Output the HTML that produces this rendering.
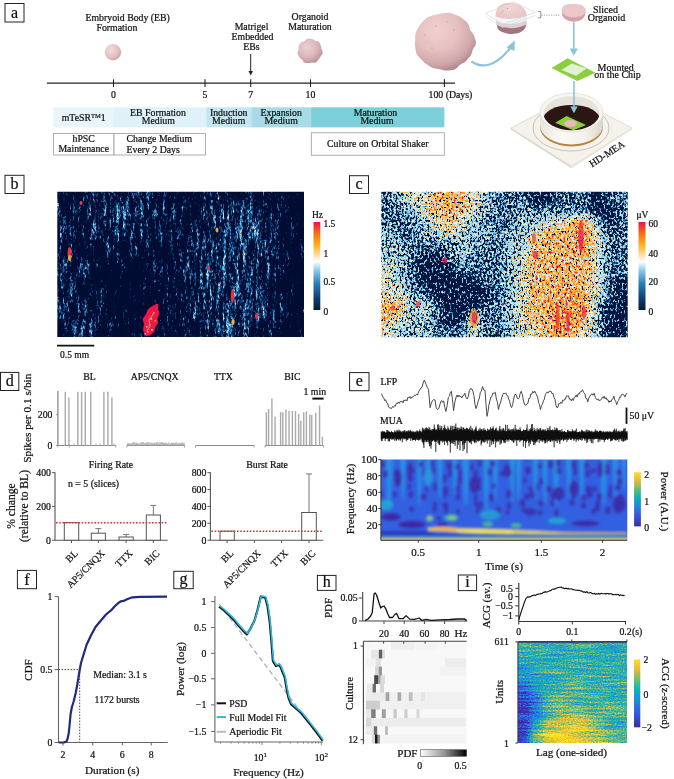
<!DOCTYPE html>
<html><head><meta charset="utf-8"><title>Figure</title>
<style>
html,body{margin:0;padding:0;background:#fff;}
body{width:674px;height:779px;overflow:hidden;}
svg{display:block;}
text{font-family:'Liberation Serif', 'Times New Roman', serif;stroke:#111;stroke-width:0.22px;}
</style></head><body>
<svg width="674" height="779" viewBox="0 0 674 779">
<defs>

<radialGradient id="eb" cx="0.38" cy="0.35" r="0.7">
<stop offset="0" stop-color="#f3dcdc"/><stop offset="0.6" stop-color="#e6c2c2"/><stop offset="1" stop-color="#cda2a6"/></radialGradient>
<radialGradient id="org" cx="0.38" cy="0.35" r="0.75">
<stop offset="0" stop-color="#ecd0d0"/><stop offset="0.55" stop-color="#dbb6b8"/><stop offset="1" stop-color="#b08a90"/></radialGradient>
<filter id="fB" x="37.3" y="171.7" width="286.7" height="185.3" filterUnits="userSpaceOnUse" primitiveUnits="userSpaceOnUse" color-interpolation-filters="sRGB">
<feGaussianBlur in="SourceGraphic" stdDeviation="4" result="fld"/>
<feTurbulence type="fractalNoise" baseFrequency="0.6 0.3" numOctaves="2" seed="7" result="tn"/>
<feColorMatrix in="tn" type="matrix" values="1 0 0 0 0  1 0 0 0 0  1 0 0 0 0  0 0 0 0 1" result="ng"/>
<feTurbulence type="fractalNoise" baseFrequency="0.3 0.05" numOctaves="2" seed="12" result="tn2"/>
<feColorMatrix in="tn2" type="matrix" values="1 0 0 0 0  1 0 0 0 0  1 0 0 0 0  0 0 0 0 1" result="ng2"/>
<feComposite in="fld" in2="ng" operator="arithmetic" k1="0" k2="1" k3="1.0" k4="-0.5" result="s1"/>
<feComposite in="s1" in2="ng2" operator="arithmetic" k1="0" k2="1" k3="1.1" k4="-0.55" result="sum"/>
<feComponentTransfer in="sum"><feFuncR type="table" tableValues="0.008 0.008 0.008 0.009 0.009 0.009 0.009 0.010 0.010 0.010 0.011 0.011 0.011 0.011 0.012 0.017 0.026 0.035 0.044 0.056 0.071 0.086 0.102 0.122 0.163 0.204 0.244 0.285 0.339 0.411 0.483 0.555 0.627 0.731 0.834 0.938 0.998 0.992 0.979 0.956 0.933"/><feFuncG type="table" tableValues="0.047 0.048 0.049 0.050 0.050 0.051 0.052 0.053 0.054 0.054 0.055 0.056 0.057 0.058 0.058 0.081 0.117 0.153 0.189 0.227 0.265 0.304 0.342 0.383 0.435 0.488 0.540 0.592 0.642 0.690 0.737 0.784 0.831 0.862 0.892 0.923 0.891 0.765 0.596 0.361 0.125"/><feFuncB type="table" tableValues="0.196 0.197 0.198 0.199 0.200 0.202 0.203 0.204 0.205 0.206 0.207 0.208 0.209 0.210 0.211 0.241 0.290 0.339 0.388 0.434 0.476 0.519 0.562 0.605 0.651 0.697 0.742 0.788 0.826 0.851 0.876 0.901 0.925 0.878 0.830 0.782 0.640 0.358 0.199 0.225 0.251"/><feFuncA type="linear" slope="0" intercept="1"/></feComponentTransfer>
</filter><filter id="fC" x="361.3" y="171.7" width="286.40000000000003" height="185.5" filterUnits="userSpaceOnUse" primitiveUnits="userSpaceOnUse" color-interpolation-filters="sRGB">
<feGaussianBlur in="SourceGraphic" stdDeviation="5" result="fld"/>
<feTurbulence type="fractalNoise" baseFrequency="0.5 0.35" numOctaves="2" seed="3" result="tn"/>
<feColorMatrix in="tn" type="matrix" values="1 0 0 0 0  1 0 0 0 0  1 0 0 0 0  0 0 0 0 1" result="ng"/>
<feTurbulence type="fractalNoise" baseFrequency="0.55 0.45" numOctaves="1" seed="9" result="td"/>
<feColorMatrix in="td" type="matrix" values="0 1 0 0 0  0 1 0 0 0  0 1 0 0 0  0 0 0 0 1" result="dg"/>
<feComponentTransfer in="dg" result="dm"><feFuncR type="table" tableValues="0 0 0 0 0 0 0 0 0 0 0 0 1 1 1 1 1 1 1 1 1 1 1 1 1 1 1 1 1 1 1 1 1 1"/><feFuncG type="table" tableValues="0 0 0 0 0 0 0 0 0 0 0 0 1 1 1 1 1 1 1 1 1 1 1 1 1 1 1 1 1 1 1 1 1 1"/><feFuncB type="table" tableValues="0 0 0 0 0 0 0 0 0 0 0 0 1 1 1 1 1 1 1 1 1 1 1 1 1 1 1 1 1 1 1 1 1 1"/></feComponentTransfer>
<feComposite in="fld" in2="ng" operator="arithmetic" k1="0" k2="1" k3="1.15" k4="-0.575" result="s1"/>
<feComposite in="s1" in2="dm" operator="arithmetic" k1="1" k2="0" k3="0" k4="0" result="sum"/>
<feComponentTransfer in="sum"><feFuncR type="table" tableValues="0.016 0.017 0.018 0.019 0.020 0.021 0.022 0.023 0.067 0.122 0.176 0.332 0.487 0.565 0.592 0.619 0.645 0.683 0.767 0.850 0.933 0.958 0.982 0.992 0.992 0.992 0.991 0.990 0.989 0.988 0.984 0.980 0.976 0.968 0.960 0.950 0.935 0.921 0.918 0.918 0.918"/><feFuncG type="table" tableValues="0.067 0.072 0.076 0.081 0.086 0.091 0.096 0.101 0.207 0.339 0.471 0.606 0.742 0.805 0.820 0.835 0.851 0.870 0.904 0.938 0.973 0.938 0.904 0.848 0.778 0.717 0.696 0.674 0.653 0.627 0.585 0.544 0.502 0.426 0.351 0.273 0.184 0.096 0.078 0.078 0.078"/><feFuncB type="table" tableValues="0.227 0.232 0.236 0.241 0.245 0.249 0.254 0.258 0.382 0.536 0.690 0.778 0.867 0.906 0.913 0.920 0.928 0.937 0.952 0.968 0.984 0.849 0.713 0.561 0.397 0.260 0.227 0.193 0.160 0.131 0.119 0.106 0.094 0.108 0.122 0.148 0.224 0.299 0.314 0.314 0.314"/><feFuncA type="linear" slope="0" intercept="1"/></feComponentTransfer>
</filter><clipPath id="cB"><rect x="57.3" y="191.7" width="246.7" height="145.3"/></clipPath><clipPath id="cC"><rect x="381.3" y="191.7" width="246.40000000000003" height="145.5"/></clipPath><linearGradient id="cbar" x1="0" y1="1" x2="0" y2="0">
<stop offset="0" stop-color="#061838"/><stop offset="0.12" stop-color="#0e3a6c"/><stop offset="0.3" stop-color="#2a7db5"/>
<stop offset="0.45" stop-color="#8ccbe5"/><stop offset="0.55" stop-color="#ffffff"/><stop offset="0.68" stop-color="#fdc860"/>
<stop offset="0.78" stop-color="#fca010"/><stop offset="0.9" stop-color="#f55a1e"/><stop offset="1" stop-color="#ee0f52"/></linearGradient><clipPath id="cS"><rect x="380.9" y="459.4" width="246.39999999999998" height="80.89999999999998"/></clipPath><filter id="bS" x="-5%" y="-5%" width="110%" height="110%"><feGaussianBlur stdDeviation="1.7"/></filter><filter id="bS2" x="-5%" y="-5%" width="110%" height="110%"><feGaussianBlur stdDeviation="0.8"/></filter><linearGradient id="parula" x1="0" y1="1" x2="0" y2="0">
<stop offset="0" stop-color="#3d2b9c"/><stop offset="0.2" stop-color="#3a55e0"/><stop offset="0.4" stop-color="#1e90d8"/>
<stop offset="0.55" stop-color="#12b0b8"/><stop offset="0.7" stop-color="#6cc070"/><stop offset="0.85" stop-color="#e8b840"/><stop offset="1" stop-color="#f8e420"/></linearGradient><filter id="bH" x="-5%" y="-5%" width="110%" height="110%"><feGaussianBlur stdDeviation="0.6"/></filter><linearGradient id="gray" x1="0" y1="0" x2="1" y2="0"><stop offset="0" stop-color="#fff"/><stop offset="0.5" stop-color="#9a9a9a"/><stop offset="1" stop-color="#000"/></linearGradient><filter id="fU" x="497.9" y="621.9" width="149.0" height="141.10000000000002" filterUnits="userSpaceOnUse" primitiveUnits="userSpaceOnUse" color-interpolation-filters="sRGB">
<feGaussianBlur in="SourceGraphic" stdDeviation="3.5" result="fld"/>
<feTurbulence type="fractalNoise" baseFrequency="0.6 0.9" numOctaves="1" seed="17" result="tn"/>
<feColorMatrix in="tn" type="matrix" values="1 0 0 0 0  1 0 0 0 0  1 0 0 0 0  0 0 0 0 1" result="ng"/>
<feTurbulence type="fractalNoise" baseFrequency="0.03 0.5" numOctaves="2" seed="23" result="tn2"/>
<feColorMatrix in="tn2" type="matrix" values="1 0 0 0 0  1 0 0 0 0  1 0 0 0 0  0 0 0 0 1" result="ng2"/>
<feComposite in="fld" in2="ng" operator="arithmetic" k1="0" k2="1" k3="0.75" k4="-0.375" result="s1"/>
<feComposite in="s1" in2="ng2" operator="arithmetic" k1="0" k2="1" k3="0.6" k4="-0.3" result="sum"/>
<feComponentTransfer in="sum"><feFuncR type="table" tableValues="0.239 0.238 0.236 0.234 0.233 0.230 0.221 0.211 0.202 0.193 0.184 0.170 0.156 0.141 0.127 0.113 0.106 0.101 0.096 0.091 0.104 0.121 0.138 0.189 0.263 0.336 0.410 0.482 0.552 0.623 0.693 0.755 0.809 0.864 0.919 0.945 0.950 0.956 0.961 0.967 0.973"/><feFuncG type="table" tableValues="0.169 0.185 0.201 0.218 0.234 0.254 0.288 0.322 0.356 0.390 0.424 0.453 0.482 0.512 0.541 0.571 0.594 0.615 0.637 0.658 0.675 0.689 0.704 0.716 0.725 0.735 0.745 0.748 0.746 0.744 0.742 0.744 0.749 0.754 0.759 0.777 0.803 0.830 0.857 0.883 0.910"/><feFuncB type="table" tableValues="0.612 0.659 0.707 0.754 0.801 0.842 0.856 0.869 0.883 0.896 0.910 0.901 0.892 0.883 0.874 0.865 0.845 0.824 0.802 0.781 0.749 0.715 0.680 0.637 0.588 0.539 0.490 0.452 0.420 0.389 0.358 0.326 0.295 0.264 0.232 0.210 0.193 0.176 0.159 0.142 0.125"/><feFuncA type="linear" slope="0" intercept="1"/></feComponentTransfer>
</filter><clipPath id="cU"><rect x="517.9" y="641.9" width="109.0" height="101.10000000000002"/></clipPath>
<radialGradient id="bigorg" cx="0.36" cy="0.3" r="0.8">
<stop offset="0" stop-color="#f0d2d1"/><stop offset="0.45" stop-color="#e5c0bf"/><stop offset="0.75" stop-color="#cfa6a8"/><stop offset="1" stop-color="#9c767c"/></radialGradient>
<radialGradient id="smorg" cx="0.45" cy="0.3" r="0.75">
<stop offset="0" stop-color="#efc9c8"/><stop offset="1" stop-color="#e0aeb0"/></radialGradient>
<linearGradient id="smbot" x1="0" y1="0" x2="0" y2="1"><stop offset="0" stop-color="#b58890"/><stop offset="1" stop-color="#8a5c66"/></linearGradient>
<linearGradient id="wall" x1="0" y1="0" x2="1" y2="0">
<stop offset="0" stop-color="#e8e6df"/><stop offset="0.35" stop-color="#fbfaf6"/><stop offset="0.75" stop-color="#f1efe8"/><stop offset="1" stop-color="#d8d5cc"/></linearGradient>
<filter id="soft" x="-10%" y="-10%" width="120%" height="120%"><feGaussianBlur stdDeviation="0.5"/></filter>
<clipPath id="cDish"><ellipse cx="571.5" cy="113.2" rx="28" ry="17"/></clipPath><filter id="fsp" x="-20%" y="-20%" width="140%" height="140%"><feGaussianBlur stdDeviation="0.5"/></filter>
</defs>
<rect x="0" y="0" width="674" height="779" fill="#fff"/>
<rect x="5.00" y="3.50" width="19.00" height="18.50" fill="#fff" stroke="#222" stroke-width="1"/>
<text x="14.50" y="17.50" font-size="16" text-anchor="middle" fill="#111">a</text>
<text x="85.50" y="20.50" font-size="9.8" fill="#111">Embryoid Body (EB)</text>
<text x="96.50" y="31.00" font-size="9.8" fill="#111">Formation</text>
<circle cx="113" cy="52.3" r="8.2" fill="url(#eb)"/>
<text x="251.50" y="29.80" font-size="9.8" text-anchor="middle" fill="#111">Matrigel</text>
<text x="252.50" y="40.40" font-size="9.8" text-anchor="middle" fill="#111">Embedded</text>
<text x="251.50" y="50.40" font-size="9.8" text-anchor="middle" fill="#111">EBs</text>
<line x1="250.70" y1="54.00" x2="250.70" y2="72.00" stroke="#222" stroke-width="1"/>
<path d="M248.5,71 L252.9,71 L250.7,75.5 Z" fill="#222"/>
<text x="310.00" y="20.20" font-size="9.8" text-anchor="middle" fill="#111">Organoid</text>
<text x="310.00" y="29.80" font-size="9.8" text-anchor="middle" fill="#111">Maturation</text>
<path d="M322.46,51.10 L322.78,53.35 L321.29,55.21 L320.29,57.04 L319.10,58.73 L317.77,60.36 L316.50,62.37 L314.22,62.70 L312.01,62.52 L310.00,63.12 L307.90,63.01 L305.66,63.02 L303.63,62.14 L302.56,59.97 L300.97,58.67 L299.32,57.27 L298.33,55.35 L297.40,53.32 L298.06,51.10 L298.75,49.12 L298.36,46.86 L299.16,44.84 L300.40,43.05 L302.09,41.67 L304.30,41.24 L305.88,39.77 L307.78,38.49 L310.00,38.72 L312.14,38.98 L314.01,40.09 L315.83,41.01 L318.24,41.28 L319.67,42.99 L320.45,45.07 L321.26,47.00 L321.43,49.08 Z" fill="url(#org)" filter="url(#soft)"/>
<line x1="46.90" y1="83.10" x2="455.00" y2="83.10" stroke="#222" stroke-width="1.1"/>
<line x1="113.50" y1="79.30" x2="113.50" y2="87.00" stroke="#222" stroke-width="1.1"/>
<line x1="205.00" y1="79.30" x2="205.00" y2="87.00" stroke="#222" stroke-width="1.1"/>
<line x1="250.70" y1="79.30" x2="250.70" y2="87.00" stroke="#222" stroke-width="1.1"/>
<line x1="310.50" y1="79.30" x2="310.50" y2="87.00" stroke="#222" stroke-width="1.1"/>
<line x1="444.40" y1="79.30" x2="444.40" y2="87.00" stroke="#222" stroke-width="1.1"/>
<text x="113.50" y="98.30" font-size="9.8" text-anchor="middle" fill="#111">0</text>
<text x="205.00" y="98.30" font-size="9.8" text-anchor="middle" fill="#111">5</text>
<text x="250.70" y="98.30" font-size="9.8" text-anchor="middle" fill="#111">7</text>
<text x="310.50" y="98.30" font-size="9.8" text-anchor="middle" fill="#111">10</text>
<text x="428.50" y="98.30" font-size="9.8" fill="#111">100 (Days)</text>
<rect x="53.40" y="107.30" width="60.60" height="20.10" fill="#e8f5fb"/>
<rect x="114.00" y="107.30" width="92.20" height="20.10" fill="#dff2fa"/>
<rect x="206.20" y="107.30" width="45.10" height="20.10" fill="#c3e6f0"/>
<rect x="251.30" y="107.30" width="59.80" height="20.10" fill="#a7dbe5"/>
<rect x="311.10" y="107.30" width="133.30" height="20.10" fill="#7dcfd9"/>
<text x="83.70" y="121.00" font-size="9.8" text-anchor="middle" fill="#111">mTeSR<tspan font-size="6.5" dy="-3.5">TM</tspan><tspan dy="3.5">1</tspan></text>
<text x="158.00" y="115.60" font-size="9.8" text-anchor="middle" fill="#111">EB Formation</text>
<text x="158.30" y="124.30" font-size="9.8" text-anchor="middle" fill="#111">Medium</text>
<text x="228.70" y="115.60" font-size="9.8" text-anchor="middle" fill="#111">Induction</text>
<text x="228.70" y="124.30" font-size="9.8" text-anchor="middle" fill="#111">Medium</text>
<text x="281.20" y="115.60" font-size="9.8" text-anchor="middle" fill="#111">Expansion</text>
<text x="281.20" y="124.30" font-size="9.8" text-anchor="middle" fill="#111">Medium</text>
<text x="375.50" y="115.60" font-size="9.8" text-anchor="middle" fill="#111">Maturation</text>
<text x="377.00" y="124.30" font-size="9.8" text-anchor="middle" fill="#111">Medium</text>
<rect x="53.40" y="133.40" width="60.60" height="21.60" fill="#fff" stroke="#9a9a9a" stroke-width="0.8"/>
<rect x="114.00" y="133.40" width="91.50" height="21.60" fill="#fff" stroke="#9a9a9a" stroke-width="0.8"/>
<rect x="311.30" y="132.80" width="133.00" height="22.40" fill="#fff" stroke="#9a9a9a" stroke-width="0.8"/>
<text x="83.70" y="142.30" font-size="9.8" text-anchor="middle" fill="#111">hPSC</text>
<text x="83.70" y="151.80" font-size="9.8" text-anchor="middle" fill="#111">Maintenance</text>
<text x="126.50" y="141.80" font-size="9.8" fill="#111">Change Medium</text>
<text x="126.50" y="153.30" font-size="9.8" fill="#111">Every 2 Days</text>
<text x="377.80" y="147.20" font-size="9.8" text-anchor="middle" fill="#111">Culture on Orbital Shaker</text>
<g clip-path="url(#cB)"><g filter="url(#fB)"><rect x="45.0" y="179.6" width="12.9" height="12.7" fill="rgb(51,51,51)"/><rect x="57.3" y="179.6" width="12.9" height="12.7" fill="rgb(51,51,51)"/><rect x="69.6" y="179.6" width="12.9" height="12.7" fill="rgb(51,51,51)"/><rect x="82.0" y="179.6" width="12.9" height="12.7" fill="rgb(79,79,79)"/><rect x="94.3" y="179.6" width="12.9" height="12.7" fill="rgb(79,79,79)"/><rect x="106.6" y="179.6" width="12.9" height="12.7" fill="rgb(79,79,79)"/><rect x="119.0" y="179.6" width="12.9" height="12.7" fill="rgb(79,79,79)"/><rect x="131.3" y="179.6" width="12.9" height="12.7" fill="rgb(79,79,79)"/><rect x="143.6" y="179.6" width="12.9" height="12.7" fill="rgb(79,79,79)"/><rect x="156.0" y="179.6" width="12.9" height="12.7" fill="rgb(51,51,51)"/><rect x="168.3" y="179.6" width="12.9" height="12.7" fill="rgb(51,51,51)"/><rect x="180.6" y="179.6" width="12.9" height="12.7" fill="rgb(51,51,51)"/><rect x="193.0" y="179.6" width="12.9" height="12.7" fill="rgb(51,51,51)"/><rect x="205.3" y="179.6" width="12.9" height="12.7" fill="rgb(79,79,79)"/><rect x="217.7" y="179.6" width="12.9" height="12.7" fill="rgb(79,79,79)"/><rect x="230.0" y="179.6" width="12.9" height="12.7" fill="rgb(79,79,79)"/><rect x="242.3" y="179.6" width="12.9" height="12.7" fill="rgb(79,79,79)"/><rect x="254.7" y="179.6" width="12.9" height="12.7" fill="rgb(51,51,51)"/><rect x="267.0" y="179.6" width="12.9" height="12.7" fill="rgb(51,51,51)"/><rect x="279.3" y="179.6" width="12.9" height="12.7" fill="rgb(51,51,51)"/><rect x="291.7" y="179.6" width="12.9" height="12.7" fill="rgb(15,15,15)"/><rect x="304.0" y="179.6" width="12.9" height="12.7" fill="rgb(15,15,15)"/><rect x="45.0" y="191.7" width="12.9" height="12.7" fill="rgb(51,51,51)"/><rect x="57.3" y="191.7" width="12.9" height="12.7" fill="rgb(51,51,51)"/><rect x="69.6" y="191.7" width="12.9" height="12.7" fill="rgb(51,51,51)"/><rect x="82.0" y="191.7" width="12.9" height="12.7" fill="rgb(79,79,79)"/><rect x="94.3" y="191.7" width="12.9" height="12.7" fill="rgb(79,79,79)"/><rect x="106.6" y="191.7" width="12.9" height="12.7" fill="rgb(79,79,79)"/><rect x="119.0" y="191.7" width="12.9" height="12.7" fill="rgb(79,79,79)"/><rect x="131.3" y="191.7" width="12.9" height="12.7" fill="rgb(79,79,79)"/><rect x="143.6" y="191.7" width="12.9" height="12.7" fill="rgb(79,79,79)"/><rect x="156.0" y="191.7" width="12.9" height="12.7" fill="rgb(51,51,51)"/><rect x="168.3" y="191.7" width="12.9" height="12.7" fill="rgb(51,51,51)"/><rect x="180.6" y="191.7" width="12.9" height="12.7" fill="rgb(51,51,51)"/><rect x="193.0" y="191.7" width="12.9" height="12.7" fill="rgb(51,51,51)"/><rect x="205.3" y="191.7" width="12.9" height="12.7" fill="rgb(79,79,79)"/><rect x="217.7" y="191.7" width="12.9" height="12.7" fill="rgb(79,79,79)"/><rect x="230.0" y="191.7" width="12.9" height="12.7" fill="rgb(79,79,79)"/><rect x="242.3" y="191.7" width="12.9" height="12.7" fill="rgb(79,79,79)"/><rect x="254.7" y="191.7" width="12.9" height="12.7" fill="rgb(51,51,51)"/><rect x="267.0" y="191.7" width="12.9" height="12.7" fill="rgb(51,51,51)"/><rect x="279.3" y="191.7" width="12.9" height="12.7" fill="rgb(51,51,51)"/><rect x="291.7" y="191.7" width="12.9" height="12.7" fill="rgb(15,15,15)"/><rect x="304.0" y="191.7" width="12.9" height="12.7" fill="rgb(15,15,15)"/><rect x="45.0" y="203.8" width="12.9" height="12.7" fill="rgb(79,79,79)"/><rect x="57.3" y="203.8" width="12.9" height="12.7" fill="rgb(79,79,79)"/><rect x="69.6" y="203.8" width="12.9" height="12.7" fill="rgb(51,51,51)"/><rect x="82.0" y="203.8" width="12.9" height="12.7" fill="rgb(79,79,79)"/><rect x="94.3" y="203.8" width="12.9" height="12.7" fill="rgb(79,79,79)"/><rect x="106.6" y="203.8" width="12.9" height="12.7" fill="rgb(105,105,105)"/><rect x="119.0" y="203.8" width="12.9" height="12.7" fill="rgb(105,105,105)"/><rect x="131.3" y="203.8" width="12.9" height="12.7" fill="rgb(105,105,105)"/><rect x="143.6" y="203.8" width="12.9" height="12.7" fill="rgb(79,79,79)"/><rect x="156.0" y="203.8" width="12.9" height="12.7" fill="rgb(79,79,79)"/><rect x="168.3" y="203.8" width="12.9" height="12.7" fill="rgb(51,51,51)"/><rect x="180.6" y="203.8" width="12.9" height="12.7" fill="rgb(51,51,51)"/><rect x="193.0" y="203.8" width="12.9" height="12.7" fill="rgb(79,79,79)"/><rect x="205.3" y="203.8" width="12.9" height="12.7" fill="rgb(79,79,79)"/><rect x="217.7" y="203.8" width="12.9" height="12.7" fill="rgb(79,79,79)"/><rect x="230.0" y="203.8" width="12.9" height="12.7" fill="rgb(79,79,79)"/><rect x="242.3" y="203.8" width="12.9" height="12.7" fill="rgb(105,105,105)"/><rect x="254.7" y="203.8" width="12.9" height="12.7" fill="rgb(79,79,79)"/><rect x="267.0" y="203.8" width="12.9" height="12.7" fill="rgb(51,51,51)"/><rect x="279.3" y="203.8" width="12.9" height="12.7" fill="rgb(51,51,51)"/><rect x="291.7" y="203.8" width="12.9" height="12.7" fill="rgb(15,15,15)"/><rect x="304.0" y="203.8" width="12.9" height="12.7" fill="rgb(15,15,15)"/><rect x="45.0" y="215.9" width="12.9" height="12.7" fill="rgb(79,79,79)"/><rect x="57.3" y="215.9" width="12.9" height="12.7" fill="rgb(79,79,79)"/><rect x="69.6" y="215.9" width="12.9" height="12.7" fill="rgb(51,51,51)"/><rect x="82.0" y="215.9" width="12.9" height="12.7" fill="rgb(79,79,79)"/><rect x="94.3" y="215.9" width="12.9" height="12.7" fill="rgb(79,79,79)"/><rect x="106.6" y="215.9" width="12.9" height="12.7" fill="rgb(105,105,105)"/><rect x="119.0" y="215.9" width="12.9" height="12.7" fill="rgb(105,105,105)"/><rect x="131.3" y="215.9" width="12.9" height="12.7" fill="rgb(79,79,79)"/><rect x="143.6" y="215.9" width="12.9" height="12.7" fill="rgb(79,79,79)"/><rect x="156.0" y="215.9" width="12.9" height="12.7" fill="rgb(79,79,79)"/><rect x="168.3" y="215.9" width="12.9" height="12.7" fill="rgb(79,79,79)"/><rect x="180.6" y="215.9" width="12.9" height="12.7" fill="rgb(51,51,51)"/><rect x="193.0" y="215.9" width="12.9" height="12.7" fill="rgb(79,79,79)"/><rect x="205.3" y="215.9" width="12.9" height="12.7" fill="rgb(105,105,105)"/><rect x="217.7" y="215.9" width="12.9" height="12.7" fill="rgb(105,105,105)"/><rect x="230.0" y="215.9" width="12.9" height="12.7" fill="rgb(105,105,105)"/><rect x="242.3" y="215.9" width="12.9" height="12.7" fill="rgb(125,125,125)"/><rect x="254.7" y="215.9" width="12.9" height="12.7" fill="rgb(105,105,105)"/><rect x="267.0" y="215.9" width="12.9" height="12.7" fill="rgb(79,79,79)"/><rect x="279.3" y="215.9" width="12.9" height="12.7" fill="rgb(51,51,51)"/><rect x="291.7" y="215.9" width="12.9" height="12.7" fill="rgb(15,15,15)"/><rect x="304.0" y="215.9" width="12.9" height="12.7" fill="rgb(15,15,15)"/><rect x="45.0" y="228.0" width="12.9" height="12.7" fill="rgb(79,79,79)"/><rect x="57.3" y="228.0" width="12.9" height="12.7" fill="rgb(79,79,79)"/><rect x="69.6" y="228.0" width="12.9" height="12.7" fill="rgb(51,51,51)"/><rect x="82.0" y="228.0" width="12.9" height="12.7" fill="rgb(79,79,79)"/><rect x="94.3" y="228.0" width="12.9" height="12.7" fill="rgb(79,79,79)"/><rect x="106.6" y="228.0" width="12.9" height="12.7" fill="rgb(79,79,79)"/><rect x="119.0" y="228.0" width="12.9" height="12.7" fill="rgb(79,79,79)"/><rect x="131.3" y="228.0" width="12.9" height="12.7" fill="rgb(79,79,79)"/><rect x="143.6" y="228.0" width="12.9" height="12.7" fill="rgb(79,79,79)"/><rect x="156.0" y="228.0" width="12.9" height="12.7" fill="rgb(79,79,79)"/><rect x="168.3" y="228.0" width="12.9" height="12.7" fill="rgb(79,79,79)"/><rect x="180.6" y="228.0" width="12.9" height="12.7" fill="rgb(79,79,79)"/><rect x="193.0" y="228.0" width="12.9" height="12.7" fill="rgb(79,79,79)"/><rect x="205.3" y="228.0" width="12.9" height="12.7" fill="rgb(105,105,105)"/><rect x="217.7" y="228.0" width="12.9" height="12.7" fill="rgb(105,105,105)"/><rect x="230.0" y="228.0" width="12.9" height="12.7" fill="rgb(105,105,105)"/><rect x="242.3" y="228.0" width="12.9" height="12.7" fill="rgb(125,125,125)"/><rect x="254.7" y="228.0" width="12.9" height="12.7" fill="rgb(105,105,105)"/><rect x="267.0" y="228.0" width="12.9" height="12.7" fill="rgb(79,79,79)"/><rect x="279.3" y="228.0" width="12.9" height="12.7" fill="rgb(51,51,51)"/><rect x="291.7" y="228.0" width="12.9" height="12.7" fill="rgb(15,15,15)"/><rect x="304.0" y="228.0" width="12.9" height="12.7" fill="rgb(15,15,15)"/><rect x="45.0" y="240.1" width="12.9" height="12.7" fill="rgb(79,79,79)"/><rect x="57.3" y="240.1" width="12.9" height="12.7" fill="rgb(79,79,79)"/><rect x="69.6" y="240.1" width="12.9" height="12.7" fill="rgb(79,79,79)"/><rect x="82.0" y="240.1" width="12.9" height="12.7" fill="rgb(51,51,51)"/><rect x="94.3" y="240.1" width="12.9" height="12.7" fill="rgb(79,79,79)"/><rect x="106.6" y="240.1" width="12.9" height="12.7" fill="rgb(79,79,79)"/><rect x="119.0" y="240.1" width="12.9" height="12.7" fill="rgb(51,51,51)"/><rect x="131.3" y="240.1" width="12.9" height="12.7" fill="rgb(79,79,79)"/><rect x="143.6" y="240.1" width="12.9" height="12.7" fill="rgb(79,79,79)"/><rect x="156.0" y="240.1" width="12.9" height="12.7" fill="rgb(51,51,51)"/><rect x="168.3" y="240.1" width="12.9" height="12.7" fill="rgb(51,51,51)"/><rect x="180.6" y="240.1" width="12.9" height="12.7" fill="rgb(79,79,79)"/><rect x="193.0" y="240.1" width="12.9" height="12.7" fill="rgb(79,79,79)"/><rect x="205.3" y="240.1" width="12.9" height="12.7" fill="rgb(105,105,105)"/><rect x="217.7" y="240.1" width="12.9" height="12.7" fill="rgb(105,105,105)"/><rect x="230.0" y="240.1" width="12.9" height="12.7" fill="rgb(105,105,105)"/><rect x="242.3" y="240.1" width="12.9" height="12.7" fill="rgb(125,125,125)"/><rect x="254.7" y="240.1" width="12.9" height="12.7" fill="rgb(105,105,105)"/><rect x="267.0" y="240.1" width="12.9" height="12.7" fill="rgb(79,79,79)"/><rect x="279.3" y="240.1" width="12.9" height="12.7" fill="rgb(51,51,51)"/><rect x="291.7" y="240.1" width="12.9" height="12.7" fill="rgb(51,51,51)"/><rect x="304.0" y="240.1" width="12.9" height="12.7" fill="rgb(51,51,51)"/><rect x="45.0" y="252.2" width="12.9" height="12.7" fill="rgb(105,105,105)"/><rect x="57.3" y="252.2" width="12.9" height="12.7" fill="rgb(105,105,105)"/><rect x="69.6" y="252.2" width="12.9" height="12.7" fill="rgb(79,79,79)"/><rect x="82.0" y="252.2" width="12.9" height="12.7" fill="rgb(51,51,51)"/><rect x="94.3" y="252.2" width="12.9" height="12.7" fill="rgb(51,51,51)"/><rect x="106.6" y="252.2" width="12.9" height="12.7" fill="rgb(51,51,51)"/><rect x="119.0" y="252.2" width="12.9" height="12.7" fill="rgb(79,79,79)"/><rect x="131.3" y="252.2" width="12.9" height="12.7" fill="rgb(51,51,51)"/><rect x="143.6" y="252.2" width="12.9" height="12.7" fill="rgb(51,51,51)"/><rect x="156.0" y="252.2" width="12.9" height="12.7" fill="rgb(51,51,51)"/><rect x="168.3" y="252.2" width="12.9" height="12.7" fill="rgb(51,51,51)"/><rect x="180.6" y="252.2" width="12.9" height="12.7" fill="rgb(79,79,79)"/><rect x="193.0" y="252.2" width="12.9" height="12.7" fill="rgb(79,79,79)"/><rect x="205.3" y="252.2" width="12.9" height="12.7" fill="rgb(105,105,105)"/><rect x="217.7" y="252.2" width="12.9" height="12.7" fill="rgb(105,105,105)"/><rect x="230.0" y="252.2" width="12.9" height="12.7" fill="rgb(105,105,105)"/><rect x="242.3" y="252.2" width="12.9" height="12.7" fill="rgb(105,105,105)"/><rect x="254.7" y="252.2" width="12.9" height="12.7" fill="rgb(79,79,79)"/><rect x="267.0" y="252.2" width="12.9" height="12.7" fill="rgb(79,79,79)"/><rect x="279.3" y="252.2" width="12.9" height="12.7" fill="rgb(51,51,51)"/><rect x="291.7" y="252.2" width="12.9" height="12.7" fill="rgb(15,15,15)"/><rect x="304.0" y="252.2" width="12.9" height="12.7" fill="rgb(15,15,15)"/><rect x="45.0" y="264.4" width="12.9" height="12.7" fill="rgb(79,79,79)"/><rect x="57.3" y="264.4" width="12.9" height="12.7" fill="rgb(79,79,79)"/><rect x="69.6" y="264.4" width="12.9" height="12.7" fill="rgb(79,79,79)"/><rect x="82.0" y="264.4" width="12.9" height="12.7" fill="rgb(51,51,51)"/><rect x="94.3" y="264.4" width="12.9" height="12.7" fill="rgb(51,51,51)"/><rect x="106.6" y="264.4" width="12.9" height="12.7" fill="rgb(15,15,15)"/><rect x="119.0" y="264.4" width="12.9" height="12.7" fill="rgb(15,15,15)"/><rect x="131.3" y="264.4" width="12.9" height="12.7" fill="rgb(15,15,15)"/><rect x="143.6" y="264.4" width="12.9" height="12.7" fill="rgb(51,51,51)"/><rect x="156.0" y="264.4" width="12.9" height="12.7" fill="rgb(51,51,51)"/><rect x="168.3" y="264.4" width="12.9" height="12.7" fill="rgb(51,51,51)"/><rect x="180.6" y="264.4" width="12.9" height="12.7" fill="rgb(79,79,79)"/><rect x="193.0" y="264.4" width="12.9" height="12.7" fill="rgb(79,79,79)"/><rect x="205.3" y="264.4" width="12.9" height="12.7" fill="rgb(105,105,105)"/><rect x="217.7" y="264.4" width="12.9" height="12.7" fill="rgb(105,105,105)"/><rect x="230.0" y="264.4" width="12.9" height="12.7" fill="rgb(105,105,105)"/><rect x="242.3" y="264.4" width="12.9" height="12.7" fill="rgb(105,105,105)"/><rect x="254.7" y="264.4" width="12.9" height="12.7" fill="rgb(79,79,79)"/><rect x="267.0" y="264.4" width="12.9" height="12.7" fill="rgb(79,79,79)"/><rect x="279.3" y="264.4" width="12.9" height="12.7" fill="rgb(51,51,51)"/><rect x="291.7" y="264.4" width="12.9" height="12.7" fill="rgb(15,15,15)"/><rect x="304.0" y="264.4" width="12.9" height="12.7" fill="rgb(15,15,15)"/><rect x="45.0" y="276.5" width="12.9" height="12.7" fill="rgb(79,79,79)"/><rect x="57.3" y="276.5" width="12.9" height="12.7" fill="rgb(79,79,79)"/><rect x="69.6" y="276.5" width="12.9" height="12.7" fill="rgb(79,79,79)"/><rect x="82.0" y="276.5" width="12.9" height="12.7" fill="rgb(51,51,51)"/><rect x="94.3" y="276.5" width="12.9" height="12.7" fill="rgb(15,15,15)"/><rect x="106.6" y="276.5" width="12.9" height="12.7" fill="rgb(15,15,15)"/><rect x="119.0" y="276.5" width="12.9" height="12.7" fill="rgb(15,15,15)"/><rect x="131.3" y="276.5" width="12.9" height="12.7" fill="rgb(15,15,15)"/><rect x="143.6" y="276.5" width="12.9" height="12.7" fill="rgb(15,15,15)"/><rect x="156.0" y="276.5" width="12.9" height="12.7" fill="rgb(51,51,51)"/><rect x="168.3" y="276.5" width="12.9" height="12.7" fill="rgb(51,51,51)"/><rect x="180.6" y="276.5" width="12.9" height="12.7" fill="rgb(79,79,79)"/><rect x="193.0" y="276.5" width="12.9" height="12.7" fill="rgb(105,105,105)"/><rect x="205.3" y="276.5" width="12.9" height="12.7" fill="rgb(105,105,105)"/><rect x="217.7" y="276.5" width="12.9" height="12.7" fill="rgb(105,105,105)"/><rect x="230.0" y="276.5" width="12.9" height="12.7" fill="rgb(105,105,105)"/><rect x="242.3" y="276.5" width="12.9" height="12.7" fill="rgb(105,105,105)"/><rect x="254.7" y="276.5" width="12.9" height="12.7" fill="rgb(79,79,79)"/><rect x="267.0" y="276.5" width="12.9" height="12.7" fill="rgb(51,51,51)"/><rect x="279.3" y="276.5" width="12.9" height="12.7" fill="rgb(51,51,51)"/><rect x="291.7" y="276.5" width="12.9" height="12.7" fill="rgb(15,15,15)"/><rect x="304.0" y="276.5" width="12.9" height="12.7" fill="rgb(15,15,15)"/><rect x="45.0" y="288.6" width="12.9" height="12.7" fill="rgb(79,79,79)"/><rect x="57.3" y="288.6" width="12.9" height="12.7" fill="rgb(79,79,79)"/><rect x="69.6" y="288.6" width="12.9" height="12.7" fill="rgb(79,79,79)"/><rect x="82.0" y="288.6" width="12.9" height="12.7" fill="rgb(51,51,51)"/><rect x="94.3" y="288.6" width="12.9" height="12.7" fill="rgb(51,51,51)"/><rect x="106.6" y="288.6" width="12.9" height="12.7" fill="rgb(15,15,15)"/><rect x="119.0" y="288.6" width="12.9" height="12.7" fill="rgb(15,15,15)"/><rect x="131.3" y="288.6" width="12.9" height="12.7" fill="rgb(15,15,15)"/><rect x="143.6" y="288.6" width="12.9" height="12.7" fill="rgb(15,15,15)"/><rect x="156.0" y="288.6" width="12.9" height="12.7" fill="rgb(51,51,51)"/><rect x="168.3" y="288.6" width="12.9" height="12.7" fill="rgb(51,51,51)"/><rect x="180.6" y="288.6" width="12.9" height="12.7" fill="rgb(79,79,79)"/><rect x="193.0" y="288.6" width="12.9" height="12.7" fill="rgb(79,79,79)"/><rect x="205.3" y="288.6" width="12.9" height="12.7" fill="rgb(105,105,105)"/><rect x="217.7" y="288.6" width="12.9" height="12.7" fill="rgb(105,105,105)"/><rect x="230.0" y="288.6" width="12.9" height="12.7" fill="rgb(105,105,105)"/><rect x="242.3" y="288.6" width="12.9" height="12.7" fill="rgb(105,105,105)"/><rect x="254.7" y="288.6" width="12.9" height="12.7" fill="rgb(105,105,105)"/><rect x="267.0" y="288.6" width="12.9" height="12.7" fill="rgb(79,79,79)"/><rect x="279.3" y="288.6" width="12.9" height="12.7" fill="rgb(51,51,51)"/><rect x="291.7" y="288.6" width="12.9" height="12.7" fill="rgb(15,15,15)"/><rect x="304.0" y="288.6" width="12.9" height="12.7" fill="rgb(15,15,15)"/><rect x="45.0" y="300.7" width="12.9" height="12.7" fill="rgb(79,79,79)"/><rect x="57.3" y="300.7" width="12.9" height="12.7" fill="rgb(79,79,79)"/><rect x="69.6" y="300.7" width="12.9" height="12.7" fill="rgb(79,79,79)"/><rect x="82.0" y="300.7" width="12.9" height="12.7" fill="rgb(79,79,79)"/><rect x="94.3" y="300.7" width="12.9" height="12.7" fill="rgb(105,105,105)"/><rect x="106.6" y="300.7" width="12.9" height="12.7" fill="rgb(51,51,51)"/><rect x="119.0" y="300.7" width="12.9" height="12.7" fill="rgb(15,15,15)"/><rect x="131.3" y="300.7" width="12.9" height="12.7" fill="rgb(15,15,15)"/><rect x="143.6" y="300.7" width="12.9" height="12.7" fill="rgb(15,15,15)"/><rect x="156.0" y="300.7" width="12.9" height="12.7" fill="rgb(51,51,51)"/><rect x="168.3" y="300.7" width="12.9" height="12.7" fill="rgb(51,51,51)"/><rect x="180.6" y="300.7" width="12.9" height="12.7" fill="rgb(79,79,79)"/><rect x="193.0" y="300.7" width="12.9" height="12.7" fill="rgb(79,79,79)"/><rect x="205.3" y="300.7" width="12.9" height="12.7" fill="rgb(105,105,105)"/><rect x="217.7" y="300.7" width="12.9" height="12.7" fill="rgb(105,105,105)"/><rect x="230.0" y="300.7" width="12.9" height="12.7" fill="rgb(105,105,105)"/><rect x="242.3" y="300.7" width="12.9" height="12.7" fill="rgb(105,105,105)"/><rect x="254.7" y="300.7" width="12.9" height="12.7" fill="rgb(105,105,105)"/><rect x="267.0" y="300.7" width="12.9" height="12.7" fill="rgb(79,79,79)"/><rect x="279.3" y="300.7" width="12.9" height="12.7" fill="rgb(51,51,51)"/><rect x="291.7" y="300.7" width="12.9" height="12.7" fill="rgb(15,15,15)"/><rect x="304.0" y="300.7" width="12.9" height="12.7" fill="rgb(15,15,15)"/><rect x="45.0" y="312.8" width="12.9" height="12.7" fill="rgb(79,79,79)"/><rect x="57.3" y="312.8" width="12.9" height="12.7" fill="rgb(79,79,79)"/><rect x="69.6" y="312.8" width="12.9" height="12.7" fill="rgb(79,79,79)"/><rect x="82.0" y="312.8" width="12.9" height="12.7" fill="rgb(79,79,79)"/><rect x="94.3" y="312.8" width="12.9" height="12.7" fill="rgb(79,79,79)"/><rect x="106.6" y="312.8" width="12.9" height="12.7" fill="rgb(51,51,51)"/><rect x="119.0" y="312.8" width="12.9" height="12.7" fill="rgb(15,15,15)"/><rect x="131.3" y="312.8" width="12.9" height="12.7" fill="rgb(15,15,15)"/><rect x="143.6" y="312.8" width="12.9" height="12.7" fill="rgb(15,15,15)"/><rect x="156.0" y="312.8" width="12.9" height="12.7" fill="rgb(51,51,51)"/><rect x="168.3" y="312.8" width="12.9" height="12.7" fill="rgb(51,51,51)"/><rect x="180.6" y="312.8" width="12.9" height="12.7" fill="rgb(79,79,79)"/><rect x="193.0" y="312.8" width="12.9" height="12.7" fill="rgb(79,79,79)"/><rect x="205.3" y="312.8" width="12.9" height="12.7" fill="rgb(105,105,105)"/><rect x="217.7" y="312.8" width="12.9" height="12.7" fill="rgb(105,105,105)"/><rect x="230.0" y="312.8" width="12.9" height="12.7" fill="rgb(105,105,105)"/><rect x="242.3" y="312.8" width="12.9" height="12.7" fill="rgb(105,105,105)"/><rect x="254.7" y="312.8" width="12.9" height="12.7" fill="rgb(105,105,105)"/><rect x="267.0" y="312.8" width="12.9" height="12.7" fill="rgb(79,79,79)"/><rect x="279.3" y="312.8" width="12.9" height="12.7" fill="rgb(51,51,51)"/><rect x="291.7" y="312.8" width="12.9" height="12.7" fill="rgb(15,15,15)"/><rect x="304.0" y="312.8" width="12.9" height="12.7" fill="rgb(15,15,15)"/><rect x="45.0" y="324.9" width="12.9" height="12.7" fill="rgb(51,51,51)"/><rect x="57.3" y="324.9" width="12.9" height="12.7" fill="rgb(51,51,51)"/><rect x="69.6" y="324.9" width="12.9" height="12.7" fill="rgb(79,79,79)"/><rect x="82.0" y="324.9" width="12.9" height="12.7" fill="rgb(79,79,79)"/><rect x="94.3" y="324.9" width="12.9" height="12.7" fill="rgb(51,51,51)"/><rect x="106.6" y="324.9" width="12.9" height="12.7" fill="rgb(51,51,51)"/><rect x="119.0" y="324.9" width="12.9" height="12.7" fill="rgb(15,15,15)"/><rect x="131.3" y="324.9" width="12.9" height="12.7" fill="rgb(51,51,51)"/><rect x="143.6" y="324.9" width="12.9" height="12.7" fill="rgb(51,51,51)"/><rect x="156.0" y="324.9" width="12.9" height="12.7" fill="rgb(51,51,51)"/><rect x="168.3" y="324.9" width="12.9" height="12.7" fill="rgb(51,51,51)"/><rect x="180.6" y="324.9" width="12.9" height="12.7" fill="rgb(51,51,51)"/><rect x="193.0" y="324.9" width="12.9" height="12.7" fill="rgb(79,79,79)"/><rect x="205.3" y="324.9" width="12.9" height="12.7" fill="rgb(79,79,79)"/><rect x="217.7" y="324.9" width="12.9" height="12.7" fill="rgb(105,105,105)"/><rect x="230.0" y="324.9" width="12.9" height="12.7" fill="rgb(105,105,105)"/><rect x="242.3" y="324.9" width="12.9" height="12.7" fill="rgb(79,79,79)"/><rect x="254.7" y="324.9" width="12.9" height="12.7" fill="rgb(79,79,79)"/><rect x="267.0" y="324.9" width="12.9" height="12.7" fill="rgb(51,51,51)"/><rect x="279.3" y="324.9" width="12.9" height="12.7" fill="rgb(15,15,15)"/><rect x="291.7" y="324.9" width="12.9" height="12.7" fill="rgb(15,15,15)"/><rect x="304.0" y="324.9" width="12.9" height="12.7" fill="rgb(15,15,15)"/><rect x="45.0" y="337.0" width="12.9" height="12.7" fill="rgb(51,51,51)"/><rect x="57.3" y="337.0" width="12.9" height="12.7" fill="rgb(51,51,51)"/><rect x="69.6" y="337.0" width="12.9" height="12.7" fill="rgb(79,79,79)"/><rect x="82.0" y="337.0" width="12.9" height="12.7" fill="rgb(79,79,79)"/><rect x="94.3" y="337.0" width="12.9" height="12.7" fill="rgb(51,51,51)"/><rect x="106.6" y="337.0" width="12.9" height="12.7" fill="rgb(51,51,51)"/><rect x="119.0" y="337.0" width="12.9" height="12.7" fill="rgb(15,15,15)"/><rect x="131.3" y="337.0" width="12.9" height="12.7" fill="rgb(51,51,51)"/><rect x="143.6" y="337.0" width="12.9" height="12.7" fill="rgb(51,51,51)"/><rect x="156.0" y="337.0" width="12.9" height="12.7" fill="rgb(51,51,51)"/><rect x="168.3" y="337.0" width="12.9" height="12.7" fill="rgb(51,51,51)"/><rect x="180.6" y="337.0" width="12.9" height="12.7" fill="rgb(51,51,51)"/><rect x="193.0" y="337.0" width="12.9" height="12.7" fill="rgb(79,79,79)"/><rect x="205.3" y="337.0" width="12.9" height="12.7" fill="rgb(79,79,79)"/><rect x="217.7" y="337.0" width="12.9" height="12.7" fill="rgb(105,105,105)"/><rect x="230.0" y="337.0" width="12.9" height="12.7" fill="rgb(105,105,105)"/><rect x="242.3" y="337.0" width="12.9" height="12.7" fill="rgb(79,79,79)"/><rect x="254.7" y="337.0" width="12.9" height="12.7" fill="rgb(79,79,79)"/><rect x="267.0" y="337.0" width="12.9" height="12.7" fill="rgb(51,51,51)"/><rect x="279.3" y="337.0" width="12.9" height="12.7" fill="rgb(15,15,15)"/><rect x="291.7" y="337.0" width="12.9" height="12.7" fill="rgb(15,15,15)"/><rect x="304.0" y="337.0" width="12.9" height="12.7" fill="rgb(15,15,15)"/></g></g>
<g clip-path="url(#cC)"><g filter="url(#fC)"><rect x="369.0" y="179.6" width="12.9" height="12.7" fill="rgb(64,64,64)"/><rect x="381.3" y="179.6" width="12.9" height="12.7" fill="rgb(64,64,64)"/><rect x="393.6" y="179.6" width="12.9" height="12.7" fill="rgb(92,92,92)"/><rect x="405.9" y="179.6" width="12.9" height="12.7" fill="rgb(128,128,128)"/><rect x="418.3" y="179.6" width="12.9" height="12.7" fill="rgb(128,128,128)"/><rect x="430.6" y="179.6" width="12.9" height="12.7" fill="rgb(163,163,163)"/><rect x="442.9" y="179.6" width="12.9" height="12.7" fill="rgb(163,163,163)"/><rect x="455.2" y="179.6" width="12.9" height="12.7" fill="rgb(163,163,163)"/><rect x="467.5" y="179.6" width="12.9" height="12.7" fill="rgb(128,128,128)"/><rect x="479.9" y="179.6" width="12.9" height="12.7" fill="rgb(92,92,92)"/><rect x="492.2" y="179.6" width="12.9" height="12.7" fill="rgb(64,64,64)"/><rect x="504.5" y="179.6" width="12.9" height="12.7" fill="rgb(64,64,64)"/><rect x="516.8" y="179.6" width="12.9" height="12.7" fill="rgb(64,64,64)"/><rect x="529.1" y="179.6" width="12.9" height="12.7" fill="rgb(26,26,26)"/><rect x="541.5" y="179.6" width="12.9" height="12.7" fill="rgb(26,26,26)"/><rect x="553.8" y="179.6" width="12.9" height="12.7" fill="rgb(64,64,64)"/><rect x="566.1" y="179.6" width="12.9" height="12.7" fill="rgb(64,64,64)"/><rect x="578.4" y="179.6" width="12.9" height="12.7" fill="rgb(64,64,64)"/><rect x="590.7" y="179.6" width="12.9" height="12.7" fill="rgb(26,26,26)"/><rect x="603.1" y="179.6" width="12.9" height="12.7" fill="rgb(64,64,64)"/><rect x="615.4" y="179.6" width="12.9" height="12.7" fill="rgb(64,64,64)"/><rect x="627.7" y="179.6" width="12.9" height="12.7" fill="rgb(64,64,64)"/><rect x="369.0" y="191.7" width="12.9" height="12.7" fill="rgb(64,64,64)"/><rect x="381.3" y="191.7" width="12.9" height="12.7" fill="rgb(64,64,64)"/><rect x="393.6" y="191.7" width="12.9" height="12.7" fill="rgb(92,92,92)"/><rect x="405.9" y="191.7" width="12.9" height="12.7" fill="rgb(128,128,128)"/><rect x="418.3" y="191.7" width="12.9" height="12.7" fill="rgb(128,128,128)"/><rect x="430.6" y="191.7" width="12.9" height="12.7" fill="rgb(163,163,163)"/><rect x="442.9" y="191.7" width="12.9" height="12.7" fill="rgb(163,163,163)"/><rect x="455.2" y="191.7" width="12.9" height="12.7" fill="rgb(163,163,163)"/><rect x="467.5" y="191.7" width="12.9" height="12.7" fill="rgb(128,128,128)"/><rect x="479.9" y="191.7" width="12.9" height="12.7" fill="rgb(92,92,92)"/><rect x="492.2" y="191.7" width="12.9" height="12.7" fill="rgb(64,64,64)"/><rect x="504.5" y="191.7" width="12.9" height="12.7" fill="rgb(64,64,64)"/><rect x="516.8" y="191.7" width="12.9" height="12.7" fill="rgb(64,64,64)"/><rect x="529.1" y="191.7" width="12.9" height="12.7" fill="rgb(26,26,26)"/><rect x="541.5" y="191.7" width="12.9" height="12.7" fill="rgb(26,26,26)"/><rect x="553.8" y="191.7" width="12.9" height="12.7" fill="rgb(64,64,64)"/><rect x="566.1" y="191.7" width="12.9" height="12.7" fill="rgb(64,64,64)"/><rect x="578.4" y="191.7" width="12.9" height="12.7" fill="rgb(64,64,64)"/><rect x="590.7" y="191.7" width="12.9" height="12.7" fill="rgb(26,26,26)"/><rect x="603.1" y="191.7" width="12.9" height="12.7" fill="rgb(64,64,64)"/><rect x="615.4" y="191.7" width="12.9" height="12.7" fill="rgb(64,64,64)"/><rect x="627.7" y="191.7" width="12.9" height="12.7" fill="rgb(64,64,64)"/><rect x="369.0" y="203.8" width="12.9" height="12.7" fill="rgb(64,64,64)"/><rect x="381.3" y="203.8" width="12.9" height="12.7" fill="rgb(64,64,64)"/><rect x="393.6" y="203.8" width="12.9" height="12.7" fill="rgb(64,64,64)"/><rect x="405.9" y="203.8" width="12.9" height="12.7" fill="rgb(92,92,92)"/><rect x="418.3" y="203.8" width="12.9" height="12.7" fill="rgb(128,128,128)"/><rect x="430.6" y="203.8" width="12.9" height="12.7" fill="rgb(163,163,163)"/><rect x="442.9" y="203.8" width="12.9" height="12.7" fill="rgb(163,163,163)"/><rect x="455.2" y="203.8" width="12.9" height="12.7" fill="rgb(163,163,163)"/><rect x="467.5" y="203.8" width="12.9" height="12.7" fill="rgb(128,128,128)"/><rect x="479.9" y="203.8" width="12.9" height="12.7" fill="rgb(92,92,92)"/><rect x="492.2" y="203.8" width="12.9" height="12.7" fill="rgb(64,64,64)"/><rect x="504.5" y="203.8" width="12.9" height="12.7" fill="rgb(64,64,64)"/><rect x="516.8" y="203.8" width="12.9" height="12.7" fill="rgb(92,92,92)"/><rect x="529.1" y="203.8" width="12.9" height="12.7" fill="rgb(64,64,64)"/><rect x="541.5" y="203.8" width="12.9" height="12.7" fill="rgb(64,64,64)"/><rect x="553.8" y="203.8" width="12.9" height="12.7" fill="rgb(64,64,64)"/><rect x="566.1" y="203.8" width="12.9" height="12.7" fill="rgb(64,64,64)"/><rect x="578.4" y="203.8" width="12.9" height="12.7" fill="rgb(64,64,64)"/><rect x="590.7" y="203.8" width="12.9" height="12.7" fill="rgb(26,26,26)"/><rect x="603.1" y="203.8" width="12.9" height="12.7" fill="rgb(26,26,26)"/><rect x="615.4" y="203.8" width="12.9" height="12.7" fill="rgb(64,64,64)"/><rect x="627.7" y="203.8" width="12.9" height="12.7" fill="rgb(64,64,64)"/><rect x="369.0" y="215.9" width="12.9" height="12.7" fill="rgb(64,64,64)"/><rect x="381.3" y="215.9" width="12.9" height="12.7" fill="rgb(64,64,64)"/><rect x="393.6" y="215.9" width="12.9" height="12.7" fill="rgb(64,64,64)"/><rect x="405.9" y="215.9" width="12.9" height="12.7" fill="rgb(64,64,64)"/><rect x="418.3" y="215.9" width="12.9" height="12.7" fill="rgb(92,92,92)"/><rect x="430.6" y="215.9" width="12.9" height="12.7" fill="rgb(128,128,128)"/><rect x="442.9" y="215.9" width="12.9" height="12.7" fill="rgb(163,163,163)"/><rect x="455.2" y="215.9" width="12.9" height="12.7" fill="rgb(128,128,128)"/><rect x="467.5" y="215.9" width="12.9" height="12.7" fill="rgb(92,92,92)"/><rect x="479.9" y="215.9" width="12.9" height="12.7" fill="rgb(64,64,64)"/><rect x="492.2" y="215.9" width="12.9" height="12.7" fill="rgb(64,64,64)"/><rect x="504.5" y="215.9" width="12.9" height="12.7" fill="rgb(64,64,64)"/><rect x="516.8" y="215.9" width="12.9" height="12.7" fill="rgb(92,92,92)"/><rect x="529.1" y="215.9" width="12.9" height="12.7" fill="rgb(92,92,92)"/><rect x="541.5" y="215.9" width="12.9" height="12.7" fill="rgb(128,128,128)"/><rect x="553.8" y="215.9" width="12.9" height="12.7" fill="rgb(128,128,128)"/><rect x="566.1" y="215.9" width="12.9" height="12.7" fill="rgb(163,163,163)"/><rect x="578.4" y="215.9" width="12.9" height="12.7" fill="rgb(184,184,184)"/><rect x="590.7" y="215.9" width="12.9" height="12.7" fill="rgb(92,92,92)"/><rect x="603.1" y="215.9" width="12.9" height="12.7" fill="rgb(26,26,26)"/><rect x="615.4" y="215.9" width="12.9" height="12.7" fill="rgb(64,64,64)"/><rect x="627.7" y="215.9" width="12.9" height="12.7" fill="rgb(64,64,64)"/><rect x="369.0" y="228.1" width="12.9" height="12.7" fill="rgb(92,92,92)"/><rect x="381.3" y="228.1" width="12.9" height="12.7" fill="rgb(92,92,92)"/><rect x="393.6" y="228.1" width="12.9" height="12.7" fill="rgb(64,64,64)"/><rect x="405.9" y="228.1" width="12.9" height="12.7" fill="rgb(64,64,64)"/><rect x="418.3" y="228.1" width="12.9" height="12.7" fill="rgb(92,92,92)"/><rect x="430.6" y="228.1" width="12.9" height="12.7" fill="rgb(92,92,92)"/><rect x="442.9" y="228.1" width="12.9" height="12.7" fill="rgb(128,128,128)"/><rect x="455.2" y="228.1" width="12.9" height="12.7" fill="rgb(92,92,92)"/><rect x="467.5" y="228.1" width="12.9" height="12.7" fill="rgb(92,92,92)"/><rect x="479.9" y="228.1" width="12.9" height="12.7" fill="rgb(92,92,92)"/><rect x="492.2" y="228.1" width="12.9" height="12.7" fill="rgb(64,64,64)"/><rect x="504.5" y="228.1" width="12.9" height="12.7" fill="rgb(92,92,92)"/><rect x="516.8" y="228.1" width="12.9" height="12.7" fill="rgb(92,92,92)"/><rect x="529.1" y="228.1" width="12.9" height="12.7" fill="rgb(128,128,128)"/><rect x="541.5" y="228.1" width="12.9" height="12.7" fill="rgb(163,163,163)"/><rect x="553.8" y="228.1" width="12.9" height="12.7" fill="rgb(163,163,163)"/><rect x="566.1" y="228.1" width="12.9" height="12.7" fill="rgb(163,163,163)"/><rect x="578.4" y="228.1" width="12.9" height="12.7" fill="rgb(184,184,184)"/><rect x="590.7" y="228.1" width="12.9" height="12.7" fill="rgb(128,128,128)"/><rect x="603.1" y="228.1" width="12.9" height="12.7" fill="rgb(64,64,64)"/><rect x="615.4" y="228.1" width="12.9" height="12.7" fill="rgb(64,64,64)"/><rect x="627.7" y="228.1" width="12.9" height="12.7" fill="rgb(64,64,64)"/><rect x="369.0" y="240.2" width="12.9" height="12.7" fill="rgb(92,92,92)"/><rect x="381.3" y="240.2" width="12.9" height="12.7" fill="rgb(92,92,92)"/><rect x="393.6" y="240.2" width="12.9" height="12.7" fill="rgb(92,92,92)"/><rect x="405.9" y="240.2" width="12.9" height="12.7" fill="rgb(64,64,64)"/><rect x="418.3" y="240.2" width="12.9" height="12.7" fill="rgb(64,64,64)"/><rect x="430.6" y="240.2" width="12.9" height="12.7" fill="rgb(64,64,64)"/><rect x="442.9" y="240.2" width="12.9" height="12.7" fill="rgb(64,64,64)"/><rect x="455.2" y="240.2" width="12.9" height="12.7" fill="rgb(92,92,92)"/><rect x="467.5" y="240.2" width="12.9" height="12.7" fill="rgb(92,92,92)"/><rect x="479.9" y="240.2" width="12.9" height="12.7" fill="rgb(64,64,64)"/><rect x="492.2" y="240.2" width="12.9" height="12.7" fill="rgb(64,64,64)"/><rect x="504.5" y="240.2" width="12.9" height="12.7" fill="rgb(92,92,92)"/><rect x="516.8" y="240.2" width="12.9" height="12.7" fill="rgb(92,92,92)"/><rect x="529.1" y="240.2" width="12.9" height="12.7" fill="rgb(163,163,163)"/><rect x="541.5" y="240.2" width="12.9" height="12.7" fill="rgb(163,163,163)"/><rect x="553.8" y="240.2" width="12.9" height="12.7" fill="rgb(163,163,163)"/><rect x="566.1" y="240.2" width="12.9" height="12.7" fill="rgb(163,163,163)"/><rect x="578.4" y="240.2" width="12.9" height="12.7" fill="rgb(184,184,184)"/><rect x="590.7" y="240.2" width="12.9" height="12.7" fill="rgb(128,128,128)"/><rect x="603.1" y="240.2" width="12.9" height="12.7" fill="rgb(64,64,64)"/><rect x="615.4" y="240.2" width="12.9" height="12.7" fill="rgb(64,64,64)"/><rect x="627.7" y="240.2" width="12.9" height="12.7" fill="rgb(64,64,64)"/><rect x="369.0" y="252.3" width="12.9" height="12.7" fill="rgb(92,92,92)"/><rect x="381.3" y="252.3" width="12.9" height="12.7" fill="rgb(92,92,92)"/><rect x="393.6" y="252.3" width="12.9" height="12.7" fill="rgb(92,92,92)"/><rect x="405.9" y="252.3" width="12.9" height="12.7" fill="rgb(64,64,64)"/><rect x="418.3" y="252.3" width="12.9" height="12.7" fill="rgb(26,26,26)"/><rect x="430.6" y="252.3" width="12.9" height="12.7" fill="rgb(26,26,26)"/><rect x="442.9" y="252.3" width="12.9" height="12.7" fill="rgb(64,64,64)"/><rect x="455.2" y="252.3" width="12.9" height="12.7" fill="rgb(92,92,92)"/><rect x="467.5" y="252.3" width="12.9" height="12.7" fill="rgb(64,64,64)"/><rect x="479.9" y="252.3" width="12.9" height="12.7" fill="rgb(64,64,64)"/><rect x="492.2" y="252.3" width="12.9" height="12.7" fill="rgb(64,64,64)"/><rect x="504.5" y="252.3" width="12.9" height="12.7" fill="rgb(92,92,92)"/><rect x="516.8" y="252.3" width="12.9" height="12.7" fill="rgb(128,128,128)"/><rect x="529.1" y="252.3" width="12.9" height="12.7" fill="rgb(163,163,163)"/><rect x="541.5" y="252.3" width="12.9" height="12.7" fill="rgb(163,163,163)"/><rect x="553.8" y="252.3" width="12.9" height="12.7" fill="rgb(163,163,163)"/><rect x="566.1" y="252.3" width="12.9" height="12.7" fill="rgb(163,163,163)"/><rect x="578.4" y="252.3" width="12.9" height="12.7" fill="rgb(163,163,163)"/><rect x="590.7" y="252.3" width="12.9" height="12.7" fill="rgb(128,128,128)"/><rect x="603.1" y="252.3" width="12.9" height="12.7" fill="rgb(64,64,64)"/><rect x="615.4" y="252.3" width="12.9" height="12.7" fill="rgb(64,64,64)"/><rect x="627.7" y="252.3" width="12.9" height="12.7" fill="rgb(64,64,64)"/><rect x="369.0" y="264.4" width="12.9" height="12.7" fill="rgb(128,128,128)"/><rect x="381.3" y="264.4" width="12.9" height="12.7" fill="rgb(128,128,128)"/><rect x="393.6" y="264.4" width="12.9" height="12.7" fill="rgb(92,92,92)"/><rect x="405.9" y="264.4" width="12.9" height="12.7" fill="rgb(64,64,64)"/><rect x="418.3" y="264.4" width="12.9" height="12.7" fill="rgb(26,26,26)"/><rect x="430.6" y="264.4" width="12.9" height="12.7" fill="rgb(26,26,26)"/><rect x="442.9" y="264.4" width="12.9" height="12.7" fill="rgb(26,26,26)"/><rect x="455.2" y="264.4" width="12.9" height="12.7" fill="rgb(64,64,64)"/><rect x="467.5" y="264.4" width="12.9" height="12.7" fill="rgb(64,64,64)"/><rect x="479.9" y="264.4" width="12.9" height="12.7" fill="rgb(64,64,64)"/><rect x="492.2" y="264.4" width="12.9" height="12.7" fill="rgb(64,64,64)"/><rect x="504.5" y="264.4" width="12.9" height="12.7" fill="rgb(92,92,92)"/><rect x="516.8" y="264.4" width="12.9" height="12.7" fill="rgb(128,128,128)"/><rect x="529.1" y="264.4" width="12.9" height="12.7" fill="rgb(163,163,163)"/><rect x="541.5" y="264.4" width="12.9" height="12.7" fill="rgb(163,163,163)"/><rect x="553.8" y="264.4" width="12.9" height="12.7" fill="rgb(163,163,163)"/><rect x="566.1" y="264.4" width="12.9" height="12.7" fill="rgb(163,163,163)"/><rect x="578.4" y="264.4" width="12.9" height="12.7" fill="rgb(163,163,163)"/><rect x="590.7" y="264.4" width="12.9" height="12.7" fill="rgb(128,128,128)"/><rect x="603.1" y="264.4" width="12.9" height="12.7" fill="rgb(64,64,64)"/><rect x="615.4" y="264.4" width="12.9" height="12.7" fill="rgb(64,64,64)"/><rect x="627.7" y="264.4" width="12.9" height="12.7" fill="rgb(64,64,64)"/><rect x="369.0" y="276.6" width="12.9" height="12.7" fill="rgb(128,128,128)"/><rect x="381.3" y="276.6" width="12.9" height="12.7" fill="rgb(128,128,128)"/><rect x="393.6" y="276.6" width="12.9" height="12.7" fill="rgb(92,92,92)"/><rect x="405.9" y="276.6" width="12.9" height="12.7" fill="rgb(64,64,64)"/><rect x="418.3" y="276.6" width="12.9" height="12.7" fill="rgb(26,26,26)"/><rect x="430.6" y="276.6" width="12.9" height="12.7" fill="rgb(26,26,26)"/><rect x="442.9" y="276.6" width="12.9" height="12.7" fill="rgb(26,26,26)"/><rect x="455.2" y="276.6" width="12.9" height="12.7" fill="rgb(26,26,26)"/><rect x="467.5" y="276.6" width="12.9" height="12.7" fill="rgb(26,26,26)"/><rect x="479.9" y="276.6" width="12.9" height="12.7" fill="rgb(64,64,64)"/><rect x="492.2" y="276.6" width="12.9" height="12.7" fill="rgb(64,64,64)"/><rect x="504.5" y="276.6" width="12.9" height="12.7" fill="rgb(92,92,92)"/><rect x="516.8" y="276.6" width="12.9" height="12.7" fill="rgb(128,128,128)"/><rect x="529.1" y="276.6" width="12.9" height="12.7" fill="rgb(163,163,163)"/><rect x="541.5" y="276.6" width="12.9" height="12.7" fill="rgb(163,163,163)"/><rect x="553.8" y="276.6" width="12.9" height="12.7" fill="rgb(163,163,163)"/><rect x="566.1" y="276.6" width="12.9" height="12.7" fill="rgb(163,163,163)"/><rect x="578.4" y="276.6" width="12.9" height="12.7" fill="rgb(163,163,163)"/><rect x="590.7" y="276.6" width="12.9" height="12.7" fill="rgb(128,128,128)"/><rect x="603.1" y="276.6" width="12.9" height="12.7" fill="rgb(64,64,64)"/><rect x="615.4" y="276.6" width="12.9" height="12.7" fill="rgb(26,26,26)"/><rect x="627.7" y="276.6" width="12.9" height="12.7" fill="rgb(26,26,26)"/><rect x="369.0" y="288.7" width="12.9" height="12.7" fill="rgb(128,128,128)"/><rect x="381.3" y="288.7" width="12.9" height="12.7" fill="rgb(128,128,128)"/><rect x="393.6" y="288.7" width="12.9" height="12.7" fill="rgb(128,128,128)"/><rect x="405.9" y="288.7" width="12.9" height="12.7" fill="rgb(92,92,92)"/><rect x="418.3" y="288.7" width="12.9" height="12.7" fill="rgb(64,64,64)"/><rect x="430.6" y="288.7" width="12.9" height="12.7" fill="rgb(26,26,26)"/><rect x="442.9" y="288.7" width="12.9" height="12.7" fill="rgb(26,26,26)"/><rect x="455.2" y="288.7" width="12.9" height="12.7" fill="rgb(26,26,26)"/><rect x="467.5" y="288.7" width="12.9" height="12.7" fill="rgb(26,26,26)"/><rect x="479.9" y="288.7" width="12.9" height="12.7" fill="rgb(26,26,26)"/><rect x="492.2" y="288.7" width="12.9" height="12.7" fill="rgb(64,64,64)"/><rect x="504.5" y="288.7" width="12.9" height="12.7" fill="rgb(92,92,92)"/><rect x="516.8" y="288.7" width="12.9" height="12.7" fill="rgb(128,128,128)"/><rect x="529.1" y="288.7" width="12.9" height="12.7" fill="rgb(163,163,163)"/><rect x="541.5" y="288.7" width="12.9" height="12.7" fill="rgb(163,163,163)"/><rect x="553.8" y="288.7" width="12.9" height="12.7" fill="rgb(163,163,163)"/><rect x="566.1" y="288.7" width="12.9" height="12.7" fill="rgb(184,184,184)"/><rect x="578.4" y="288.7" width="12.9" height="12.7" fill="rgb(163,163,163)"/><rect x="590.7" y="288.7" width="12.9" height="12.7" fill="rgb(128,128,128)"/><rect x="603.1" y="288.7" width="12.9" height="12.7" fill="rgb(64,64,64)"/><rect x="615.4" y="288.7" width="12.9" height="12.7" fill="rgb(26,26,26)"/><rect x="627.7" y="288.7" width="12.9" height="12.7" fill="rgb(26,26,26)"/><rect x="369.0" y="300.8" width="12.9" height="12.7" fill="rgb(163,163,163)"/><rect x="381.3" y="300.8" width="12.9" height="12.7" fill="rgb(163,163,163)"/><rect x="393.6" y="300.8" width="12.9" height="12.7" fill="rgb(163,163,163)"/><rect x="405.9" y="300.8" width="12.9" height="12.7" fill="rgb(92,92,92)"/><rect x="418.3" y="300.8" width="12.9" height="12.7" fill="rgb(128,128,128)"/><rect x="430.6" y="300.8" width="12.9" height="12.7" fill="rgb(64,64,64)"/><rect x="442.9" y="300.8" width="12.9" height="12.7" fill="rgb(26,26,26)"/><rect x="455.2" y="300.8" width="12.9" height="12.7" fill="rgb(26,26,26)"/><rect x="467.5" y="300.8" width="12.9" height="12.7" fill="rgb(26,26,26)"/><rect x="479.9" y="300.8" width="12.9" height="12.7" fill="rgb(64,64,64)"/><rect x="492.2" y="300.8" width="12.9" height="12.7" fill="rgb(64,64,64)"/><rect x="504.5" y="300.8" width="12.9" height="12.7" fill="rgb(92,92,92)"/><rect x="516.8" y="300.8" width="12.9" height="12.7" fill="rgb(128,128,128)"/><rect x="529.1" y="300.8" width="12.9" height="12.7" fill="rgb(163,163,163)"/><rect x="541.5" y="300.8" width="12.9" height="12.7" fill="rgb(163,163,163)"/><rect x="553.8" y="300.8" width="12.9" height="12.7" fill="rgb(184,184,184)"/><rect x="566.1" y="300.8" width="12.9" height="12.7" fill="rgb(184,184,184)"/><rect x="578.4" y="300.8" width="12.9" height="12.7" fill="rgb(184,184,184)"/><rect x="590.7" y="300.8" width="12.9" height="12.7" fill="rgb(92,92,92)"/><rect x="603.1" y="300.8" width="12.9" height="12.7" fill="rgb(26,26,26)"/><rect x="615.4" y="300.8" width="12.9" height="12.7" fill="rgb(26,26,26)"/><rect x="627.7" y="300.8" width="12.9" height="12.7" fill="rgb(26,26,26)"/><rect x="369.0" y="312.9" width="12.9" height="12.7" fill="rgb(163,163,163)"/><rect x="381.3" y="312.9" width="12.9" height="12.7" fill="rgb(163,163,163)"/><rect x="393.6" y="312.9" width="12.9" height="12.7" fill="rgb(128,128,128)"/><rect x="405.9" y="312.9" width="12.9" height="12.7" fill="rgb(92,92,92)"/><rect x="418.3" y="312.9" width="12.9" height="12.7" fill="rgb(92,92,92)"/><rect x="430.6" y="312.9" width="12.9" height="12.7" fill="rgb(64,64,64)"/><rect x="442.9" y="312.9" width="12.9" height="12.7" fill="rgb(26,26,26)"/><rect x="455.2" y="312.9" width="12.9" height="12.7" fill="rgb(26,26,26)"/><rect x="467.5" y="312.9" width="12.9" height="12.7" fill="rgb(128,128,128)"/><rect x="479.9" y="312.9" width="12.9" height="12.7" fill="rgb(64,64,64)"/><rect x="492.2" y="312.9" width="12.9" height="12.7" fill="rgb(64,64,64)"/><rect x="504.5" y="312.9" width="12.9" height="12.7" fill="rgb(92,92,92)"/><rect x="516.8" y="312.9" width="12.9" height="12.7" fill="rgb(128,128,128)"/><rect x="529.1" y="312.9" width="12.9" height="12.7" fill="rgb(163,163,163)"/><rect x="541.5" y="312.9" width="12.9" height="12.7" fill="rgb(163,163,163)"/><rect x="553.8" y="312.9" width="12.9" height="12.7" fill="rgb(184,184,184)"/><rect x="566.1" y="312.9" width="12.9" height="12.7" fill="rgb(184,184,184)"/><rect x="578.4" y="312.9" width="12.9" height="12.7" fill="rgb(163,163,163)"/><rect x="590.7" y="312.9" width="12.9" height="12.7" fill="rgb(92,92,92)"/><rect x="603.1" y="312.9" width="12.9" height="12.7" fill="rgb(26,26,26)"/><rect x="615.4" y="312.9" width="12.9" height="12.7" fill="rgb(26,26,26)"/><rect x="627.7" y="312.9" width="12.9" height="12.7" fill="rgb(26,26,26)"/><rect x="369.0" y="325.1" width="12.9" height="12.7" fill="rgb(128,128,128)"/><rect x="381.3" y="325.1" width="12.9" height="12.7" fill="rgb(128,128,128)"/><rect x="393.6" y="325.1" width="12.9" height="12.7" fill="rgb(92,92,92)"/><rect x="405.9" y="325.1" width="12.9" height="12.7" fill="rgb(92,92,92)"/><rect x="418.3" y="325.1" width="12.9" height="12.7" fill="rgb(92,92,92)"/><rect x="430.6" y="325.1" width="12.9" height="12.7" fill="rgb(64,64,64)"/><rect x="442.9" y="325.1" width="12.9" height="12.7" fill="rgb(64,64,64)"/><rect x="455.2" y="325.1" width="12.9" height="12.7" fill="rgb(64,64,64)"/><rect x="467.5" y="325.1" width="12.9" height="12.7" fill="rgb(128,128,128)"/><rect x="479.9" y="325.1" width="12.9" height="12.7" fill="rgb(64,64,64)"/><rect x="492.2" y="325.1" width="12.9" height="12.7" fill="rgb(64,64,64)"/><rect x="504.5" y="325.1" width="12.9" height="12.7" fill="rgb(92,92,92)"/><rect x="516.8" y="325.1" width="12.9" height="12.7" fill="rgb(128,128,128)"/><rect x="529.1" y="325.1" width="12.9" height="12.7" fill="rgb(128,128,128)"/><rect x="541.5" y="325.1" width="12.9" height="12.7" fill="rgb(163,163,163)"/><rect x="553.8" y="325.1" width="12.9" height="12.7" fill="rgb(184,184,184)"/><rect x="566.1" y="325.1" width="12.9" height="12.7" fill="rgb(163,163,163)"/><rect x="578.4" y="325.1" width="12.9" height="12.7" fill="rgb(128,128,128)"/><rect x="590.7" y="325.1" width="12.9" height="12.7" fill="rgb(92,92,92)"/><rect x="603.1" y="325.1" width="12.9" height="12.7" fill="rgb(26,26,26)"/><rect x="615.4" y="325.1" width="12.9" height="12.7" fill="rgb(26,26,26)"/><rect x="627.7" y="325.1" width="12.9" height="12.7" fill="rgb(26,26,26)"/><rect x="369.0" y="337.2" width="12.9" height="12.7" fill="rgb(128,128,128)"/><rect x="381.3" y="337.2" width="12.9" height="12.7" fill="rgb(128,128,128)"/><rect x="393.6" y="337.2" width="12.9" height="12.7" fill="rgb(92,92,92)"/><rect x="405.9" y="337.2" width="12.9" height="12.7" fill="rgb(92,92,92)"/><rect x="418.3" y="337.2" width="12.9" height="12.7" fill="rgb(92,92,92)"/><rect x="430.6" y="337.2" width="12.9" height="12.7" fill="rgb(64,64,64)"/><rect x="442.9" y="337.2" width="12.9" height="12.7" fill="rgb(64,64,64)"/><rect x="455.2" y="337.2" width="12.9" height="12.7" fill="rgb(64,64,64)"/><rect x="467.5" y="337.2" width="12.9" height="12.7" fill="rgb(128,128,128)"/><rect x="479.9" y="337.2" width="12.9" height="12.7" fill="rgb(64,64,64)"/><rect x="492.2" y="337.2" width="12.9" height="12.7" fill="rgb(64,64,64)"/><rect x="504.5" y="337.2" width="12.9" height="12.7" fill="rgb(92,92,92)"/><rect x="516.8" y="337.2" width="12.9" height="12.7" fill="rgb(128,128,128)"/><rect x="529.1" y="337.2" width="12.9" height="12.7" fill="rgb(128,128,128)"/><rect x="541.5" y="337.2" width="12.9" height="12.7" fill="rgb(163,163,163)"/><rect x="553.8" y="337.2" width="12.9" height="12.7" fill="rgb(184,184,184)"/><rect x="566.1" y="337.2" width="12.9" height="12.7" fill="rgb(163,163,163)"/><rect x="578.4" y="337.2" width="12.9" height="12.7" fill="rgb(128,128,128)"/><rect x="590.7" y="337.2" width="12.9" height="12.7" fill="rgb(92,92,92)"/><rect x="603.1" y="337.2" width="12.9" height="12.7" fill="rgb(26,26,26)"/><rect x="615.4" y="337.2" width="12.9" height="12.7" fill="rgb(26,26,26)"/><rect x="627.7" y="337.2" width="12.9" height="12.7" fill="rgb(26,26,26)"/></g></g>
<rect x="5.00" y="175.30" width="19.00" height="18.20" fill="#fff" stroke="#222" stroke-width="1"/>
<text x="14.50" y="189.00" font-size="16" text-anchor="middle" fill="#111">b</text>
<rect x="349.50" y="175.70" width="19.00" height="17.80" fill="#fff" stroke="#222" stroke-width="1"/>
<text x="359.00" y="188.50" font-size="16" text-anchor="middle" fill="#111">c</text>
<rect x="313.50" y="222.00" width="6.80" height="88.00" fill="url(#cbar)"/>
<rect x="638.50" y="222.00" width="7.00" height="88.00" fill="url(#cbar)"/>
<text x="312.00" y="218.00" font-size="9.5" fill="#111">Hz</text>
<text x="323.40" y="227.00" font-size="9.5" fill="#111">1.5</text>
<text x="323.40" y="256.50" font-size="9.5" fill="#111">1</text>
<text x="323.40" y="285.00" font-size="9.5" fill="#111">0.5</text>
<text x="323.40" y="314.50" font-size="9.5" fill="#111">0</text>
<text x="636.50" y="217.60" font-size="9.5" fill="#111">&#956;V</text>
<text x="648.60" y="227.00" font-size="9.5" fill="#111">60</text>
<text x="648.60" y="256.50" font-size="9.5" fill="#111">40</text>
<text x="648.60" y="285.00" font-size="9.5" fill="#111">20</text>
<text x="648.60" y="314.50" font-size="9.5" fill="#111">0</text>
<line x1="57.00" y1="345.60" x2="94.30" y2="345.60" stroke="#111" stroke-width="1.6"/>
<text x="60.00" y="357.70" font-size="9.5" fill="#111">0.5 mm</text>
<rect x="0.50" y="372.40" width="18.30" height="18.10" fill="#fff" stroke="#222" stroke-width="1"/>
<text x="9.65" y="386.00" font-size="16" text-anchor="middle" fill="#111">d</text>
<text x="31.00" y="418.20" font-size="11.3" text-anchor="middle" fill="#111" transform="rotate(-90 31.00 418.20)">Spikes per 0.1 s/bin</text>
<text x="52.50" y="418.30" font-size="9.8" text-anchor="end" fill="#111">200</text>
<text x="52.50" y="449.00" font-size="9.8" text-anchor="end" fill="#111">0</text>
<line x1="56.00" y1="414.70" x2="57.90" y2="414.70" stroke="#8a8a8a" stroke-width="0.9"/>
<line x1="56.00" y1="445.50" x2="57.90" y2="445.50" stroke="#8a8a8a" stroke-width="0.9"/>
<text x="89.60" y="380.00" font-size="9.8" text-anchor="middle" fill="#111">BL</text>
<text x="154.60" y="380.00" font-size="9.8" text-anchor="middle" fill="#111">AP5/CNQX</text>
<text x="223.40" y="380.00" font-size="9.8" text-anchor="middle" fill="#111">TTX</text>
<text x="292.40" y="380.00" font-size="9.8" text-anchor="middle" fill="#111">BIC</text>
<line x1="57.90" y1="390.90" x2="57.90" y2="445.50" stroke="#8a8a8a" stroke-width="1.3"/>
<line x1="57.90" y1="445.50" x2="115.80" y2="445.50" stroke="#8a8a8a" stroke-width="1"/>
<line x1="57.90" y1="445.50" x2="57.90" y2="447.50" stroke="#8a8a8a" stroke-width="0.8"/>
<line x1="115.80" y1="445.50" x2="115.80" y2="447.50" stroke="#8a8a8a" stroke-width="0.8"/>
<line x1="65.30" y1="391.70" x2="65.30" y2="445.50" stroke="#a9a9a9" stroke-width="1.4"/>
<line x1="68.90" y1="397.60" x2="68.90" y2="445.50" stroke="#a9a9a9" stroke-width="1.4"/>
<line x1="77.80" y1="391.70" x2="77.80" y2="445.50" stroke="#a9a9a9" stroke-width="1.4"/>
<line x1="81.60" y1="392.10" x2="81.60" y2="445.50" stroke="#a9a9a9" stroke-width="1.4"/>
<line x1="85.30" y1="391.70" x2="85.30" y2="445.50" stroke="#a9a9a9" stroke-width="1.4"/>
<line x1="90.80" y1="391.70" x2="90.80" y2="445.50" stroke="#a9a9a9" stroke-width="1.4"/>
<line x1="103.90" y1="391.70" x2="103.90" y2="445.50" stroke="#a9a9a9" stroke-width="1.4"/>
<line x1="107.90" y1="391.70" x2="107.90" y2="445.50" stroke="#a9a9a9" stroke-width="1.4"/>
<line x1="111.90" y1="397.60" x2="111.90" y2="445.50" stroke="#a9a9a9" stroke-width="1.4"/>
<line x1="69.30" y1="445.50" x2="69.30" y2="447.50" stroke="#8a8a8a" stroke-width="0.8"/>
<line x1="74.00" y1="443.50" x2="74.00" y2="445.50" stroke="#a9a9a9" stroke-width="1"/>
<line x1="96.00" y1="443.50" x2="96.00" y2="445.50" stroke="#a9a9a9" stroke-width="1"/>
<line x1="100.00" y1="443.50" x2="100.00" y2="445.50" stroke="#a9a9a9" stroke-width="1"/>
<line x1="114.00" y1="443.50" x2="114.00" y2="445.50" stroke="#a9a9a9" stroke-width="1"/>
<line x1="126.80" y1="445.50" x2="184.60" y2="445.50" stroke="#8a8a8a" stroke-width="1"/>
<line x1="126.80" y1="445.50" x2="126.80" y2="447.50" stroke="#8a8a8a" stroke-width="0.8"/>
<line x1="184.60" y1="445.50" x2="184.60" y2="447.50" stroke="#8a8a8a" stroke-width="0.8"/>
<path d="M127.5,445.5 V443.3 M128.4,445.5 V443.5 M129.3,445.5 V443.0 M130.2,445.5 V443.4 M131.1,445.5 V443.6 M132.0,445.5 V443.0 M132.9,445.5 V442.0 M133.8,445.5 V442.3 M134.7,445.5 V442.3 M135.6,445.5 V443.3 M136.5,445.5 V442.7 M137.4,445.5 V443.2 M138.3,445.5 V443.4 M139.2,445.5 V443.5 M140.1,445.5 V443.3 M141.0,445.5 V442.0 M141.9,445.5 V442.2 M142.8,445.5 V442.2 M143.7,445.5 V442.3 M144.6,445.5 V443.4 M145.5,445.5 V443.1 M146.4,445.5 V442.6 M147.3,445.5 V442.4 M148.2,445.5 V442.2 M149.1,445.5 V442.1 M150.0,445.5 V443.5 M150.9,445.5 V442.6 M151.8,445.5 V442.5 M152.7,445.5 V442.8 M153.6,445.5 V443.4 M154.5,445.5 V442.8 M155.4,445.5 V443.5 M156.3,445.5 V442.0 M157.2,445.5 V442.1 M158.1,445.5 V442.7 M159.0,445.5 V443.2 M159.9,445.5 V442.1 M160.8,445.5 V442.7 M161.7,445.5 V442.1 M162.6,445.5 V442.2 M163.5,445.5 V442.8 M164.4,445.5 V443.0 M165.3,445.5 V442.6 M166.2,445.5 V442.9 M167.1,445.5 V443.4 M168.0,445.5 V443.2 M168.9,445.5 V442.2 M169.8,445.5 V443.6 M170.7,445.5 V443.6 M171.6,445.5 V442.6 M172.5,445.5 V443.2 M173.4,445.5 V442.7 M174.3,445.5 V442.9 M175.2,445.5 V443.1 M176.1,445.5 V441.9 M177.0,445.5 V443.3 M177.9,445.5 V443.0 M178.8,445.5 V443.3 M179.7,445.5 V442.6 M180.6,445.5 V443.2 M181.5,445.5 V443.1 M182.4,445.5 V442.4 M183.3,445.5 V443.1 M184.2,445.5 V442.7" stroke="#a9a9a9" stroke-width="0.9" fill="none"/>
<line x1="195.60" y1="445.50" x2="254.10" y2="445.50" stroke="#8a8a8a" stroke-width="1"/>
<line x1="195.60" y1="445.50" x2="195.60" y2="447.50" stroke="#8a8a8a" stroke-width="0.8"/>
<line x1="254.10" y1="445.50" x2="254.10" y2="447.50" stroke="#8a8a8a" stroke-width="0.8"/>
<line x1="265.00" y1="445.50" x2="323.60" y2="445.50" stroke="#8a8a8a" stroke-width="1"/>
<line x1="265.00" y1="445.50" x2="265.00" y2="447.50" stroke="#8a8a8a" stroke-width="0.8"/>
<line x1="323.60" y1="445.50" x2="323.60" y2="447.50" stroke="#8a8a8a" stroke-width="0.8"/>
<line x1="266.36" y1="412.18" x2="266.36" y2="445.50" stroke="#a9a9a9" stroke-width="1.4"/>
<line x1="268.58" y1="408.85" x2="268.58" y2="445.50" stroke="#a9a9a9" stroke-width="1.4"/>
<line x1="271.92" y1="398.39" x2="271.92" y2="445.50" stroke="#a9a9a9" stroke-width="1.4"/>
<line x1="275.04" y1="416.86" x2="275.04" y2="445.50" stroke="#a9a9a9" stroke-width="1.4"/>
<line x1="280.60" y1="412.18" x2="280.60" y2="445.50" stroke="#a9a9a9" stroke-width="1.4"/>
<line x1="282.83" y1="412.18" x2="282.83" y2="445.50" stroke="#a9a9a9" stroke-width="1.4"/>
<line x1="285.94" y1="409.51" x2="285.94" y2="445.50" stroke="#a9a9a9" stroke-width="1.4"/>
<line x1="289.06" y1="410.63" x2="289.06" y2="445.50" stroke="#a9a9a9" stroke-width="1.4"/>
<line x1="292.40" y1="411.07" x2="292.40" y2="445.50" stroke="#a9a9a9" stroke-width="1.4"/>
<line x1="295.51" y1="411.07" x2="295.51" y2="445.50" stroke="#a9a9a9" stroke-width="1.4"/>
<line x1="298.63" y1="413.97" x2="298.63" y2="445.50" stroke="#a9a9a9" stroke-width="1.4"/>
<line x1="300.85" y1="420.64" x2="300.85" y2="445.50" stroke="#a9a9a9" stroke-width="1.4"/>
<line x1="303.75" y1="412.18" x2="303.75" y2="445.50" stroke="#a9a9a9" stroke-width="1.4"/>
<line x1="306.42" y1="411.29" x2="306.42" y2="445.50" stroke="#a9a9a9" stroke-width="1.4"/>
<line x1="309.76" y1="414.41" x2="309.76" y2="445.50" stroke="#a9a9a9" stroke-width="1.4"/>
<line x1="311.76" y1="415.08" x2="311.76" y2="445.50" stroke="#a9a9a9" stroke-width="1.4"/>
<line x1="315.77" y1="412.85" x2="315.77" y2="445.50" stroke="#a9a9a9" stroke-width="1.4"/>
<line x1="319.55" y1="405.51" x2="319.55" y2="445.50" stroke="#a9a9a9" stroke-width="1.4"/>
<line x1="322.44" y1="436.67" x2="322.44" y2="445.50" stroke="#a9a9a9" stroke-width="1.4"/>
<text x="303.50" y="395.00" font-size="9.8" fill="#111">1 min</text>
<line x1="312.40" y1="398.60" x2="323.60" y2="398.60" stroke="#111" stroke-width="2"/>
<line x1="55.00" y1="472.20" x2="55.00" y2="540.20" stroke="#555" stroke-width="1.1"/>
<line x1="55.00" y1="540.20" x2="167.70" y2="540.20" stroke="#555" stroke-width="1.1"/>
<line x1="52.00" y1="472.70" x2="55.00" y2="472.70" stroke="#555" stroke-width="1"/>
<text x="51.00" y="476.10" font-size="9.8" text-anchor="end" fill="#111">400</text>
<line x1="52.00" y1="506.40" x2="55.00" y2="506.40" stroke="#555" stroke-width="1"/>
<text x="51.00" y="509.80" font-size="9.8" text-anchor="end" fill="#111">200</text>
<line x1="52.00" y1="540.20" x2="55.00" y2="540.20" stroke="#555" stroke-width="1"/>
<text x="51.00" y="543.60" font-size="9.8" text-anchor="end" fill="#111">0</text>
<rect x="64.30" y="522.60" width="14.40" height="17.60" fill="#fff" stroke="#555" stroke-width="1"/>
<line x1="98.35" y1="528.60" x2="98.35" y2="533.20" stroke="#777" stroke-width="1"/>
<line x1="95.35" y1="528.60" x2="101.35" y2="528.60" stroke="#777" stroke-width="1"/>
<rect x="91.30" y="533.20" width="14.10" height="7.00" fill="#fff" stroke="#555" stroke-width="1"/>
<line x1="126.10" y1="534.40" x2="126.10" y2="537.00" stroke="#777" stroke-width="1"/>
<line x1="123.10" y1="534.40" x2="129.10" y2="534.40" stroke="#777" stroke-width="1"/>
<rect x="119.00" y="537.00" width="14.20" height="3.20" fill="#fff" stroke="#555" stroke-width="1"/>
<line x1="153.35" y1="505.40" x2="153.35" y2="515.00" stroke="#777" stroke-width="1"/>
<line x1="150.35" y1="505.40" x2="156.35" y2="505.40" stroke="#777" stroke-width="1"/>
<rect x="146.30" y="515.00" width="14.10" height="25.20" fill="#fff" stroke="#555" stroke-width="1"/>
<line x1="56.00" y1="522.80" x2="167.70" y2="522.80" stroke="#e53030" stroke-width="1.4" stroke-dasharray="1.6 1.6"/>
<text x="111.00" y="467.60" font-size="9.8" text-anchor="middle" fill="#111">Firing Rate</text>
<text x="68.00" y="486.50" font-size="9.8" fill="#111">n = 5 (slices)</text>
<line x1="210.40" y1="472.20" x2="210.40" y2="540.20" stroke="#555" stroke-width="1.1"/>
<line x1="210.40" y1="540.20" x2="323.30" y2="540.20" stroke="#555" stroke-width="1.1"/>
<line x1="207.40" y1="472.70" x2="210.40" y2="472.70" stroke="#555" stroke-width="1"/>
<text x="206.40" y="476.10" font-size="9.8" text-anchor="end" fill="#111">800</text>
<line x1="207.40" y1="489.60" x2="210.40" y2="489.60" stroke="#555" stroke-width="1"/>
<text x="206.40" y="493.00" font-size="9.8" text-anchor="end" fill="#111">600</text>
<line x1="207.40" y1="506.40" x2="210.40" y2="506.40" stroke="#555" stroke-width="1"/>
<text x="206.40" y="509.80" font-size="9.8" text-anchor="end" fill="#111">400</text>
<line x1="207.40" y1="523.30" x2="210.40" y2="523.30" stroke="#555" stroke-width="1"/>
<text x="206.40" y="526.70" font-size="9.8" text-anchor="end" fill="#111">200</text>
<line x1="207.40" y1="540.20" x2="210.40" y2="540.20" stroke="#555" stroke-width="1"/>
<text x="206.40" y="543.60" font-size="9.8" text-anchor="end" fill="#111">0</text>
<rect x="220.00" y="531.20" width="14.30" height="9.00" fill="#fff" stroke="#555" stroke-width="1"/>
<line x1="309.00" y1="473.90" x2="309.00" y2="512.50" stroke="#777" stroke-width="1"/>
<line x1="306.00" y1="473.90" x2="312.00" y2="473.90" stroke="#777" stroke-width="1"/>
<rect x="301.70" y="512.50" width="14.60" height="27.70" fill="#fff" stroke="#555" stroke-width="1"/>
<line x1="211.40" y1="531.20" x2="323.30" y2="531.20" stroke="#e53030" stroke-width="1.4" stroke-dasharray="1.6 1.6"/>
<text x="267.10" y="468.10" font-size="9.8" text-anchor="middle" fill="#111">Burst Rate</text>
<line x1="71.50" y1="540.20" x2="71.50" y2="543.00" stroke="#555" stroke-width="1"/>
<line x1="98.30" y1="540.20" x2="98.30" y2="543.00" stroke="#555" stroke-width="1"/>
<line x1="126.10" y1="540.20" x2="126.10" y2="543.00" stroke="#555" stroke-width="1"/>
<line x1="153.30" y1="540.20" x2="153.30" y2="543.00" stroke="#555" stroke-width="1"/>
<line x1="227.10" y1="540.20" x2="227.10" y2="543.00" stroke="#555" stroke-width="1"/>
<line x1="254.30" y1="540.20" x2="254.30" y2="543.00" stroke="#555" stroke-width="1"/>
<line x1="281.50" y1="540.20" x2="281.50" y2="543.00" stroke="#555" stroke-width="1"/>
<line x1="309.00" y1="540.20" x2="309.00" y2="543.00" stroke="#555" stroke-width="1"/>
<text x="15.00" y="506.00" font-size="11.6" text-anchor="middle" fill="#111" transform="rotate(-90 15.00 506.00)">% change</text>
<text x="28.00" y="506.00" font-size="11.6" text-anchor="middle" fill="#111" transform="rotate(-90 28.00 506.00)">(relative to BL)</text>
<text x="78.50" y="554.00" font-size="10" text-anchor="end" fill="#111" transform="rotate(-45 78.50 554.00)">BL</text>
<text x="105.30" y="554.00" font-size="10" text-anchor="end" fill="#111" transform="rotate(-45 105.30 554.00)">AP5/CNQX</text>
<text x="133.10" y="554.00" font-size="10" text-anchor="end" fill="#111" transform="rotate(-45 133.10 554.00)">TTX</text>
<text x="160.30" y="554.00" font-size="10" text-anchor="end" fill="#111" transform="rotate(-45 160.30 554.00)">BIC</text>
<text x="234.10" y="554.00" font-size="10" text-anchor="end" fill="#111" transform="rotate(-45 234.10 554.00)">BL</text>
<text x="261.30" y="554.00" font-size="10" text-anchor="end" fill="#111" transform="rotate(-45 261.30 554.00)">AP5/CNQX</text>
<text x="288.50" y="554.00" font-size="10" text-anchor="end" fill="#111" transform="rotate(-45 288.50 554.00)">TTX</text>
<text x="316.00" y="554.00" font-size="10" text-anchor="end" fill="#111" transform="rotate(-45 316.00 554.00)">BIC</text>
<rect x="349.60" y="372.60" width="19.40" height="18.10" fill="#fff" stroke="#222" stroke-width="1"/>
<text x="359.30" y="386.20" font-size="16" text-anchor="middle" fill="#111">e</text>
<text x="380.40" y="384.70" font-size="9.8" fill="#111">LFP</text>
<text x="380.00" y="423.50" font-size="9.8" fill="#111">MUA</text>
<path d="M381.50,393.60 L382.65,396.80 L383.80,398.00 L384.77,400.75 L385.73,399.75 L386.70,402.90 L387.67,403.49 L388.63,407.16 L389.60,407.70 L391.50,408.60 L392.47,406.52 L393.43,407.44 L394.40,405.80 L395.37,406.20 L396.33,403.27 L397.30,403.80 L398.25,401.95 L399.20,403.45 L400.15,401.54 L401.10,401.90 L402.08,401.05 L403.05,402.79 L404.02,399.89 L405.00,400.90 L405.98,399.63 L406.95,401.03 L407.92,397.16 L408.90,398.00 L409.87,396.48 L410.83,398.58 L411.80,397.10 L413.20,396.77 L414.60,395.10 L415.57,395.62 L416.53,394.02 L417.50,395.10 L418.50,392.13 L419.50,390.30 L420.75,388.14 L422.00,387.40 L423.15,382.98 L424.30,380.10 L426.20,384.50 L427.35,387.48 L428.50,389.40 L430.10,407.70 L431.25,403.29 L432.40,400.90 L433.70,399.47 L435.00,400.00 L436.20,407.70 L437.50,409.58 L438.80,408.60 L440.70,401.90 L441.67,400.50 L442.63,402.44 L443.60,400.90 L444.75,407.25 L445.90,411.50 L447.15,405.53 L448.40,397.10 L449.37,396.17 L450.33,392.43 L451.30,391.30 L452.45,399.35 L453.60,410.60 L454.85,402.25 L456.10,397.10 L457.07,395.01 L458.03,397.05 L459.00,395.10 L459.97,396.91 L460.93,396.28 L461.90,398.00 L462.87,395.58 L463.83,395.38 L464.80,393.20 L465.95,397.44 L467.10,399.00 L468.27,396.41 L469.43,390.50 L470.60,388.40 L471.75,388.92 L472.90,391.30 L473.93,395.51 L474.97,404.27 L476.00,408.60 L477.15,405.25 L478.30,400.90 L479.35,398.03 L480.40,392.20 L481.45,391.12 L482.50,386.50 L483.75,389.98 L485.00,390.30 L486.00,404.29 L487.00,416.40 L487.97,411.81 L488.93,404.87 L489.90,400.90 L490.87,396.98 L491.83,396.56 L492.80,393.20 L494.05,393.35 L495.30,392.30 L496.37,398.93 L497.43,402.27 L498.50,409.60 L499.50,404.92 L500.50,402.90 L501.70,397.92 L502.90,394.20 L503.87,392.96 L504.83,393.88 L505.80,392.80 L506.77,395.43 L507.73,395.56 L508.70,399.00 L509.67,401.20 L510.63,405.92 L511.60,407.70 L512.73,404.19 L513.87,397.99 L515.00,394.20 L516.10,394.49 L517.20,398.04 L518.30,399.00 L519.27,397.64 L520.23,393.24 L521.20,391.30 L522.37,394.84 L523.53,401.03 L524.70,404.80 L525.85,405.10 L527.00,403.80 L527.97,403.28 L528.93,398.25 L529.90,398.38 L530.87,393.99 L531.83,394.12 L532.80,391.30 L533.77,392.87 L534.73,391.13 L535.70,393.20 L537.60,397.10 L538.57,402.47 L539.53,404.82 L540.50,409.60 L541.47,405.11 L542.43,404.53 L543.40,400.90 L544.37,399.12 L545.33,394.42 L546.30,393.20 L547.25,391.86 L548.20,393.08 L549.15,391.19 L550.10,391.30 L551.07,391.33 L552.03,393.71 L553.00,393.20 L553.98,397.59 L554.95,399.29 L555.92,404.98 L556.90,407.70 L557.87,407.40 L558.83,403.54 L559.80,403.80 L560.75,402.04 L561.70,403.48 L562.65,400.17 L563.60,400.90 L564.58,399.00 L565.55,399.17 L566.52,395.80 L567.50,396.10 L568.48,395.90 L569.45,399.27 L570.42,398.99 L571.40,400.90 L572.35,398.64 L573.30,400.53 L574.25,397.33 L575.20,397.10 L576.18,394.83 L577.15,397.12 L578.12,393.76 L579.10,394.20 L580.23,391.74 L581.37,391.81 L582.50,389.70 L583.70,392.49 L584.90,394.20 L585.87,398.33 L586.83,398.57 L587.80,401.90 L589.20,397.22 L590.60,395.10 L591.77,393.68 L592.93,395.24 L594.10,393.20 L595.25,397.26 L596.40,399.00 L597.38,400.07 L598.35,398.81 L599.32,401.04 L600.30,400.00 L601.25,399.60 L602.20,397.30 L603.15,398.19 L604.10,396.10 L605.07,398.84 L606.03,397.52 L607.00,400.00 L607.98,399.67 L608.95,402.46 L609.92,400.70 L610.90,401.90 L611.87,399.45 L612.83,398.83 L613.80,396.10 L614.77,399.99 L615.73,401.33 L616.70,404.80 L617.67,401.54 L618.63,400.57 L619.60,397.10 L620.57,397.26 L621.53,394.52 L622.50,394.20 L623.75,394.75 L625.00,397.10 L626.15,393.87 L627.30,393.60" stroke="#4a4a4a" stroke-width="1.0" fill="none" stroke-linejoin="round"/>
<line x1="626.50" y1="407.60" x2="626.50" y2="423.90" stroke="#111" stroke-width="1.8"/>
<text x="629.60" y="418.70" font-size="9.8" fill="#111">50 &#956;V</text>
<path d="M381.00,431.2 L381.22,439.5 L381.44,431.9 L381.66,441.1 L381.88,432.7 L382.10,441.0 L382.32,431.4 L382.54,438.2 L382.76,431.0 L382.98,438.6 L383.20,432.3 L383.42,438.3 L383.64,431.9 L383.86,438.1 L384.08,431.1 L384.30,438.4 L384.52,431.9 L384.74,438.0 L384.96,432.3 L385.18,441.0 L385.40,432.8 L385.62,438.7 L385.84,432.6 L386.06,438.7 L386.28,432.3 L386.50,438.4 L386.72,430.1 L386.94,438.0 L387.16,432.6 L387.38,438.9 L387.60,430.1 L387.82,438.2 L388.04,432.0 L388.26,441.3 L388.48,430.9 L388.70,438.4 L388.92,431.9 L389.14,441.1 L389.36,431.6 L389.58,441.3 L389.80,432.0 L390.02,438.6 L390.24,432.3 L390.46,438.6 L390.68,432.6 L390.90,438.3 L391.12,432.3 L391.34,439.7 L391.56,430.8 L391.78,438.0 L392.00,432.2 L392.22,438.9 L392.44,432.2 L392.66,439.4 L392.88,432.2 L393.10,439.4 L393.32,432.7 L393.54,438.4 L393.76,432.6 L393.98,438.0 L394.20,432.9 L394.42,440.6 L394.64,430.5 L394.86,438.2 L395.08,431.7 L395.30,439.3 L395.52,432.4 L395.74,438.0 L395.96,431.4 L396.18,441.1 L396.40,432.1 L396.62,440.1 L396.84,429.9 L397.06,439.3 L397.28,432.1 L397.50,439.0 L397.72,430.5 L397.94,438.3 L398.16,431.1 L398.38,439.4 L398.60,432.1 L398.82,440.5 L399.04,429.6 L399.26,438.7 L399.48,431.8 L399.70,438.6 L399.92,430.5 L400.14,439.9 L400.36,431.2 L400.58,440.6 L400.80,431.7 L401.02,438.3 L401.24,432.5 L401.46,438.7 L401.68,432.2 L401.90,438.3 L402.12,431.1 L402.34,442.3 L402.56,432.6 L402.78,438.3 L403.00,431.2 L403.22,438.1 L403.44,432.0 L403.66,438.5 L403.88,430.7 L404.10,439.4 L404.32,431.5 L404.54,438.3 L404.76,430.0 L404.98,439.0 L405.20,431.3 L405.42,438.3 L405.64,432.5 L405.86,438.6 L406.08,432.5 L406.30,441.3 L406.52,431.2 L406.74,439.7 L406.96,431.7 L407.18,438.8 L407.40,431.3 L407.62,440.1 L407.84,432.4 L408.06,439.4 L408.28,430.2 L408.50,437.9 L408.72,431.4 L408.94,438.2 L409.16,430.6 L409.38,438.1 L409.60,431.7 L409.82,438.1 L410.04,432.2 L410.26,438.4 L410.48,429.9 L410.70,440.8 L410.92,431.0 L411.14,438.4 L411.36,431.6 L411.58,437.9 L411.80,431.9 L412.02,438.5 L412.24,432.3 L412.46,440.6 L412.68,431.3 L412.90,439.8 L413.12,432.5 L413.34,440.0 L413.56,431.7 L413.78,439.9 L414.00,431.5 L414.22,439.6 L414.44,432.6 L414.66,439.5 L414.88,432.6 L415.10,440.0 L415.32,432.0 L415.54,441.1 L415.76,431.8 L415.98,439.4 L416.20,431.1 L416.42,438.1 L416.64,432.9 L416.86,440.0 L417.08,430.4 L417.30,438.5 L417.52,431.4 L417.74,439.9 L417.96,431.7 L418.18,439.6 L418.40,432.7 L418.62,440.5 L418.84,431.3 L419.06,440.1 L419.28,431.4 L419.50,439.5 L419.72,429.5 L419.94,438.4 L420.16,431.2 L420.38,438.1 L420.60,431.5 L420.82,440.2 L421.04,431.4 L421.26,438.5 L421.48,432.8 L421.70,438.8 L421.92,432.1 L422.14,441.8 L422.36,427.6 L422.58,442.5 L422.80,430.1 L423.02,441.0 L423.24,428.6 L423.46,444.7 L423.68,430.5 L423.90,448.1 L424.12,428.8 L424.34,441.9 L424.56,431.0 L424.78,439.7 L425.00,430.1 L425.22,440.3 L425.44,428.0 L425.66,440.4 L425.88,429.5 L426.10,442.3 L426.32,427.4 L426.54,441.8 L426.76,429.1 L426.98,442.1 L427.20,428.0 L427.42,440.3 L427.64,430.0 L427.86,439.7 L428.08,429.0 L428.30,442.2 L428.52,429.6 L428.74,440.4 L428.96,426.8 L429.18,443.8 L429.40,430.7 L429.62,446.3 L429.84,428.3 L430.06,445.8 L430.28,429.9 L430.50,439.9 L430.72,430.0 L430.94,448.7 L431.16,430.3 L431.38,445.1 L431.60,431.0 L431.82,441.0 L432.04,429.0 L432.26,441.4 L432.48,431.1 L432.70,440.9 L432.92,429.0 L433.14,440.1 L433.36,429.0 L433.58,440.2 L433.80,429.4 L434.02,440.1 L434.24,424.5 L434.46,441.6 L434.68,427.8 L434.90,441.4 L435.12,429.1 L435.34,440.9 L435.56,430.5 L435.78,451.8 L436.00,430.3 L436.22,442.0 L436.44,430.0 L436.66,440.4 L436.88,429.0 L437.10,439.7 L437.32,430.8 L437.54,440.5 L437.76,424.8 L437.98,443.0 L438.20,424.2 L438.42,439.7 L438.64,427.6 L438.86,444.3 L439.08,429.7 L439.30,444.7 L439.52,429.9 L439.74,444.5 L439.96,425.5 L440.18,440.3 L440.40,430.2 L440.62,440.6 L440.84,428.9 L441.06,441.3 L441.28,427.7 L441.50,440.9 L441.72,426.0 L441.94,439.9 L442.16,430.9 L442.38,442.6 L442.60,429.9 L442.82,439.8 L443.04,431.0 L443.26,441.2 L443.48,428.1 L443.70,441.5 L443.92,429.7 L444.14,440.7 L444.36,424.8 L444.58,444.9 L444.80,427.7 L445.02,440.7 L445.24,427.7 L445.46,440.3 L445.68,429.6 L445.90,441.2 L446.12,429.5 L446.34,441.1 L446.56,429.5 L446.78,442.6 L447.00,429.4 L447.22,442.0 L447.44,431.0 L447.66,445.4 L447.88,426.4 L448.10,440.9 L448.32,428.5 L448.54,439.7 L448.76,428.7 L448.98,440.8 L449.20,429.9 L449.42,441.6 L449.64,430.1 L449.86,441.2 L450.08,430.7 L450.30,452.6 L450.52,427.4 L450.74,443.7 L450.96,425.6 L451.18,440.7 L451.40,430.2 L451.62,443.1 L451.84,431.0 L452.06,440.2 L452.28,426.0 L452.50,443.4 L452.72,429.2 L452.94,440.1 L453.16,430.2 L453.38,441.2 L453.60,429.6 L453.82,444.0 L454.04,425.7 L454.26,442.1 L454.48,429.0 L454.70,439.9 L454.92,428.9 L455.14,445.8 L455.36,427.1 L455.58,440.4 L455.80,423.5 L456.02,440.4 L456.24,428.7 L456.46,439.8 L456.68,430.7 L456.90,440.7 L457.12,427.3 L457.34,448.8 L457.56,428.1 L457.78,439.9 L458.00,430.3 L458.22,444.8 L458.44,430.3 L458.66,441.2 L458.88,427.7 L459.10,441.8 L459.32,430.4 L459.54,440.4 L459.76,428.3 L459.98,450.4 L460.20,429.6 L460.42,440.2 L460.64,429.1 L460.86,441.1 L461.08,426.4 L461.30,441.4 L461.52,428.9 L461.74,440.8 L461.96,427.5 L462.18,440.7 L462.40,430.2 L462.62,445.1 L462.84,430.8 L463.06,451.0 L463.28,427.7 L463.50,439.9 L463.72,427.5 L463.94,444.1 L464.16,429.1 L464.38,449.2 L464.60,429.4 L464.82,443.0 L465.04,429.4 L465.26,442.9 L465.48,430.8 L465.70,440.8 L465.92,428.7 L466.14,440.3 L466.36,428.5 L466.58,440.8 L466.80,427.7 L467.02,453.2 L467.24,428.1 L467.46,440.3 L467.68,429.8 L467.90,440.7 L468.12,429.1 L468.34,440.5 L468.56,430.1 L468.78,441.1 L469.00,429.2 L469.22,442.3 L469.44,427.6 L469.66,442.1 L469.88,430.1 L470.10,443.2 L470.32,430.4 L470.54,441.7 L470.76,425.8 L470.98,440.9 L471.20,431.0 L471.42,444.3 L471.64,430.1 L471.86,440.5 L472.08,428.2 L472.30,439.4 L472.52,430.6 L472.74,441.2 L472.96,429.3 L473.18,440.7 L473.40,431.0 L473.62,439.4 L473.84,431.6 L474.06,442.2 L474.28,431.3 L474.50,442.1 L474.72,429.4 L474.94,443.4 L475.16,430.1 L475.38,441.8 L475.60,427.6 L475.82,439.5 L476.04,426.4 L476.26,439.6 L476.48,429.3 L476.70,442.5 L476.92,431.1 L477.14,439.7 L477.36,431.4 L477.58,440.9 L477.80,431.2 L478.02,440.5 L478.24,430.4 L478.46,441.5 L478.68,429.4 L478.90,440.0 L479.12,431.5 L479.34,441.1 L479.56,430.4 L479.78,440.0 L480.00,427.8 L480.22,439.3 L480.44,430.8 L480.66,439.8 L480.88,429.9 L481.10,445.3 L481.32,429.2 L481.54,443.3 L481.76,429.0 L481.98,442.6 L482.20,430.6 L482.42,440.9 L482.64,431.3 L482.86,439.8 L483.08,429.1 L483.30,441.1 L483.52,430.7 L483.74,442.0 L483.96,428.1 L484.18,442.7 L484.40,430.5 L484.62,439.6 L484.84,430.4 L485.06,442.0 L485.28,429.9 L485.50,439.5 L485.72,429.7 L485.94,441.2 L486.16,431.0 L486.38,439.3 L486.60,431.5 L486.82,440.0 L487.04,431.4 L487.26,443.4 L487.48,428.7 L487.70,439.1 L487.92,431.3 L488.14,440.8 L488.36,429.8 L488.58,439.7 L488.80,430.4 L489.02,439.7 L489.24,429.3 L489.46,439.3 L489.68,430.2 L489.90,447.0 L490.12,431.5 L490.34,439.3 L490.56,427.3 L490.78,440.6 L491.00,429.7 L491.22,439.8 L491.44,428.9 L491.66,444.8 L491.88,431.4 L492.10,441.1 L492.32,428.3 L492.54,441.3 L492.76,428.3 L492.98,441.1 L493.20,426.4 L493.42,444.1 L493.64,429.7 L493.86,441.8 L494.08,430.4 L494.30,439.1 L494.52,430.2 L494.74,439.3 L494.96,430.7 L495.18,440.9 L495.40,428.5 L495.62,447.4 L495.84,429.2 L496.06,439.7 L496.28,427.5 L496.50,441.3 L496.72,431.4 L496.94,442.3 L497.16,430.4 L497.38,441.0 L497.60,431.0 L497.82,439.5 L498.04,430.2 L498.26,440.7 L498.48,431.6 L498.70,441.6 L498.92,431.6 L499.14,440.1 L499.36,428.4 L499.58,439.2 L499.80,425.9 L500.02,444.7 L500.24,431.5 L500.46,439.4 L500.68,429.2 L500.90,442.8 L501.12,430.7 L501.34,443.6 L501.56,431.4 L501.78,440.2 L502.00,428.7 L502.22,440.1 L502.44,430.3 L502.66,439.8 L502.88,430.6 L503.10,440.4 L503.32,428.0 L503.54,441.1 L503.76,428.6 L503.98,443.1 L504.20,431.1 L504.42,442.2 L504.64,430.4 L504.86,440.4 L505.08,431.4 L505.30,443.1 L505.52,424.7 L505.74,440.0 L505.96,431.2 L506.18,439.1 L506.40,431.4 L506.62,439.4 L506.84,431.3 L507.06,441.7 L507.28,425.0 L507.50,439.3 L507.72,429.8 L507.94,439.9 L508.16,431.6 L508.38,439.8 L508.60,429.4 L508.82,441.3 L509.04,428.4 L509.26,439.1 L509.48,430.6 L509.70,439.3 L509.92,430.5 L510.14,439.5 L510.36,429.9 L510.58,440.0 L510.80,431.3 L511.02,440.0 L511.24,429.3 L511.46,439.9 L511.68,431.5 L511.90,441.3 L512.12,429.0 L512.34,440.0 L512.56,430.9 L512.78,440.4 L513.00,429.2 L513.22,442.3 L513.44,428.6 L513.66,442.9 L513.88,431.3 L514.10,439.8 L514.32,431.2 L514.54,439.3 L514.76,429.7 L514.98,441.4 L515.20,424.8 L515.42,439.8 L515.64,431.3 L515.86,439.6 L516.08,428.5 L516.30,440.2 L516.52,430.1 L516.74,445.8 L516.96,431.5 L517.18,439.9 L517.40,429.7 L517.62,439.8 L517.84,429.9 L518.06,440.7 L518.28,429.7 L518.50,439.6 L518.72,429.7 L518.94,439.4 L519.16,430.1 L519.38,440.0 L519.60,430.1 L519.82,442.2 L520.04,427.4 L520.26,440.6 L520.48,429.5 L520.70,440.3 L520.92,431.7 L521.14,440.6 L521.36,430.9 L521.58,439.7 L521.80,431.6 L522.02,439.9 L522.24,431.3 L522.46,439.8 L522.68,431.0 L522.90,440.0 L523.12,430.4 L523.34,446.7 L523.56,429.4 L523.78,441.4 L524.00,430.3 L524.22,440.8 L524.44,431.4 L524.66,440.8 L524.88,430.0 L525.10,440.0 L525.32,429.9 L525.54,448.1 L525.76,430.3 L525.98,442.6 L526.20,430.2 L526.42,441.6 L526.64,428.6 L526.86,439.1 L527.08,424.4 L527.30,441.0 L527.52,431.5 L527.74,439.5 L527.96,430.8 L528.18,439.9 L528.40,431.5 L528.62,442.7 L528.84,430.9 L529.06,446.3 L529.28,428.9 L529.50,440.6 L529.72,430.6 L529.94,442.1 L530.16,431.7 L530.38,444.0 L530.60,428.3 L530.82,440.0 L531.04,430.0 L531.26,440.4 L531.48,424.4 L531.70,439.4 L531.92,429.1 L532.14,441.7 L532.36,424.0 L532.58,441.2 L532.80,431.5 L533.02,439.7 L533.24,431.2 L533.46,445.0 L533.68,430.8 L533.90,442.1 L534.12,427.7 L534.34,440.2 L534.56,430.0 L534.78,445.1 L535.00,431.4 L535.22,442.1 L535.44,431.4 L535.66,443.0 L535.88,429.3 L536.10,440.5 L536.32,431.3 L536.54,441.1 L536.76,431.8 L536.98,442.0 L537.20,428.1 L537.42,439.8 L537.64,430.3 L537.86,440.2 L538.08,430.6 L538.30,439.1 L538.52,429.3 L538.74,439.1 L538.96,429.7 L539.18,443.0 L539.40,431.1 L539.62,439.1 L539.84,428.2 L540.06,439.5 L540.28,429.9 L540.50,440.6 L540.72,428.3 L540.94,440.4 L541.16,431.5 L541.38,439.7 L541.60,430.4 L541.82,441.3 L542.04,430.3 L542.26,440.0 L542.48,430.7 L542.70,441.8 L542.92,429.3 L543.14,440.4 L543.36,429.5 L543.58,439.6 L543.80,430.8 L544.02,440.3 L544.24,431.1 L544.46,440.3 L544.68,430.3 L544.90,443.4 L545.12,429.1 L545.34,443.0 L545.56,431.0 L545.78,441.9 L546.00,430.6 L546.22,440.4 L546.44,431.3 L546.66,439.5 L546.88,431.4 L547.10,442.7 L547.32,427.9 L547.54,439.2 L547.76,430.3 L547.98,441.3 L548.20,430.3 L548.42,440.6 L548.64,430.0 L548.86,441.0 L549.08,427.9 L549.30,440.1 L549.52,431.2 L549.74,439.4 L549.96,426.1 L550.18,441.9 L550.40,430.3 L550.62,441.7 L550.84,430.3 L551.06,441.3 L551.28,430.1 L551.50,439.3 L551.72,430.3 L551.94,440.3 L552.16,429.9 L552.38,439.8 L552.60,429.5 L552.82,441.4 L553.04,431.6 L553.26,440.2 L553.48,430.5 L553.70,439.9 L553.92,430.1 L554.14,447.3 L554.36,431.0 L554.58,440.3 L554.80,427.5 L555.02,439.1 L555.24,430.3 L555.46,441.3 L555.68,429.5 L555.90,439.7 L556.12,430.4 L556.34,439.4 L556.56,427.8 L556.78,441.2 L557.00,430.1 L557.22,443.1 L557.44,428.5 L557.66,439.1 L557.88,431.5 L558.10,440.5 L558.32,430.6 L558.54,439.5 L558.76,430.1 L558.98,439.1 L559.20,431.4 L559.42,442.2 L559.64,429.9 L559.86,444.0 L560.08,432.1 L560.30,438.2 L560.52,430.3 L560.74,440.7 L560.96,432.7 L561.18,440.0 L561.40,431.9 L561.62,439.9 L561.84,429.2 L562.06,438.8 L562.28,431.5 L562.50,438.1 L562.72,431.8 L562.94,439.7 L563.16,431.9 L563.38,441.2 L563.60,432.1 L563.82,440.3 L564.04,431.2 L564.26,439.6 L564.48,431.0 L564.70,438.4 L564.92,431.8 L565.14,439.4 L565.36,432.2 L565.58,439.8 L565.80,432.3 L566.02,439.1 L566.24,432.3 L566.46,438.6 L566.68,432.5 L566.90,441.9 L567.12,432.7 L567.34,438.4 L567.56,430.2 L567.78,439.9 L568.00,429.9 L568.22,439.9 L568.44,431.5 L568.66,439.0 L568.88,431.9 L569.10,438.1 L569.32,431.0 L569.54,438.3 L569.76,432.4 L569.98,438.3 L570.20,431.7 L570.42,440.0 L570.64,431.1 L570.86,439.4 L571.08,432.2 L571.30,440.2 L571.52,432.4 L571.74,438.4 L571.96,431.0 L572.18,438.1 L572.40,429.4 L572.62,438.7 L572.84,431.5 L573.06,438.1 L573.28,430.6 L573.50,439.3 L573.72,432.1 L573.94,440.8 L574.16,431.1 L574.38,439.5 L574.60,432.5 L574.82,438.5 L575.04,430.5 L575.26,438.8 L575.48,430.7 L575.70,438.5 L575.92,431.9 L576.14,441.8 L576.36,428.5 L576.58,439.6 L576.80,432.3 L577.02,438.0 L577.24,432.6 L577.46,439.2 L577.68,431.8 L577.90,439.7 L578.12,432.2 L578.34,440.8 L578.56,432.0 L578.78,439.0 L579.00,432.1 L579.22,438.9 L579.44,432.0 L579.66,438.1 L579.88,431.2 L580.10,440.0 L580.32,432.6 L580.54,439.8 L580.76,432.4 L580.98,438.2 L581.20,431.6 L581.42,438.1 L581.64,429.8 L581.86,440.7 L582.08,430.1 L582.30,439.7 L582.52,431.6 L582.74,438.5 L582.96,431.2 L583.18,438.2 L583.40,431.5 L583.62,438.2 L583.84,432.2 L584.06,438.4 L584.28,431.5 L584.50,439.3 L584.72,431.4 L584.94,440.8 L585.16,432.6 L585.38,438.2 L585.60,432.6 L585.82,439.3 L586.04,430.2 L586.26,439.4 L586.48,431.7 L586.70,443.1 L586.92,429.5 L587.14,438.9 L587.36,431.9 L587.58,442.0 L587.80,432.1 L588.02,439.5 L588.24,430.2 L588.46,438.2 L588.68,431.7 L588.90,439.3 L589.12,431.5 L589.34,438.2 L589.56,430.6 L589.78,439.0 L590.00,431.0 L590.22,441.4 L590.44,432.3 L590.66,438.8 L590.88,432.0 L591.10,438.9 L591.32,430.8 L591.54,443.0 L591.76,432.0 L591.98,438.6 L592.20,431.5 L592.42,439.1 L592.64,432.4 L592.86,443.3 L593.08,431.5 L593.30,438.5 L593.52,432.4 L593.74,439.7 L593.96,432.4 L594.18,438.2 L594.40,431.9 L594.62,439.1 L594.84,431.4 L595.06,439.1 L595.28,429.3 L595.50,438.6 L595.72,430.9 L595.94,438.9 L596.16,432.5 L596.38,439.0 L596.60,430.6 L596.82,438.3 L597.04,432.5 L597.26,438.1 L597.48,430.8 L597.70,438.9 L597.92,431.9 L598.14,442.3 L598.36,432.0 L598.58,439.0 L598.80,432.6 L599.02,438.8 L599.24,431.0 L599.46,439.6 L599.68,430.8 L599.90,441.5 L600.12,430.8 L600.34,438.8 L600.56,431.3 L600.78,439.2 L601.00,430.7 L601.22,440.0 L601.44,431.3 L601.66,438.8 L601.88,432.1 L602.10,438.4 L602.32,432.7 L602.54,439.9 L602.76,432.2 L602.98,438.5 L603.20,430.9 L603.42,440.0 L603.64,432.2 L603.86,438.5 L604.08,431.7 L604.30,442.2 L604.52,432.3 L604.74,439.9 L604.96,432.6 L605.18,439.6 L605.40,432.5 L605.62,439.8 L605.84,431.4 L606.06,439.1 L606.28,431.8 L606.50,438.7 L606.72,431.9 L606.94,438.2 L607.16,431.8 L607.38,439.4 L607.60,431.3 L607.82,440.0 L608.04,432.5 L608.26,438.3 L608.48,432.1 L608.70,438.7 L608.92,431.6 L609.14,438.5 L609.36,431.5 L609.58,438.1 L609.80,432.5 L610.02,438.5 L610.24,431.5 L610.46,441.3 L610.68,432.2 L610.90,438.9 L611.12,431.6 L611.34,441.0 L611.56,432.5 L611.78,440.4 L612.00,432.4 L612.22,440.0 L612.44,432.2 L612.66,440.4 L612.88,432.0 L613.10,438.8 L613.32,430.7 L613.54,438.8 L613.76,430.3 L613.98,438.5 L614.20,430.3 L614.42,439.1 L614.64,428.6 L614.86,440.1 L615.08,431.4 L615.30,439.8 L615.52,432.6 L615.74,440.3 L615.96,430.5 L616.18,440.6 L616.40,428.8 L616.62,438.4 L616.84,432.6 L617.06,439.5 L617.28,432.5 L617.50,440.0 L617.72,431.3 L617.94,438.5 L618.16,431.8 L618.38,438.6 L618.60,431.1 L618.82,441.7 L619.04,430.6 L619.26,438.4 L619.48,432.2 L619.70,439.0 L619.92,432.0 L620.14,439.6 L620.36,432.3 L620.58,438.6 L620.80,431.7 L621.02,438.2 L621.24,430.6 L621.46,440.8 L621.68,431.3 L621.90,438.7 L622.12,431.7 L622.34,438.3 L622.56,431.1 L622.78,441.2 L623.00,431.6 L623.22,441.8 L623.44,430.0 L623.66,440.3 L623.88,428.4 L624.10,441.3 L624.32,429.4 L624.54,438.1 L624.76,432.0 L624.98,440.0 L625.20,428.0 L625.42,440.6 L625.64,431.3 L625.86,440.3 L626.08,431.9 L626.30,438.7 L626.52,432.7 L626.74,439.0 L626.96,430.9 L627.18,440.0 L627.40,432.4" stroke="#000" stroke-width="0.5" fill="none"/>
<g clip-path="url(#cS)"><g filter="url(#bS)"><rect x="375.9" y="454.4" width="256.4" height="90.89999999999998" fill="#3260e0"/><path d="M384,456.4 L394,456.4 L391.0,505.4 L387.0,505.4 Z" fill="#2a8ee8" opacity="0.75"/><path d="M387.8,456.4 L390.2,456.4 L389.4,496.2 L388.6,496.2 Z" fill="#22a8d8" opacity="0.6"/><path d="M400,456.4 L406,456.4 L404.2,499.4 L401.8,499.4 Z" fill="#2a8ee8" opacity="0.75"/><path d="M401.8,456.4 L404.2,456.4 L403.4,491.4 L402.6,491.4 Z" fill="#22a8d8" opacity="0.6"/><path d="M416.5,456.4 L422.5,456.4 L420.7,504.4 L418.3,504.4 Z" fill="#2a8ee8" opacity="0.75"/><path d="M418.3,456.4 L420.7,456.4 L419.9,495.4 L419.1,495.4 Z" fill="#22a8d8" opacity="0.6"/><path d="M424.5,456.4 L432.5,456.4 L430.1,487.4 L426.9,487.4 Z" fill="#2a8ee8" opacity="0.75"/><path d="M427.3,456.4 L429.7,456.4 L428.9,481.79999999999995 L428.1,481.79999999999995 Z" fill="#22a8d8" opacity="0.6"/><path d="M437,456.4 L443,456.4 L441.2,497.4 L438.8,497.4 Z" fill="#2a8ee8" opacity="0.75"/><path d="M438.8,456.4 L441.2,456.4 L440.4,489.79999999999995 L439.6,489.79999999999995 Z" fill="#22a8d8" opacity="0.6"/><path d="M452,456.4 L458,456.4 L456.2,494.4 L453.8,494.4 Z" fill="#2a8ee8" opacity="0.75"/><path d="M453.8,456.4 L456.2,456.4 L455.4,487.4 L454.6,487.4 Z" fill="#22a8d8" opacity="0.6"/><path d="M461.7,456.4 L469.7,456.4 L467.3,504.4 L464.09999999999997,504.4 Z" fill="#2a8ee8" opacity="0.75"/><path d="M464.5,456.4 L466.9,456.4 L466.09999999999997,495.4 L465.3,495.4 Z" fill="#22a8d8" opacity="0.6"/><path d="M482.4,456.4 L490.4,456.4 L488.0,509.4 L484.79999999999995,509.4 Z" fill="#2a8ee8" opacity="0.75"/><path d="M485.2,456.4 L487.59999999999997,456.4 L486.79999999999995,499.4 L486.0,499.4 Z" fill="#22a8d8" opacity="0.6"/><path d="M492.4,456.4 L498.4,456.4 L496.59999999999997,499.4 L494.2,499.4 Z" fill="#2a8ee8" opacity="0.75"/><path d="M494.2,456.4 L496.59999999999997,456.4 L495.79999999999995,491.4 L495.0,491.4 Z" fill="#22a8d8" opacity="0.6"/><path d="M509.20000000000005,456.4 L515.2,456.4 L513.4000000000001,501.4 L511.00000000000006,501.4 Z" fill="#2a8ee8" opacity="0.75"/><path d="M511.00000000000006,456.4 L513.4000000000001,456.4 L512.6,493.0 L511.80000000000007,493.0 Z" fill="#22a8d8" opacity="0.6"/><path d="M515.7,456.4 L521.7,456.4 L519.9000000000001,499.4 L517.5,499.4 Z" fill="#2a8ee8" opacity="0.75"/><path d="M517.5,456.4 L519.9000000000001,456.4 L519.1,491.4 L518.3000000000001,491.4 Z" fill="#22a8d8" opacity="0.6"/><path d="M532.5,456.4 L538.5,456.4 L536.7,499.4 L534.3,499.4 Z" fill="#2a8ee8" opacity="0.75"/><path d="M534.3,456.4 L536.7,456.4 L535.9,491.4 L535.1,491.4 Z" fill="#22a8d8" opacity="0.6"/><path d="M542,456.4 L548,456.4 L546.2,504.4 L543.8,504.4 Z" fill="#2a8ee8" opacity="0.75"/><path d="M543.8,456.4 L546.2,456.4 L545.4,495.4 L544.6,495.4 Z" fill="#22a8d8" opacity="0.6"/><path d="M552,456.4 L560,456.4 L557.6,504.4 L554.4,504.4 Z" fill="#2a8ee8" opacity="0.75"/><path d="M554.8,456.4 L557.2,456.4 L556.4,495.4 L555.6,495.4 Z" fill="#22a8d8" opacity="0.6"/><path d="M565.8,456.4 L571.8,456.4 L570.0,497.4 L567.5999999999999,497.4 Z" fill="#2a8ee8" opacity="0.75"/><path d="M567.5999999999999,456.4 L570.0,456.4 L569.1999999999999,489.79999999999995 L568.4,489.79999999999995 Z" fill="#22a8d8" opacity="0.6"/><path d="M578.7,456.4 L584.7,456.4 L582.9000000000001,499.4 L580.5,499.4 Z" fill="#2a8ee8" opacity="0.75"/><path d="M580.5,456.4 L582.9000000000001,456.4 L582.1,491.4 L581.3000000000001,491.4 Z" fill="#22a8d8" opacity="0.6"/><path d="M599.7,456.4 L607.7,456.4 L605.3000000000001,504.4 L602.1,504.4 Z" fill="#2a8ee8" opacity="0.75"/><path d="M602.5,456.4 L604.9000000000001,456.4 L604.1,495.4 L603.3000000000001,495.4 Z" fill="#22a8d8" opacity="0.6"/><path d="M612.3,456.4 L618.3,456.4 L616.5,499.4 L614.0999999999999,499.4 Z" fill="#2a8ee8" opacity="0.75"/><path d="M614.0999999999999,456.4 L616.5,456.4 L615.6999999999999,491.4 L614.9,491.4 Z" fill="#22a8d8" opacity="0.6"/><path d="M622,456.4 L626,456.4 L624.8,489.4 L623.2,489.4 Z" fill="#2a8ee8" opacity="0.75"/><path d="M622.8,456.4 L625.2,456.4 L624.4,483.4 L623.6,483.4 Z" fill="#22a8d8" opacity="0.6"/><ellipse cx="382.9" cy="463.9" rx="2.8" ry="3.8" fill="#3c2caa" opacity="0.85"/><ellipse cx="421.0" cy="464.5" rx="2.5" ry="3.0" fill="#3c2caa" opacity="0.85"/><ellipse cx="432.4" cy="463.9" rx="1.9" ry="4.1" fill="#3c2caa" opacity="0.85"/><ellipse cx="449.3" cy="465.5" rx="3.2" ry="4.0" fill="#3c2caa" opacity="0.85"/><ellipse cx="457.7" cy="466.8" rx="2.3" ry="3.5" fill="#3c2caa" opacity="0.85"/><ellipse cx="471.7" cy="466.7" rx="2.0" ry="4.1" fill="#3c2caa" opacity="0.85"/><ellipse cx="479.9" cy="463.7" rx="2.6" ry="3.2" fill="#3c2caa" opacity="0.85"/><ellipse cx="492.7" cy="463.8" rx="3.0" ry="3.0" fill="#3c2caa" opacity="0.85"/><ellipse cx="539.9" cy="466.3" rx="2.8" ry="2.7" fill="#3c2caa" opacity="0.85"/><ellipse cx="550.5" cy="464.5" rx="3.1" ry="4.3" fill="#3c2caa" opacity="0.85"/><ellipse cx="558.3" cy="463.1" rx="2.3" ry="4.5" fill="#3c2caa" opacity="0.85"/><ellipse cx="574.0" cy="465.0" rx="2.8" ry="4.5" fill="#3c2caa" opacity="0.85"/><ellipse cx="586.7" cy="465.2" rx="2.8" ry="2.9" fill="#3c2caa" opacity="0.85"/><ellipse cx="600.6" cy="464.4" rx="2.0" ry="3.2" fill="#3c2caa" opacity="0.85"/><ellipse cx="607.4" cy="466.3" rx="2.2" ry="2.7" fill="#3c2caa" opacity="0.85"/><ellipse cx="385.4" cy="473.8" rx="2.8" ry="3.9" fill="#3c2caa" opacity="0.85"/><ellipse cx="396.5" cy="473.5" rx="3.2" ry="4.4" fill="#3c2caa" opacity="0.85"/><ellipse cx="412.3" cy="470.6" rx="2.3" ry="3.0" fill="#3c2caa" opacity="0.85"/><ellipse cx="423.9" cy="473.3" rx="2.9" ry="4.0" fill="#3c2caa" opacity="0.85"/><ellipse cx="433.5" cy="470.7" rx="2.2" ry="3.1" fill="#3c2caa" opacity="0.85"/><ellipse cx="449.9" cy="473.0" rx="2.3" ry="4.3" fill="#3c2caa" opacity="0.85"/><ellipse cx="460.2" cy="472.9" rx="2.2" ry="4.4" fill="#3c2caa" opacity="0.85"/><ellipse cx="475.8" cy="473.5" rx="2.1" ry="4.2" fill="#3c2caa" opacity="0.85"/><ellipse cx="489.8" cy="472.1" rx="2.6" ry="4.2" fill="#3c2caa" opacity="0.85"/><ellipse cx="502.1" cy="473.8" rx="2.9" ry="2.5" fill="#3c2caa" opacity="0.85"/><ellipse cx="509.1" cy="472.3" rx="2.6" ry="3.8" fill="#3c2caa" opacity="0.85"/><ellipse cx="527.4" cy="470.5" rx="2.4" ry="4.4" fill="#3c2caa" opacity="0.85"/><ellipse cx="529.7" cy="470.6" rx="1.9" ry="2.6" fill="#3c2caa" opacity="0.85"/><ellipse cx="559.0" cy="470.9" rx="2.6" ry="3.1" fill="#3c2caa" opacity="0.85"/><ellipse cx="575.3" cy="472.2" rx="2.1" ry="3.3" fill="#3c2caa" opacity="0.85"/><ellipse cx="587.6" cy="473.2" rx="2.8" ry="4.2" fill="#3c2caa" opacity="0.85"/><ellipse cx="593.6" cy="470.7" rx="2.4" ry="2.6" fill="#3c2caa" opacity="0.85"/><ellipse cx="607.3" cy="471.6" rx="2.8" ry="3.1" fill="#3c2caa" opacity="0.85"/><ellipse cx="619.0" cy="472.2" rx="3.1" ry="3.1" fill="#3c2caa" opacity="0.85"/><ellipse cx="397.4" cy="481.9" rx="2.6" ry="3.5" fill="#3c2caa" opacity="0.85"/><ellipse cx="410.4" cy="478.3" rx="2.8" ry="3.6" fill="#3c2caa" opacity="0.85"/><ellipse cx="444.6" cy="478.3" rx="2.2" ry="4.5" fill="#3c2caa" opacity="0.85"/><ellipse cx="459.7" cy="480.5" rx="2.9" ry="4.0" fill="#3c2caa" opacity="0.85"/><ellipse cx="474.1" cy="479.6" rx="2.7" ry="3.4" fill="#3c2caa" opacity="0.85"/><ellipse cx="479.6" cy="479.0" rx="2.1" ry="2.6" fill="#3c2caa" opacity="0.85"/><ellipse cx="524.9" cy="480.5" rx="2.1" ry="3.3" fill="#3c2caa" opacity="0.85"/><ellipse cx="541.3" cy="481.6" rx="2.5" ry="3.5" fill="#3c2caa" opacity="0.85"/><ellipse cx="619.7" cy="481.3" rx="3.1" ry="3.3" fill="#3c2caa" opacity="0.85"/><ellipse cx="409.3" cy="486.6" rx="2.2" ry="3.1" fill="#3c2caa" opacity="0.85"/><ellipse cx="426.7" cy="489.0" rx="1.9" ry="3.1" fill="#3c2caa" opacity="0.85"/><ellipse cx="435.2" cy="486.8" rx="2.0" ry="4.4" fill="#3c2caa" opacity="0.85"/><ellipse cx="445.6" cy="489.8" rx="2.7" ry="3.9" fill="#3c2caa" opacity="0.85"/><ellipse cx="457.9" cy="488.7" rx="2.2" ry="4.2" fill="#3c2caa" opacity="0.85"/><ellipse cx="473.3" cy="489.8" rx="2.6" ry="3.1" fill="#3c2caa" opacity="0.85"/><ellipse cx="478.7" cy="486.7" rx="2.4" ry="3.7" fill="#3c2caa" opacity="0.85"/><ellipse cx="493.8" cy="486.1" rx="2.2" ry="2.9" fill="#3c2caa" opacity="0.85"/><ellipse cx="530.6" cy="488.8" rx="2.5" ry="2.6" fill="#3c2caa" opacity="0.85"/><ellipse cx="537.6" cy="487.2" rx="1.8" ry="3.6" fill="#3c2caa" opacity="0.85"/><ellipse cx="548.8" cy="489.2" rx="3.1" ry="3.2" fill="#3c2caa" opacity="0.85"/><ellipse cx="573.4" cy="488.2" rx="1.9" ry="2.9" fill="#3c2caa" opacity="0.85"/><ellipse cx="588.6" cy="489.5" rx="2.9" ry="4.2" fill="#3c2caa" opacity="0.85"/><ellipse cx="594.4" cy="489.0" rx="2.6" ry="2.7" fill="#3c2caa" opacity="0.85"/><ellipse cx="610.6" cy="488.5" rx="1.9" ry="4.1" fill="#3c2caa" opacity="0.85"/><ellipse cx="617.6" cy="487.4" rx="2.9" ry="3.2" fill="#3c2caa" opacity="0.85"/><ellipse cx="380.4" cy="494.3" rx="2.7" ry="4.3" fill="#3c2caa" opacity="0.85"/><ellipse cx="394.6" cy="494.2" rx="2.7" ry="2.9" fill="#3c2caa" opacity="0.85"/><ellipse cx="410.9" cy="494.6" rx="2.5" ry="3.9" fill="#3c2caa" opacity="0.85"/><ellipse cx="423.5" cy="496.8" rx="3.1" ry="3.6" fill="#3c2caa" opacity="0.85"/><ellipse cx="445.3" cy="494.2" rx="1.9" ry="4.2" fill="#3c2caa" opacity="0.85"/><ellipse cx="458.0" cy="496.8" rx="2.5" ry="3.8" fill="#3c2caa" opacity="0.85"/><ellipse cx="475.8" cy="497.6" rx="2.0" ry="4.2" fill="#3c2caa" opacity="0.85"/><ellipse cx="491.2" cy="497.6" rx="2.9" ry="4.3" fill="#3c2caa" opacity="0.85"/><ellipse cx="508.8" cy="494.0" rx="3.1" ry="4.4" fill="#3c2caa" opacity="0.85"/><ellipse cx="526.5" cy="496.6" rx="2.7" ry="3.7" fill="#3c2caa" opacity="0.85"/><ellipse cx="532.3" cy="494.8" rx="3.1" ry="3.6" fill="#3c2caa" opacity="0.85"/><ellipse cx="553.3" cy="495.4" rx="2.9" ry="4.0" fill="#3c2caa" opacity="0.85"/><ellipse cx="559.2" cy="497.3" rx="2.4" ry="2.9" fill="#3c2caa" opacity="0.85"/><ellipse cx="573.5" cy="496.3" rx="2.0" ry="2.6" fill="#3c2caa" opacity="0.85"/><ellipse cx="583.6" cy="497.7" rx="2.7" ry="2.9" fill="#3c2caa" opacity="0.85"/><ellipse cx="589.7" cy="495.0" rx="3.1" ry="3.5" fill="#3c2caa" opacity="0.85"/><ellipse cx="599.5" cy="496.6" rx="2.7" ry="4.0" fill="#3c2caa" opacity="0.85"/><ellipse cx="609.9" cy="495.1" rx="2.4" ry="3.3" fill="#3c2caa" opacity="0.85"/><ellipse cx="620.9" cy="496.3" rx="2.4" ry="2.6" fill="#3c2caa" opacity="0.85"/><ellipse cx="435.0" cy="504.3" rx="2.4" ry="2.5" fill="#3c2caa" opacity="0.85"/><ellipse cx="445.4" cy="504.9" rx="3.2" ry="2.9" fill="#3c2caa" opacity="0.85"/><ellipse cx="476.0" cy="504.0" rx="1.9" ry="3.2" fill="#3c2caa" opacity="0.85"/><ellipse cx="480.6" cy="504.8" rx="2.3" ry="3.8" fill="#3c2caa" opacity="0.85"/><ellipse cx="508.8" cy="505.7" rx="2.2" ry="4.1" fill="#3c2caa" opacity="0.85"/><ellipse cx="522.5" cy="503.2" rx="3.0" ry="4.3" fill="#3c2caa" opacity="0.85"/><ellipse cx="541.1" cy="503.2" rx="3.0" ry="3.0" fill="#3c2caa" opacity="0.85"/><ellipse cx="552.3" cy="502.9" rx="2.1" ry="3.5" fill="#3c2caa" opacity="0.85"/><ellipse cx="572.2" cy="502.6" rx="2.7" ry="3.2" fill="#3c2caa" opacity="0.85"/><ellipse cx="583.7" cy="505.5" rx="2.8" ry="3.3" fill="#3c2caa" opacity="0.85"/><ellipse cx="597.7" cy="504.0" rx="2.8" ry="3.7" fill="#3c2caa" opacity="0.85"/><ellipse cx="618.2" cy="503.4" rx="2.7" ry="3.8" fill="#3c2caa" opacity="0.85"/><ellipse cx="411.7" cy="509.1" rx="2.5" ry="2.9" fill="#3c2caa" opacity="0.85"/><ellipse cx="434.5" cy="509.3" rx="2.1" ry="3.7" fill="#3c2caa" opacity="0.85"/><ellipse cx="446.0" cy="510.3" rx="2.0" ry="4.1" fill="#3c2caa" opacity="0.85"/><ellipse cx="457.9" cy="511.5" rx="1.9" ry="2.9" fill="#3c2caa" opacity="0.85"/><ellipse cx="477.7" cy="510.6" rx="2.0" ry="3.6" fill="#3c2caa" opacity="0.85"/><ellipse cx="498.5" cy="510.0" rx="2.8" ry="3.6" fill="#3c2caa" opacity="0.85"/><ellipse cx="507.5" cy="512.3" rx="1.9" ry="2.9" fill="#3c2caa" opacity="0.85"/><ellipse cx="523.8" cy="510.3" rx="2.7" ry="2.5" fill="#3c2caa" opacity="0.85"/><ellipse cx="540.0" cy="512.6" rx="2.9" ry="2.6" fill="#3c2caa" opacity="0.85"/><ellipse cx="556.5" cy="512.9" rx="2.1" ry="4.4" fill="#3c2caa" opacity="0.85"/><ellipse cx="593.0" cy="511.6" rx="2.0" ry="3.2" fill="#3c2caa" opacity="0.85"/><ellipse cx="596.7" cy="509.4" rx="2.9" ry="2.6" fill="#3c2caa" opacity="0.85"/><ellipse cx="607.9" cy="510.2" rx="2.9" ry="4.0" fill="#3c2caa" opacity="0.85"/><ellipse cx="617.4" cy="510.5" rx="2.7" ry="3.4" fill="#3c2caa" opacity="0.85"/><ellipse cx="474.8" cy="484.7" rx="6" ry="8" fill="#3c2ca8" opacity="0.9"/><ellipse cx="507" cy="470.5" rx="4" ry="7" fill="#3c2ca8" opacity="0.9"/><ellipse cx="530.3" cy="511.8" rx="6" ry="4" fill="#3c2ca8" opacity="0.9"/><ellipse cx="574" cy="488.6" rx="5" ry="8" fill="#3c2ca8" opacity="0.9"/><ellipse cx="558.5" cy="493.7" rx="6" ry="7" fill="#3c2ca8" opacity="0.9"/><ellipse cx="619.2" cy="504" rx="7" ry="9" fill="#3c2ca8" opacity="0.9"/><ellipse cx="398" cy="478" rx="4" ry="9" fill="#3c2ca8" opacity="0.9"/><ellipse cx="410" cy="470" rx="3" ry="8" fill="#3c2ca8" opacity="0.9"/><ellipse cx="600" cy="470" rx="3" ry="8" fill="#3c2ca8" opacity="0.9"/><ellipse cx="428" cy="477" rx="5" ry="8" fill="#2a9ae0" opacity="0.8"/><ellipse cx="386" cy="505" rx="7" ry="5" fill="#22a8d0" opacity="0.9"/><ellipse cx="490" cy="515" rx="10" ry="5" fill="#22a8d0" opacity="0.8"/><ellipse cx="557" cy="520.8" rx="9" ry="3" fill="#22a8d0" opacity="0.9"/><ellipse cx="391" cy="517" rx="10" ry="4" fill="#3a2ca6"/><ellipse cx="412" cy="524.5" rx="14" ry="4" fill="#3a2ca6"/><ellipse cx="585.6" cy="523.4" rx="14" ry="3" fill="#3a2ca6"/><ellipse cx="442.5" cy="524.3" rx="6" ry="2" fill="#3a2ca6"/><ellipse cx="438.8" cy="518.3" rx="2.5" ry="2" fill="#3a2ca6"/><ellipse cx="429.7" cy="518.3" rx="3.2" ry="2.6" fill="#8cc860"/><ellipse cx="451" cy="517.7" rx="7" ry="3" fill="#2ab0b0"/><ellipse cx="452" cy="517.7" rx="4.5" ry="1.8" fill="#a0c850"/><ellipse cx="487.7" cy="524" rx="5" ry="2" fill="#50bc88"/><ellipse cx="516" cy="525.4" rx="5" ry="2" fill="#50bc88"/><rect x="376" y="531" width="256" height="3" fill="#3050e0"/><rect x="376" y="531" width="58" height="3" fill="#2a36b8"/><rect x="376" y="534" width="256" height="2.6" fill="#3046d0"/><rect x="376" y="536.6" width="256" height="1.9" fill="#22a4c8"/><rect x="376" y="538.5" width="256" height="4" fill="#e2d22c"/><path d="M428,528.2 Q442,526.2 456,528.6 Q480,529.2 505,529.8 Q535,531.2 565,532.4 L627,532.8 L627,534.2 L565,534.4 Q535,534.2 505,533.8 Q480,533.6 456,532 Q442,531.4 428,530.8 Z" fill="#e6d82c"/><path d="M433,527.4 Q446,526.2 457,528 L456,530.6 Q445,530.6 433,529.8 Z" fill="#f8b428"/><path d="M458,530 Q485,530.2 512,530.8 L512,533.2 Q485,533 458,532.2 Z" fill="#fcf014"/></g></g>
<line x1="380.90" y1="459.40" x2="380.90" y2="540.30" stroke="#333" stroke-width="1"/>
<line x1="380.90" y1="540.30" x2="627.30" y2="540.30" stroke="#333" stroke-width="1"/>
<line x1="378.40" y1="459.60" x2="380.90" y2="459.60" stroke="#333" stroke-width="1"/>
<text x="377.60" y="463.40" font-size="11" text-anchor="end" fill="#111">100</text>
<line x1="378.40" y1="475.70" x2="380.90" y2="475.70" stroke="#333" stroke-width="1"/>
<text x="377.60" y="479.50" font-size="11" text-anchor="end" fill="#111">80</text>
<line x1="378.40" y1="492.30" x2="380.90" y2="492.30" stroke="#333" stroke-width="1"/>
<text x="377.60" y="496.10" font-size="11" text-anchor="end" fill="#111">60</text>
<line x1="378.40" y1="508.50" x2="380.90" y2="508.50" stroke="#333" stroke-width="1"/>
<text x="377.60" y="512.30" font-size="11" text-anchor="end" fill="#111">40</text>
<line x1="378.40" y1="524.70" x2="380.90" y2="524.70" stroke="#333" stroke-width="1"/>
<text x="377.60" y="528.50" font-size="11" text-anchor="end" fill="#111">20</text>
<line x1="418.20" y1="540.30" x2="418.20" y2="542.80" stroke="#333" stroke-width="1"/>
<text x="418.20" y="556.00" font-size="11" text-anchor="middle" fill="#111">0.5</text>
<line x1="478.70" y1="540.30" x2="478.70" y2="542.80" stroke="#333" stroke-width="1"/>
<text x="478.70" y="556.00" font-size="11" text-anchor="middle" fill="#111">1</text>
<line x1="541.30" y1="540.30" x2="541.30" y2="542.80" stroke="#333" stroke-width="1"/>
<text x="541.30" y="556.00" font-size="11" text-anchor="middle" fill="#111">1.5</text>
<line x1="602.50" y1="540.30" x2="602.50" y2="542.80" stroke="#333" stroke-width="1"/>
<text x="602.50" y="556.00" font-size="11" text-anchor="middle" fill="#111">2</text>
<text x="504.00" y="569.80" font-size="11.2" text-anchor="middle" fill="#111">Time (s)</text>
<text x="353.50" y="499.00" font-size="11.2" text-anchor="middle" fill="#111" transform="rotate(-90 353.50 499.00)">Frequency (Hz)</text>
<rect x="634.10" y="472.20" width="6.80" height="54.20" fill="url(#parula)"/>
<text x="644.20" y="477.50" font-size="9.8" fill="#111">2</text>
<text x="644.20" y="505.40" font-size="9.8" fill="#111">1</text>
<text x="644.20" y="531.00" font-size="9.8" fill="#111">0</text>
<text x="661.00" y="501.40" font-size="11" text-anchor="middle" fill="#111" transform="rotate(90 661.00 501.40)">Power (A.U.)</text>
<rect x="17.40" y="570.40" width="19.10" height="18.30" fill="#fff" stroke="#222" stroke-width="1"/>
<text x="26.95" y="584.50" font-size="16" text-anchor="middle" fill="#111">f</text>
<line x1="58.50" y1="596.60" x2="58.50" y2="742.50" stroke="#666" stroke-width="1.1"/>
<line x1="58.50" y1="742.50" x2="167.70" y2="742.50" stroke="#666" stroke-width="1.1"/>
<line x1="54.50" y1="596.60" x2="58.50" y2="596.60" stroke="#666" stroke-width="1"/>
<text x="52.50" y="600.00" font-size="9.8" text-anchor="end" fill="#111">1</text>
<line x1="54.50" y1="669.60" x2="58.50" y2="669.60" stroke="#666" stroke-width="1"/>
<text x="52.50" y="673.00" font-size="9.8" text-anchor="end" fill="#111">0.5</text>
<line x1="54.50" y1="742.50" x2="58.50" y2="742.50" stroke="#666" stroke-width="1"/>
<text x="52.50" y="745.90" font-size="9.8" text-anchor="end" fill="#111">0</text>
<line x1="63.00" y1="742.50" x2="63.00" y2="745.50" stroke="#666" stroke-width="1"/>
<text x="63.00" y="758.40" font-size="9.8" text-anchor="middle" fill="#111">2</text>
<line x1="92.80" y1="742.50" x2="92.80" y2="745.50" stroke="#666" stroke-width="1"/>
<text x="92.80" y="758.40" font-size="9.8" text-anchor="middle" fill="#111">4</text>
<line x1="122.30" y1="742.50" x2="122.30" y2="745.50" stroke="#666" stroke-width="1"/>
<text x="122.30" y="758.40" font-size="9.8" text-anchor="middle" fill="#111">6</text>
<line x1="151.30" y1="742.50" x2="151.30" y2="745.50" stroke="#666" stroke-width="1"/>
<text x="151.30" y="758.40" font-size="9.8" text-anchor="middle" fill="#111">8</text>
<text x="112.20" y="773.50" font-size="11.2" text-anchor="middle" fill="#111">Duration (s)</text>
<text x="31.50" y="670.00" font-size="11" text-anchor="middle" fill="#111" transform="rotate(-90 31.50 670.00)">CDF</text>
<line x1="58.50" y1="669.60" x2="79.70" y2="669.60" stroke="#333" stroke-width="0.9" stroke-dasharray="1.5 1.5"/>
<line x1="79.70" y1="669.60" x2="79.70" y2="742.50" stroke="#333" stroke-width="0.9" stroke-dasharray="1.5 1.5"/>
<text x="93.30" y="678.20" font-size="9.8" fill="#111">Median: 3.1 s</text>
<text x="94.60" y="703.40" font-size="9.8" fill="#111">1172 bursts</text>
<path d="M58.5,742.5 L64.0,742.4 L66.3,741.8 L67.5,739.0 L68.6,734.0 L69.6,725.0 L70.6,714.0 L71.9,707.0 L73.5,702.0 L75.7,693.0 L77.2,685.0 L78.4,678.0 L79.6,670.5 L81.0,663.0 L83.2,655.8 L86.5,645.0 L90.8,635.7 L95.5,627.0 L100.9,620.5 L106.0,614.5 L111.0,610.4 L115.0,606.0 L118.5,602.9 L121.0,601.3 L123.6,600.9 L127.0,599.2 L132.4,597.3 L140.0,596.9 L167.0,596.6" stroke="#1f2a80" stroke-width="2.2" fill="none" stroke-linejoin="round"/>
<rect x="173.80" y="571.30" width="19.40" height="17.40" fill="#fff" stroke="#222" stroke-width="1"/>
<text x="183.50" y="583.50" font-size="16" text-anchor="middle" fill="#111">g</text>
<line x1="214.90" y1="596.00" x2="214.90" y2="742.00" stroke="#666" stroke-width="1.1"/>
<line x1="214.90" y1="742.00" x2="323.10" y2="742.00" stroke="#666" stroke-width="1.1"/>
<line x1="210.90" y1="601.60" x2="214.90" y2="601.60" stroke="#666" stroke-width="1"/>
<text x="206.30" y="605.00" font-size="9.8" text-anchor="end" fill="#111">1</text>
<line x1="210.90" y1="627.60" x2="214.90" y2="627.60" stroke="#666" stroke-width="1"/>
<text x="206.30" y="631.00" font-size="9.8" text-anchor="end" fill="#111">0.5</text>
<line x1="210.90" y1="653.30" x2="214.90" y2="653.30" stroke="#666" stroke-width="1"/>
<text x="206.30" y="656.70" font-size="9.8" text-anchor="end" fill="#111">0</text>
<line x1="210.90" y1="678.80" x2="214.90" y2="678.80" stroke="#666" stroke-width="1"/>
<text x="206.30" y="682.20" font-size="9.8" text-anchor="end" fill="#111">&#8722;0.5</text>
<line x1="210.90" y1="704.90" x2="214.90" y2="704.90" stroke="#666" stroke-width="1"/>
<text x="206.30" y="708.30" font-size="9.8" text-anchor="end" fill="#111">&#8722;1</text>
<line x1="210.90" y1="731.40" x2="214.90" y2="731.40" stroke="#666" stroke-width="1"/>
<text x="206.30" y="734.80" font-size="9.8" text-anchor="end" fill="#111">&#8722;1.5</text>
<line x1="220.55" y1="742.00" x2="220.55" y2="743.60" stroke="#666" stroke-width="0.8"/>
<line x1="230.99" y1="742.00" x2="230.99" y2="743.60" stroke="#666" stroke-width="0.8"/>
<line x1="238.40" y1="742.00" x2="238.40" y2="743.60" stroke="#666" stroke-width="0.8"/>
<line x1="244.15" y1="742.00" x2="244.15" y2="743.60" stroke="#666" stroke-width="0.8"/>
<line x1="248.84" y1="742.00" x2="248.84" y2="743.60" stroke="#666" stroke-width="0.8"/>
<line x1="252.81" y1="742.00" x2="252.81" y2="743.60" stroke="#666" stroke-width="0.8"/>
<line x1="256.25" y1="742.00" x2="256.25" y2="743.60" stroke="#666" stroke-width="0.8"/>
<line x1="259.29" y1="742.00" x2="259.29" y2="743.60" stroke="#666" stroke-width="0.8"/>
<line x1="262.00" y1="742.00" x2="262.00" y2="745.00" stroke="#666" stroke-width="0.8"/>
<line x1="279.85" y1="742.00" x2="279.85" y2="743.60" stroke="#666" stroke-width="0.8"/>
<line x1="290.29" y1="742.00" x2="290.29" y2="743.60" stroke="#666" stroke-width="0.8"/>
<line x1="297.70" y1="742.00" x2="297.70" y2="743.60" stroke="#666" stroke-width="0.8"/>
<line x1="303.45" y1="742.00" x2="303.45" y2="743.60" stroke="#666" stroke-width="0.8"/>
<line x1="308.14" y1="742.00" x2="308.14" y2="743.60" stroke="#666" stroke-width="0.8"/>
<line x1="312.11" y1="742.00" x2="312.11" y2="743.60" stroke="#666" stroke-width="0.8"/>
<line x1="315.55" y1="742.00" x2="315.55" y2="743.60" stroke="#666" stroke-width="0.8"/>
<line x1="318.59" y1="742.00" x2="318.59" y2="743.60" stroke="#666" stroke-width="0.8"/>
<line x1="321.30" y1="742.00" x2="321.30" y2="745.00" stroke="#666" stroke-width="0.8"/>
<text x="260.30" y="761.40" font-size="9.8" text-anchor="middle" fill="#111">10<tspan font-size="7" dy="-4">1</tspan></text>
<text x="321.30" y="761.40" font-size="9.8" text-anchor="middle" fill="#111">10<tspan font-size="7" dy="-4">2</tspan></text>
<text x="268.40" y="776.00" font-size="11.2" text-anchor="middle" fill="#111">Frequency (Hz)</text>
<text x="183.80" y="669.00" font-size="11.4" text-anchor="middle" fill="#111" transform="rotate(-90 183.80 669.00)">Power (log)</text>
<line x1="219.20" y1="604.10" x2="322.60" y2="740.70" stroke="#b0b0b0" stroke-width="1.3" stroke-dasharray="5 3.3"/>
<path d="M219.2,606.7 L224.0,610.5 L228.0,614.2 L233.0,619.0 L238.1,625.1 L242.0,629.5 L246.9,634.4 L250.5,628.5 L254.5,620.5 L257.5,610.0 L260.8,596.6 L265.3,597.8 L267.5,606.0 L269.6,620.5 L271.3,640.0 L272.9,660.9 L275.9,665.9 L279.0,664.7 L281.0,668.0 L284.8,677.7 L286.5,688.0 L288.5,697.8 L291.0,704.1 L296.0,708.5 L301.1,713.0 L306.0,719.0 L311.2,725.6 L317.0,733.0 L322.6,740.7" stroke="#111" stroke-width="2.2" fill="none" stroke-linejoin="round"/>
<path d="M219.7,605.8 L224.5,609.6 L228.5,613.3 L233.5,618.1 L238.6,624.2 L242.5,628.6 L247.4,633.5 L251.0,627.6 L255.0,619.6 L258.0,609.1 L261.3,595.7 L265.8,596.9 L268.0,605.1 L270.1,619.6 L271.8,639.1 L273.4,660.0 L276.4,665.0 L279.5,663.8 L281.5,667.1 L285.3,676.8 L287.0,687.1 L289.0,696.9 L291.5,703.2 L296.5,707.6 L301.6,712.1 L306.5,718.1 L311.7,724.7 L317.5,732.1 L323.1,739.8" stroke="#2eb8dc" stroke-width="1.6" fill="none" stroke-linejoin="round"/>
<line x1="216.70" y1="703.30" x2="226.00" y2="703.30" stroke="#111" stroke-width="2"/>
<text x="229.30" y="706.70" font-size="9.8" fill="#111">PSD</text>
<line x1="216.70" y1="717.10" x2="226.00" y2="717.10" stroke="#2eb8dc" stroke-width="2"/>
<text x="229.30" y="720.50" font-size="9.8" fill="#111">Full Model Fit</text>
<line x1="216.70" y1="731.80" x2="226.00" y2="731.80" stroke="#bbbbbb" stroke-width="2"/>
<text x="229.30" y="735.20" font-size="9.8" fill="#111">Aperiodic Fit</text>
<rect x="317.40" y="575.40" width="18.60" height="15.00" fill="#fff" stroke="#222" stroke-width="1"/>
<text x="326.70" y="586.50" font-size="16" text-anchor="middle" fill="#111">h</text>
<line x1="362.70" y1="592.00" x2="362.70" y2="621.00" stroke="#444" stroke-width="1.1"/>
<line x1="362.70" y1="621.00" x2="467.20" y2="621.00" stroke="#444" stroke-width="1.1"/>
<line x1="358.70" y1="598.00" x2="362.70" y2="598.00" stroke="#444" stroke-width="1"/>
<line x1="358.70" y1="621.00" x2="362.70" y2="621.00" stroke="#444" stroke-width="1"/>
<text x="357.60" y="601.40" font-size="9.8" text-anchor="end" fill="#111">0.05</text>
<text x="356.80" y="624.40" font-size="9.8" text-anchor="end" fill="#111">0</text>
<line x1="384.00" y1="621.00" x2="384.00" y2="624.00" stroke="#444" stroke-width="1"/>
<text x="384.00" y="636.50" font-size="9.8" text-anchor="middle" fill="#111">20</text>
<line x1="404.20" y1="621.00" x2="404.20" y2="624.00" stroke="#444" stroke-width="1"/>
<text x="404.20" y="636.50" font-size="9.8" text-anchor="middle" fill="#111">40</text>
<line x1="424.40" y1="621.00" x2="424.40" y2="624.00" stroke="#444" stroke-width="1"/>
<text x="424.40" y="636.50" font-size="9.8" text-anchor="middle" fill="#111">60</text>
<line x1="444.60" y1="621.00" x2="444.60" y2="624.00" stroke="#444" stroke-width="1"/>
<text x="444.60" y="636.50" font-size="9.8" text-anchor="middle" fill="#111">80</text>
<text x="454.50" y="636.50" font-size="11" fill="#111">Hz</text>
<text x="331.50" y="608.00" font-size="11" text-anchor="middle" fill="#111" transform="rotate(-90 331.50 608.00)">PDF</text>
<path d="M365.0,620.6 L368.0,619.0 L370.5,616.3 L372.2,612.7 L373.2,603.0 L374.1,593.7 L375.3,593.0 L376.5,595.0 L377.7,598.5 L379.2,603.5 L380.7,608.0 L382.4,606.5 L384.0,606.0 L386.0,609.2 L387.8,614.0 L389.5,617.5 L392.6,617.5 L394.7,614.5 L396.6,613.4 L398.0,616.5 L399.0,618.7 L403.0,618.7 L406.1,615.6 L409.7,619.1 L414.5,619.4 L419.2,618.0 L421.6,620.3 L426.3,619.4 L431.0,620.3 L440.0,619.8 L450.0,619.5 L458.0,619.0 L464.3,618.9 L466.7,620.6" stroke="#111" stroke-width="1.3" fill="none" stroke-linejoin="round"/>
<g filter="url(#bH)"><rect x="363.4" y="641.2" width="103.30000000000001" height="102.09999999999991" fill="#f8f8f8"/><rect x="366" y="641.20" width="6.00" height="8.71" fill="rgb(246,246,246)"/><rect x="414" y="641.20" width="23.00" height="8.71" fill="rgb(244,244,244)"/><rect x="380" y="734.79" width="86.00" height="8.71" fill="rgb(244,244,244)"/><rect x="366" y="658.22" width="9.00" height="8.71" fill="rgb(242,242,242)"/><rect x="440" y="666.73" width="26.00" height="8.71" fill="rgb(242,242,242)"/><rect x="389.4" y="692.25" width="76.60" height="8.71" fill="rgb(240,240,240)"/><rect x="380" y="700.76" width="86.00" height="8.71" fill="rgb(240,240,240)"/><rect x="391" y="641.20" width="23.00" height="8.71" fill="rgb(238,238,238)"/><rect x="445" y="658.22" width="21.00" height="8.71" fill="rgb(236,236,236)"/><rect x="366" y="692.25" width="19.60" height="8.71" fill="rgb(236,236,236)"/><rect x="371.5" y="717.77" width="94.50" height="8.71" fill="rgb(236,236,236)"/><rect x="366" y="726.28" width="7.80" height="8.71" fill="rgb(236,236,236)"/><rect x="367" y="683.74" width="5.60" height="8.71" fill="rgb(232,232,232)"/><rect x="366" y="709.27" width="5.20" height="8.71" fill="rgb(232,232,232)"/><rect x="371" y="649.71" width="7.00" height="8.71" fill="rgb(230,230,230)"/><rect x="421" y="692.25" width="4.00" height="8.71" fill="rgb(228,228,228)"/><rect x="382.2" y="649.71" width="2.80" height="8.71" fill="rgb(225,225,225)"/><rect x="375.5" y="658.22" width="5.50" height="8.71" fill="rgb(225,225,225)"/><rect x="380.5" y="675.23" width="4.50" height="8.71" fill="rgb(220,220,220)"/><rect x="375" y="666.73" width="3.60" height="8.71" fill="rgb(215,215,215)"/><rect x="380" y="683.74" width="4.00" height="8.71" fill="rgb(215,215,215)"/><rect x="416.5" y="709.27" width="3.00" height="8.71" fill="rgb(215,215,215)"/><rect x="366" y="717.77" width="5.50" height="8.71" fill="rgb(215,215,215)"/><rect x="372" y="734.79" width="3.00" height="8.71" fill="rgb(215,215,215)"/><rect x="366" y="700.76" width="14.00" height="8.71" fill="rgb(205,205,205)"/><rect x="404.3" y="709.27" width="3.20" height="8.71" fill="rgb(205,205,205)"/><rect x="393.5" y="709.27" width="3.30" height="8.71" fill="rgb(200,200,200)"/><rect x="408.8" y="692.25" width="3.80" height="8.71" fill="rgb(190,190,190)"/><rect x="385" y="726.28" width="3.00" height="8.71" fill="rgb(190,190,190)"/><rect x="397.6" y="692.25" width="3.60" height="8.71" fill="rgb(170,170,170)"/><rect x="385.6" y="692.25" width="3.80" height="8.71" fill="rgb(165,165,165)"/><rect x="378" y="675.23" width="2.50" height="8.71" fill="rgb(160,160,160)"/><rect x="381.8" y="709.27" width="4.00" height="8.71" fill="rgb(160,160,160)"/><rect x="378.6" y="666.73" width="3.40" height="8.71" fill="rgb(150,150,150)"/><rect x="377.6" y="734.79" width="2.40" height="8.71" fill="rgb(150,150,150)"/><rect x="371.2" y="709.27" width="4.40" height="8.71" fill="rgb(125,125,125)"/><rect x="372.6" y="683.74" width="3.40" height="8.71" fill="rgb(110,110,110)"/><rect x="373.8" y="726.28" width="3.40" height="8.71" fill="rgb(110,110,110)"/><rect x="378.8" y="649.71" width="3.40" height="8.71" fill="rgb(95,95,95)"/><rect x="374.2" y="675.23" width="3.80" height="8.71" fill="rgb(70,70,70)"/><rect x="375" y="734.79" width="2.60" height="8.71" fill="rgb(20,20,20)"/></g>
<line x1="363.40" y1="641.20" x2="363.40" y2="744.30" stroke="#444" stroke-width="1.1"/>
<line x1="363.40" y1="641.20" x2="466.70" y2="641.20" stroke="#444" stroke-width="1.1"/>
<line x1="383.60" y1="641.20" x2="383.60" y2="643.70" stroke="#444" stroke-width="1"/>
<line x1="403.80" y1="641.20" x2="403.80" y2="643.70" stroke="#444" stroke-width="1"/>
<line x1="425.10" y1="641.20" x2="425.10" y2="643.70" stroke="#444" stroke-width="1"/>
<line x1="445.30" y1="641.20" x2="445.30" y2="643.70" stroke="#444" stroke-width="1"/>
<line x1="360.50" y1="646.00" x2="363.40" y2="646.00" stroke="#444" stroke-width="1"/>
<line x1="360.50" y1="739.70" x2="363.40" y2="739.70" stroke="#444" stroke-width="1"/>
<text x="358.00" y="649.40" font-size="9.8" text-anchor="end" fill="#111">1</text>
<text x="358.00" y="743.10" font-size="9.8" text-anchor="end" fill="#111">12</text>
<text x="353.50" y="693.40" font-size="11" text-anchor="middle" fill="#111" transform="rotate(-90 353.50 693.40)">Culture</text>
<rect x="420.40" y="749.70" width="46.30" height="6.60" fill="url(#gray)" stroke="#555" stroke-width="0.6"/>
<text x="417.50" y="756.80" font-size="11" text-anchor="end" fill="#111">PDF</text>
<text x="419.70" y="768.70" font-size="9.8" text-anchor="middle" fill="#111">0</text>
<text x="466.70" y="768.70" font-size="9.8" text-anchor="end" fill="#111">0.5</text>
<rect x="458.30" y="575.00" width="18.30" height="15.60" fill="#fff" stroke="#222" stroke-width="1"/>
<text x="467.45" y="586.50" font-size="16" text-anchor="middle" fill="#111">i</text>
<line x1="518.80" y1="583.00" x2="518.80" y2="621.50" stroke="#333" stroke-width="1.1"/>
<line x1="518.80" y1="621.50" x2="626.10" y2="621.50" stroke="#333" stroke-width="1.1"/>
<line x1="515.30" y1="588.30" x2="518.80" y2="588.30" stroke="#333" stroke-width="1"/>
<text x="513.00" y="591.70" font-size="9.8" text-anchor="end" fill="#111">0.5</text>
<line x1="515.30" y1="596.60" x2="518.80" y2="596.60" stroke="#333" stroke-width="1"/>
<text x="513.00" y="600.00" font-size="9.8" text-anchor="end" fill="#111">0</text>
<line x1="515.30" y1="605.90" x2="518.80" y2="605.90" stroke="#333" stroke-width="1"/>
<text x="513.00" y="609.30" font-size="9.8" text-anchor="end" fill="#111">&#8722;0.5</text>
<line x1="515.30" y1="615.90" x2="518.80" y2="615.90" stroke="#333" stroke-width="1"/>
<text x="513.00" y="619.30" font-size="9.8" text-anchor="end" fill="#111">&#8722;1</text>
<line x1="518.80" y1="621.50" x2="518.80" y2="624.50" stroke="#333" stroke-width="1"/>
<text x="518.80" y="634.80" font-size="9.8" text-anchor="middle" fill="#111">0</text>
<line x1="572.30" y1="621.50" x2="572.30" y2="624.50" stroke="#333" stroke-width="1"/>
<text x="572.30" y="634.80" font-size="9.8" text-anchor="middle" fill="#111">0.1</text>
<line x1="625.50" y1="621.50" x2="625.50" y2="624.50" stroke="#333" stroke-width="1"/>
<text x="625.50" y="634.80" font-size="9.8" text-anchor="middle" fill="#111">0.2</text>
<text x="632.00" y="634.80" font-size="9.8" fill="#111">(s)</text>
<text x="490.00" y="605.50" font-size="11" text-anchor="middle" fill="#111" transform="rotate(-90 490.00 605.50)">ACG (av.)</text>
<path d="M518.80,619.90 L519.65,616.95 L520.50,614.00 L521.50,611.00 L522.50,608.00 L523.50,605.00 L524.50,602.00 L525.25,600.25 L526.00,598.50 L527.10,597.30 L527.83,596.81 L528.55,597.12 L529.27,596.92 L530.00,596.50 L530.75,596.74 L531.50,595.77 L532.25,595.65 L533.00,595.80 L533.85,595.15 L534.70,595.02 L535.55,595.41 L536.40,594.90 L537.12,594.28 L537.84,594.58 L538.56,594.02 L539.28,593.93 L540.00,594.00 L540.80,593.62 L541.60,593.81 L542.40,593.23 L543.20,592.22 L544.00,592.50 L544.71,591.99 L545.42,591.60 L546.14,592.23 L546.85,591.92 L547.56,591.68 L548.28,591.47 L548.99,591.13 L549.70,590.60 L550.53,590.79 L551.35,590.25 L552.17,589.26 L553.00,589.20 L553.75,589.39 L554.50,588.73 L555.25,588.83 L556.00,588.30 L556.74,588.18 L557.48,587.82 L558.22,587.54 L558.96,587.42 L559.70,587.30 L560.53,587.20 L561.35,587.09 L562.17,588.06 L563.00,587.80 L563.83,588.28 L564.65,588.63 L565.47,588.40 L566.30,588.30 L567.04,588.51 L567.78,588.88 L568.52,588.28 L569.26,589.07 L570.00,589.00 L570.71,589.07 L571.43,588.90 L572.14,589.07 L572.86,589.60 L573.57,589.42 L574.29,589.81 L575.00,590.00 L575.73,590.27 L576.45,590.17 L577.18,589.99 L577.91,590.57 L578.64,590.41 L579.36,590.56 L580.09,590.65 L580.82,591.00 L581.55,590.80 L582.27,591.64 L583.00,591.60 L583.70,592.26 L584.40,591.71 L585.10,592.22 L585.80,592.60 L586.50,591.65 L587.20,591.89 L587.90,592.81 L588.60,592.97 L589.30,592.85 L590.00,592.80 L590.77,592.53 L591.55,592.97 L592.33,593.65 L593.10,593.81 L593.88,593.85 L594.65,593.27 L595.43,594.19 L596.20,593.90 L596.93,593.70 L597.65,594.06 L598.38,593.31 L599.10,594.27 L599.83,593.77 L600.55,593.87 L601.27,593.20 L602.00,593.50 L602.75,593.68 L603.50,593.68 L604.25,593.73 L605.00,593.49 L605.75,593.97 L606.50,593.55 L607.25,593.53 L608.00,593.42 L608.75,594.08 L609.50,593.90 L610.29,593.56 L611.07,593.83 L611.86,593.77 L612.64,594.59 L613.43,594.61 L614.21,594.72 L615.00,594.80 L615.71,594.30 L616.43,594.84 L617.14,594.78 L617.86,594.54 L618.57,594.49 L619.29,595.74 L620.00,595.20 L620.75,594.86 L621.50,595.20 L622.25,595.27 L623.00,595.78 L623.75,595.28 L624.50,595.90" stroke="#111" stroke-width="1.1" fill="none" stroke-linejoin="round"/>
<g clip-path="url(#cU)"><g filter="url(#fU)"><rect x="505.8" y="629.3" width="12.7" height="13.2" fill="rgb(158,158,158)"/><rect x="517.9" y="629.3" width="12.7" height="13.2" fill="rgb(158,158,158)"/><rect x="530.0" y="629.3" width="12.7" height="13.2" fill="rgb(135,135,135)"/><rect x="542.1" y="629.3" width="12.7" height="13.2" fill="rgb(133,133,133)"/><rect x="554.2" y="629.3" width="12.7" height="13.2" fill="rgb(133,133,133)"/><rect x="566.3" y="629.3" width="12.7" height="13.2" fill="rgb(133,133,133)"/><rect x="578.5" y="629.3" width="12.7" height="13.2" fill="rgb(133,133,133)"/><rect x="590.6" y="629.3" width="12.7" height="13.2" fill="rgb(133,133,133)"/><rect x="602.7" y="629.3" width="12.7" height="13.2" fill="rgb(133,133,133)"/><rect x="614.8" y="629.3" width="12.7" height="13.2" fill="rgb(133,133,133)"/><rect x="626.9" y="629.3" width="12.7" height="13.2" fill="rgb(133,133,133)"/><rect x="505.8" y="641.9" width="12.7" height="13.2" fill="rgb(158,158,158)"/><rect x="517.9" y="641.9" width="12.7" height="13.2" fill="rgb(158,158,158)"/><rect x="530.0" y="641.9" width="12.7" height="13.2" fill="rgb(135,135,135)"/><rect x="542.1" y="641.9" width="12.7" height="13.2" fill="rgb(133,133,133)"/><rect x="554.2" y="641.9" width="12.7" height="13.2" fill="rgb(133,133,133)"/><rect x="566.3" y="641.9" width="12.7" height="13.2" fill="rgb(133,133,133)"/><rect x="578.5" y="641.9" width="12.7" height="13.2" fill="rgb(133,133,133)"/><rect x="590.6" y="641.9" width="12.7" height="13.2" fill="rgb(133,133,133)"/><rect x="602.7" y="641.9" width="12.7" height="13.2" fill="rgb(133,133,133)"/><rect x="614.8" y="641.9" width="12.7" height="13.2" fill="rgb(133,133,133)"/><rect x="626.9" y="641.9" width="12.7" height="13.2" fill="rgb(133,133,133)"/><rect x="505.8" y="654.5" width="12.7" height="13.2" fill="rgb(117,117,117)"/><rect x="517.9" y="654.5" width="12.7" height="13.2" fill="rgb(117,117,117)"/><rect x="530.0" y="654.5" width="12.7" height="13.2" fill="rgb(133,133,133)"/><rect x="542.1" y="654.5" width="12.7" height="13.2" fill="rgb(135,135,135)"/><rect x="554.2" y="654.5" width="12.7" height="13.2" fill="rgb(135,135,135)"/><rect x="566.3" y="654.5" width="12.7" height="13.2" fill="rgb(138,138,138)"/><rect x="578.5" y="654.5" width="12.7" height="13.2" fill="rgb(138,138,138)"/><rect x="590.6" y="654.5" width="12.7" height="13.2" fill="rgb(135,135,135)"/><rect x="602.7" y="654.5" width="12.7" height="13.2" fill="rgb(135,135,135)"/><rect x="614.8" y="654.5" width="12.7" height="13.2" fill="rgb(135,135,135)"/><rect x="626.9" y="654.5" width="12.7" height="13.2" fill="rgb(135,135,135)"/><rect x="505.8" y="667.2" width="12.7" height="13.2" fill="rgb(102,102,102)"/><rect x="517.9" y="667.2" width="12.7" height="13.2" fill="rgb(102,102,102)"/><rect x="530.0" y="667.2" width="12.7" height="13.2" fill="rgb(128,128,128)"/><rect x="542.1" y="667.2" width="12.7" height="13.2" fill="rgb(138,138,138)"/><rect x="554.2" y="667.2" width="12.7" height="13.2" fill="rgb(143,143,143)"/><rect x="566.3" y="667.2" width="12.7" height="13.2" fill="rgb(143,143,143)"/><rect x="578.5" y="667.2" width="12.7" height="13.2" fill="rgb(143,143,143)"/><rect x="590.6" y="667.2" width="12.7" height="13.2" fill="rgb(140,140,140)"/><rect x="602.7" y="667.2" width="12.7" height="13.2" fill="rgb(138,138,138)"/><rect x="614.8" y="667.2" width="12.7" height="13.2" fill="rgb(138,138,138)"/><rect x="626.9" y="667.2" width="12.7" height="13.2" fill="rgb(138,138,138)"/><rect x="505.8" y="679.8" width="12.7" height="13.2" fill="rgb(71,71,71)"/><rect x="517.9" y="679.8" width="12.7" height="13.2" fill="rgb(71,71,71)"/><rect x="530.0" y="679.8" width="12.7" height="13.2" fill="rgb(112,112,112)"/><rect x="542.1" y="679.8" width="12.7" height="13.2" fill="rgb(138,138,138)"/><rect x="554.2" y="679.8" width="12.7" height="13.2" fill="rgb(148,148,148)"/><rect x="566.3" y="679.8" width="12.7" height="13.2" fill="rgb(150,150,150)"/><rect x="578.5" y="679.8" width="12.7" height="13.2" fill="rgb(148,148,148)"/><rect x="590.6" y="679.8" width="12.7" height="13.2" fill="rgb(143,143,143)"/><rect x="602.7" y="679.8" width="12.7" height="13.2" fill="rgb(140,140,140)"/><rect x="614.8" y="679.8" width="12.7" height="13.2" fill="rgb(140,140,140)"/><rect x="626.9" y="679.8" width="12.7" height="13.2" fill="rgb(140,140,140)"/><rect x="505.8" y="692.5" width="12.7" height="13.2" fill="rgb(31,31,31)"/><rect x="517.9" y="692.5" width="12.7" height="13.2" fill="rgb(31,31,31)"/><rect x="530.0" y="692.5" width="12.7" height="13.2" fill="rgb(76,76,76)"/><rect x="542.1" y="692.5" width="12.7" height="13.2" fill="rgb(138,138,138)"/><rect x="554.2" y="692.5" width="12.7" height="13.2" fill="rgb(158,158,158)"/><rect x="566.3" y="692.5" width="12.7" height="13.2" fill="rgb(161,161,161)"/><rect x="578.5" y="692.5" width="12.7" height="13.2" fill="rgb(156,156,156)"/><rect x="590.6" y="692.5" width="12.7" height="13.2" fill="rgb(148,148,148)"/><rect x="602.7" y="692.5" width="12.7" height="13.2" fill="rgb(143,143,143)"/><rect x="614.8" y="692.5" width="12.7" height="13.2" fill="rgb(140,140,140)"/><rect x="626.9" y="692.5" width="12.7" height="13.2" fill="rgb(140,140,140)"/><rect x="505.8" y="705.1" width="12.7" height="13.2" fill="rgb(18,18,18)"/><rect x="517.9" y="705.1" width="12.7" height="13.2" fill="rgb(18,18,18)"/><rect x="530.0" y="705.1" width="12.7" height="13.2" fill="rgb(71,71,71)"/><rect x="542.1" y="705.1" width="12.7" height="13.2" fill="rgb(153,153,153)"/><rect x="554.2" y="705.1" width="12.7" height="13.2" fill="rgb(176,176,176)"/><rect x="566.3" y="705.1" width="12.7" height="13.2" fill="rgb(176,176,176)"/><rect x="578.5" y="705.1" width="12.7" height="13.2" fill="rgb(166,166,166)"/><rect x="590.6" y="705.1" width="12.7" height="13.2" fill="rgb(156,156,156)"/><rect x="602.7" y="705.1" width="12.7" height="13.2" fill="rgb(148,148,148)"/><rect x="614.8" y="705.1" width="12.7" height="13.2" fill="rgb(143,143,143)"/><rect x="626.9" y="705.1" width="12.7" height="13.2" fill="rgb(143,143,143)"/><rect x="505.8" y="717.7" width="12.7" height="13.2" fill="rgb(18,18,18)"/><rect x="517.9" y="717.7" width="12.7" height="13.2" fill="rgb(18,18,18)"/><rect x="530.0" y="717.7" width="12.7" height="13.2" fill="rgb(115,115,115)"/><rect x="542.1" y="717.7" width="12.7" height="13.2" fill="rgb(196,196,196)"/><rect x="554.2" y="717.7" width="12.7" height="13.2" fill="rgb(212,212,212)"/><rect x="566.3" y="717.7" width="12.7" height="13.2" fill="rgb(207,207,207)"/><rect x="578.5" y="717.7" width="12.7" height="13.2" fill="rgb(191,191,191)"/><rect x="590.6" y="717.7" width="12.7" height="13.2" fill="rgb(171,171,171)"/><rect x="602.7" y="717.7" width="12.7" height="13.2" fill="rgb(156,156,156)"/><rect x="614.8" y="717.7" width="12.7" height="13.2" fill="rgb(148,148,148)"/><rect x="626.9" y="717.7" width="12.7" height="13.2" fill="rgb(148,148,148)"/><rect x="505.8" y="730.4" width="12.7" height="13.2" fill="rgb(23,23,23)"/><rect x="517.9" y="730.4" width="12.7" height="13.2" fill="rgb(23,23,23)"/><rect x="530.0" y="730.4" width="12.7" height="13.2" fill="rgb(178,178,178)"/><rect x="542.1" y="730.4" width="12.7" height="13.2" fill="rgb(235,235,235)"/><rect x="554.2" y="730.4" width="12.7" height="13.2" fill="rgb(240,240,240)"/><rect x="566.3" y="730.4" width="12.7" height="13.2" fill="rgb(235,235,235)"/><rect x="578.5" y="730.4" width="12.7" height="13.2" fill="rgb(224,224,224)"/><rect x="590.6" y="730.4" width="12.7" height="13.2" fill="rgb(199,199,199)"/><rect x="602.7" y="730.4" width="12.7" height="13.2" fill="rgb(171,171,171)"/><rect x="614.8" y="730.4" width="12.7" height="13.2" fill="rgb(156,156,156)"/><rect x="626.9" y="730.4" width="12.7" height="13.2" fill="rgb(156,156,156)"/><rect x="505.8" y="743.0" width="12.7" height="13.2" fill="rgb(23,23,23)"/><rect x="517.9" y="743.0" width="12.7" height="13.2" fill="rgb(23,23,23)"/><rect x="530.0" y="743.0" width="12.7" height="13.2" fill="rgb(178,178,178)"/><rect x="542.1" y="743.0" width="12.7" height="13.2" fill="rgb(235,235,235)"/><rect x="554.2" y="743.0" width="12.7" height="13.2" fill="rgb(240,240,240)"/><rect x="566.3" y="743.0" width="12.7" height="13.2" fill="rgb(235,235,235)"/><rect x="578.5" y="743.0" width="12.7" height="13.2" fill="rgb(224,224,224)"/><rect x="590.6" y="743.0" width="12.7" height="13.2" fill="rgb(199,199,199)"/><rect x="602.7" y="743.0" width="12.7" height="13.2" fill="rgb(171,171,171)"/><rect x="614.8" y="743.0" width="12.7" height="13.2" fill="rgb(156,156,156)"/><rect x="626.9" y="743.0" width="12.7" height="13.2" fill="rgb(156,156,156)"/></g></g>
<line x1="517.90" y1="641.90" x2="626.90" y2="641.90" stroke="#3a3a6a" stroke-width="1.6"/>
<line x1="517.90" y1="641.90" x2="517.90" y2="743.00" stroke="#333" stroke-width="1"/>
<line x1="515.40" y1="641.90" x2="517.90" y2="641.90" stroke="#333" stroke-width="1"/>
<line x1="515.40" y1="743.00" x2="517.90" y2="743.00" stroke="#333" stroke-width="1"/>
<line x1="571.80" y1="641.90" x2="571.80" y2="639.40" stroke="#333" stroke-width="1"/>
<line x1="626.90" y1="641.90" x2="626.90" y2="639.40" stroke="#333" stroke-width="1"/>
<text x="508.80" y="645.30" font-size="9.8" text-anchor="end" fill="#111">611</text>
<text x="508.80" y="747.00" font-size="9.8" text-anchor="end" fill="#111">1</text>
<text x="503.00" y="691.90" font-size="11" text-anchor="middle" fill="#111" transform="rotate(-90 503.00 691.90)">Units</text>
<text x="571.50" y="755.80" font-size="11.2" text-anchor="middle" fill="#111">Lag (one-sided)</text>
<rect x="634.00" y="659.40" width="6.30" height="67.90" fill="url(#parula)"/>
<text x="643.50" y="663.00" font-size="9.8" fill="#111">2</text>
<text x="643.50" y="698.00" font-size="9.8" fill="#111">0</text>
<text x="641.50" y="731.30" font-size="9.8" fill="#111">&#8722;2</text>
<text x="661.50" y="693.30" font-size="11" text-anchor="middle" fill="#111" transform="rotate(90 661.50 693.30)">ACG (z-scored)</text>
<path d="M475.90,41.50 L475.71,44.63 L473.99,47.48 L472.51,50.18 L471.85,53.11 L470.55,55.84 L468.49,58.11 L466.52,60.41 L464.25,62.41 L461.49,63.79 L459.06,65.55 L456.87,67.98 L454.11,69.70 L450.93,70.32 L447.71,70.60 L444.50,70.39 L441.41,69.57 L438.38,68.93 L435.29,68.53 L432.30,67.63 L429.59,66.13 L426.97,64.50 L424.48,62.70 L422.32,60.54 L420.21,58.32 L418.04,56.07 L416.43,53.41 L415.68,50.43 L415.23,47.43 L414.95,44.46 L415.08,41.50 L415.22,38.57 L415.21,35.57 L415.76,32.60 L417.07,29.86 L418.55,27.22 L420.11,24.61 L422.09,22.26 L424.28,20.10 L426.57,17.98 L429.29,16.39 L432.38,15.55 L435.41,14.84 L438.37,14.02 L441.41,13.47 L444.50,13.10 L447.67,12.77 L450.84,13.04 L453.83,14.13 L456.70,15.37 L459.61,16.54 L462.29,18.16 L464.66,20.16 L466.99,22.20 L468.74,24.71 L469.51,27.74 L470.50,30.46 L472.40,32.86 L474.02,35.52 L475.01,38.44 Z" fill="url(#bigorg)" filter="url(#soft)"/>
<circle cx="436" cy="26" r="0.5" fill="#a88088"/>
<circle cx="425" cy="35" r="0.5" fill="#a88088"/>
<circle cx="454" cy="30" r="0.5" fill="#a88088"/>
<circle cx="432" cy="48" r="0.5" fill="#a88088"/>
<circle cx="447" cy="22" r="0.5" fill="#a88088"/>
<path d="M471.5,61.5 Q490,74 511,47" stroke="#93c4d6" stroke-width="2.2" fill="none"/>
<path d="M506.5,47.5 L514.8,40.5 L514.5,51 Z" fill="#8ec3d7"/>
<path d="M497,24 Q496,33 511,34 Q526,33.5 526.5,23 Z" fill="#a2747b"/>
<path d="M496,20 Q511,27 526.8,20 L526.6,24.5 Q512,31.5 496.2,25 Z" fill="#ddd0d2"/>
<path d="M495.6,16 Q511,22 527,15.5 L526.8,20.5 Q511,27.5 495.8,21 Z" fill="#f3efef"/>
<path d="M495.6,16.5 Q495,3.5 510,2.7 Q525,3.2 527,15.5 Q511,22 495.6,16.5 Z" fill="url(#smorg)"/>
<path d="M485.6,13.4 L514,1.8 L535.4,12.5 L502.5,24.5 Z" fill="#ffffff" fill-opacity="0.25" stroke="#d0dde3" stroke-width="0.7"/>
<path d="M485.6,16.4 L502.5,27.5 L535.4,15.5" fill="none" stroke="#d0dde3" stroke-width="0.7"/>
<circle cx="507.5" cy="8.5" r="0.5" fill="#b08890"/>
<circle cx="501" cy="13" r="0.5" fill="#b08890"/>
<circle cx="503" cy="11" r="0.5" fill="#b08890"/>
<path d="M538,11.6 H540.8 V17.8 H538" stroke="#777" stroke-width="0.8" fill="none"/>
<line x1="541.40" y1="15.10" x2="560.10" y2="15.10" stroke="#888" stroke-width="0.8" stroke-dasharray="1.2 1.2"/>
<path d="M562.2,11 L562.2,15.5 Q565,21.5 574,21.8 Q584,21 585.2,14.5 L585.2,10 Z" fill="#d4a2a8"/>
<path d="M562,11.5 Q561,6 568,4.6 Q576,3.5 582,5.5 Q586.5,8 585,12.5 Q583,17.2 574,17.5 Q564,17.5 562,11.5 Z" fill="#ecc7c8" stroke="#d6a9ad" stroke-width="0.4"/>
<text x="593.00" y="12.80" font-size="10" fill="#111">Sliced</text>
<text x="587.70" y="21.40" font-size="10" fill="#111">Organoid</text>
<line x1="573.80" y1="22.30" x2="573.80" y2="50.00" stroke="#8ec3d7" stroke-width="1.6"/>
<path d="M569.8,48.5 L577.8,48.5 L573.8,55.7 Z" fill="#8ec3d7"/>
<path d="M551.6,68.1 L567.6,58.3 L595.5,72.7 L577.4,81 Z" fill="#8ccf3e"/>
<path d="M561.4,70.1 L571.8,63.4 L586.5,68.6 L576.1,75.8 Z" fill="#e2f0d4"/>
<text x="597.60" y="70.70" font-size="10" fill="#111">Mounted</text>
<text x="594.20" y="78.40" font-size="10" fill="#111">on the Chip</text>
<path d="M510.6,128 L571.4,97 L632.2,128 L571.4,166.5 Z" fill="#f4f2ea" stroke="#cfcab8" stroke-width="0.6"/>
<path d="M510.6,128 L510.6,129.6 L571.4,168.2 L571.4,166.5 Z" fill="#ddd9cb"/>
<path d="M571.4,166.5 L571.4,168.2 L632.2,129.6 L632.2,128 Z" fill="#e8e5da"/>
<ellipse cx="571" cy="128" rx="38" ry="23" fill="none" stroke="#a8a49a" stroke-width="0.6"/>
<path d="M540,112.5 L540,126.5 A31.5,19.5 0 0 0 603,126.5 L603,112.5 Z" fill="url(#wall)"/>
<path d="M540,125 A31.5,19.5 0 0 0 603,125 L603,127 A31.5,19.5 0 0 1 540,127 Z" fill="#b5823f"/>
<ellipse cx="571.5" cy="112.5" rx="31.5" ry="19.5" fill="#f7f5f0" stroke="#d5d1c6" stroke-width="0.5"/>
<ellipse cx="571.5" cy="113.2" rx="28" ry="17" fill="#e6e3da"/>
<g clip-path="url(#cDish)"><ellipse cx="571.5" cy="119.5" rx="28.5" ry="14.5" fill="#2a1612"/></g>
<path d="M555.1,122.8 L566.5,116 L586.1,125 L573.5,130.2 Z" fill="#8ccf3e"/>
<ellipse cx="570.5" cy="123.5" rx="6.2" ry="3.4" fill="#eab8bc"/>
<line x1="574.00" y1="81.00" x2="574.00" y2="108.00" stroke="#8ec3d7" stroke-width="1.6"/>
<path d="M570.3,106.5 L577.7,106.5 L574,113.2 Z" fill="#8ec3d7"/>
<text x="592.00" y="167.50" font-size="10" fill="#111" transform="rotate(-33 592.00 167.50)">HD-MEA</text>
<g clip-path="url(#cC)" filter="url(#fsp)" opacity="0.8"><ellipse cx="581" cy="237" rx="2.6" ry="16" fill="#ec1c50"/><ellipse cx="581" cy="226" rx="1.8" ry="6" fill="#f04040"/><path d="M442.5,258 L446,257.5 L447.5,260 L446.5,263 L443.5,263.5 L442,261 Z" fill="#e81850"/><ellipse cx="474" cy="318" rx="4.5" ry="9" fill="#f59a24"/><ellipse cx="474.5" cy="318" rx="2.5" ry="6" fill="#ec2050"/><ellipse cx="557.5" cy="318" rx="2" ry="13" fill="#f03a38"/><ellipse cx="568" cy="322" rx="1.8" ry="11" fill="#ee2a48"/><ellipse cx="584" cy="312" rx="2" ry="7" fill="#ee2a48"/><ellipse cx="535.5" cy="255" rx="2.5" ry="4" fill="#ee2a48"/><ellipse cx="418" cy="304" rx="2" ry="3" fill="#ee3040"/><ellipse cx="393" cy="308" rx="2.5" ry="2.5" fill="#ef3a3a"/><ellipse cx="534" cy="238" rx="2" ry="5" fill="#f05030"/></g>
<g clip-path="url(#cB)" filter="url(#fsp)"><path d="M145.5,336 L143,330 L144,324 L142.5,319 L146,314 L148,309 L151.5,306.5 L154,305.5 L156.5,303.5 L158.5,304.5 L158,309 L159.5,313 L157.5,318 L158,323 L155.5,327 L154,332 L150,335.5 Z" fill="#f0124c"/><path d="M147,331 L150,326 L149,320 L152,316 L154,312" fill="none" stroke="#fb8a2a" stroke-width="1.2"/><rect x="147" y="331" width="1.6" height="1.6" fill="#fdc040"/><rect x="148.5" y="324" width="1.6" height="1.6" fill="#4aa0d0"/><rect x="150.5" y="318" width="1.6" height="1.6" fill="#fde0a0"/><rect x="153" y="312" width="1.6" height="1.6" fill="#f8a030"/><rect x="146" y="326" width="1.6" height="1.6" fill="#f8b030"/><rect x="151" y="329" width="1.6" height="1.6" fill="#ffffff"/><rect x="154.5" y="320" width="1.6" height="1.6" fill="#f8a030"/><rect x="144.5" y="333" width="1.6" height="1.6" fill="#8cc8e0"/><ellipse cx="69.5" cy="253" rx="2" ry="6" fill="#ec3040"/><ellipse cx="69.5" cy="258" rx="1.5" ry="3" fill="#f8a030"/><ellipse cx="81" cy="203" rx="1.5" ry="2" fill="#e84050"/><ellipse cx="232.5" cy="296" rx="1.6" ry="7" fill="#ec3040"/><ellipse cx="208.8" cy="268" rx="1.4" ry="2" fill="#e83048"/><ellipse cx="256.5" cy="316" rx="1.5" ry="3" fill="#e83048"/><ellipse cx="217" cy="230" rx="1.5" ry="2.5" fill="#f0a030"/><ellipse cx="233" cy="322" rx="1.5" ry="3" fill="#f8b030"/></g>
</svg>
</body></html>
